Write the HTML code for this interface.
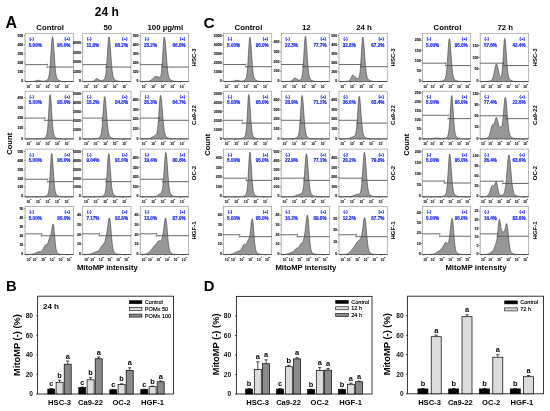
<!DOCTYPE html>
<html><head><meta charset="utf-8"><style>
html,body{margin:0;padding:0;background:#fff;}
body{width:550px;height:411px;overflow:hidden;font-family:"Liberation Sans", sans-serif;}
svg{display:block;filter:blur(0.3px);}
svg text{font-family:"Liberation Sans", sans-serif;}
</style></head><body>
<svg width="550" height="411" viewBox="0 0 550 411" font-family='"Liberation Sans", sans-serif'>
<rect width="550" height="411" fill="#fff"/>
<text x="5.60" y="27.80" font-size="16" text-anchor="start" font-weight="bold" fill="#000">A</text>
<text x="106.80" y="16.30" font-size="12" text-anchor="middle" font-weight="bold" fill="#000">24 h</text>
<text x="203.50" y="27.60" font-size="15.5" text-anchor="start" font-weight="bold" fill="#000">C</text>
<text x="50.15" y="29.80" font-size="7.8" text-anchor="middle" font-weight="bold" fill="#000">Control</text>
<g transform="translate(25.10,33.30)">
<rect x="0" y="0" width="48.3" height="48.2" fill="#fff" stroke="#9a9a9a" stroke-width="0.7"/>
<line x1="-1.2" y1="2.30" x2="0" y2="2.30" stroke="#444" stroke-width="0.6"/>
<text x="-1.8" y="3.55" font-size="3.5" text-anchor="end" font-weight="bold" fill="#111" stroke="#111" stroke-width="0.12">500</text>
<line x1="-0.7" y1="4.56" x2="0" y2="4.56" stroke="#777" stroke-width="0.4"/>
<line x1="-0.7" y1="6.83" x2="0" y2="6.83" stroke="#777" stroke-width="0.4"/>
<line x1="-0.7" y1="9.09" x2="0" y2="9.09" stroke="#777" stroke-width="0.4"/>
<line x1="-1.2" y1="11.36" x2="0" y2="11.36" stroke="#444" stroke-width="0.6"/>
<text x="-1.8" y="12.61" font-size="3.5" text-anchor="end" font-weight="bold" fill="#111" stroke="#111" stroke-width="0.12">400</text>
<line x1="-0.7" y1="13.62" x2="0" y2="13.62" stroke="#777" stroke-width="0.4"/>
<line x1="-0.7" y1="15.89" x2="0" y2="15.89" stroke="#777" stroke-width="0.4"/>
<line x1="-0.7" y1="18.16" x2="0" y2="18.16" stroke="#777" stroke-width="0.4"/>
<line x1="-1.2" y1="20.42" x2="0" y2="20.42" stroke="#444" stroke-width="0.6"/>
<text x="-1.8" y="21.67" font-size="3.5" text-anchor="end" font-weight="bold" fill="#111" stroke="#111" stroke-width="0.12">300</text>
<line x1="-0.7" y1="22.69" x2="0" y2="22.69" stroke="#777" stroke-width="0.4"/>
<line x1="-0.7" y1="24.95" x2="0" y2="24.95" stroke="#777" stroke-width="0.4"/>
<line x1="-0.7" y1="27.22" x2="0" y2="27.22" stroke="#777" stroke-width="0.4"/>
<line x1="-1.2" y1="29.48" x2="0" y2="29.48" stroke="#444" stroke-width="0.6"/>
<text x="-1.8" y="30.73" font-size="3.5" text-anchor="end" font-weight="bold" fill="#111" stroke="#111" stroke-width="0.12">200</text>
<line x1="-0.7" y1="31.75" x2="0" y2="31.75" stroke="#777" stroke-width="0.4"/>
<line x1="-0.7" y1="34.01" x2="0" y2="34.01" stroke="#777" stroke-width="0.4"/>
<line x1="-0.7" y1="36.27" x2="0" y2="36.27" stroke="#777" stroke-width="0.4"/>
<line x1="-1.2" y1="38.54" x2="0" y2="38.54" stroke="#444" stroke-width="0.6"/>
<text x="-1.8" y="39.79" font-size="3.5" text-anchor="end" font-weight="bold" fill="#111" stroke="#111" stroke-width="0.12">100</text>
<line x1="-0.7" y1="40.80" x2="0" y2="40.80" stroke="#777" stroke-width="0.4"/>
<line x1="-0.7" y1="43.07" x2="0" y2="43.07" stroke="#777" stroke-width="0.4"/>
<line x1="-0.7" y1="45.34" x2="0" y2="45.34" stroke="#777" stroke-width="0.4"/>
<line x1="-1.2" y1="47.60" x2="0" y2="47.60" stroke="#444" stroke-width="0.6"/>
<text x="-1.8" y="48.85" font-size="3.5" text-anchor="end" font-weight="bold" fill="#111" stroke="#111" stroke-width="0.12">0</text>
<line x1="2.00" y1="48.2" x2="2.00" y2="49.30" stroke="#555" stroke-width="0.6"/>
<text x="3.20" y="54.70" font-size="3.3" text-anchor="middle" font-weight="bold" fill="#222" stroke="#222" stroke-width="0.1">10</text>
<text x="4.90" y="51.60" font-size="2.5" font-weight="bold" fill="#222" stroke="#222" stroke-width="0.08">3</text>
<line x1="11.55" y1="48.2" x2="11.55" y2="49.30" stroke="#555" stroke-width="0.6"/>
<text x="12.75" y="54.70" font-size="3.3" text-anchor="middle" font-weight="bold" fill="#222" stroke="#222" stroke-width="0.1">10</text>
<text x="14.45" y="51.60" font-size="2.5" font-weight="bold" fill="#222" stroke="#222" stroke-width="0.08">4</text>
<line x1="21.10" y1="48.2" x2="21.10" y2="49.30" stroke="#555" stroke-width="0.6"/>
<text x="22.30" y="54.70" font-size="3.3" text-anchor="middle" font-weight="bold" fill="#222" stroke="#222" stroke-width="0.1">10</text>
<text x="24.00" y="51.60" font-size="2.5" font-weight="bold" fill="#222" stroke="#222" stroke-width="0.08">5</text>
<line x1="30.65" y1="48.2" x2="30.65" y2="49.30" stroke="#555" stroke-width="0.6"/>
<text x="31.85" y="54.70" font-size="3.3" text-anchor="middle" font-weight="bold" fill="#222" stroke="#222" stroke-width="0.1">10</text>
<text x="33.55" y="51.60" font-size="2.5" font-weight="bold" fill="#222" stroke="#222" stroke-width="0.08">6</text>
<line x1="40.20" y1="48.2" x2="40.20" y2="49.30" stroke="#555" stroke-width="0.6"/>
<text x="41.40" y="54.70" font-size="3.3" text-anchor="middle" font-weight="bold" fill="#222" stroke="#222" stroke-width="0.1">10</text>
<text x="43.10" y="51.60" font-size="2.5" font-weight="bold" fill="#222" stroke="#222" stroke-width="0.08">7</text>
<path d="M0,48.20 L0.00,48.19 L0.40,48.19 L0.80,48.19 L1.21,48.19 L1.61,48.19 L2.01,48.19 L2.41,48.19 L2.82,48.18 L3.22,48.18 L3.62,48.18 L4.03,48.17 L4.43,48.17 L4.83,48.16 L5.23,48.16 L5.63,48.15 L6.04,48.15 L6.44,48.14 L6.84,48.12 L7.25,48.10 L7.65,48.08 L8.05,48.05 L8.45,48.00 L8.85,47.94 L9.26,47.87 L9.66,47.77 L10.06,47.67 L10.46,47.55 L10.87,47.42 L11.27,47.30 L11.67,47.19 L12.07,47.09 L12.48,47.03 L12.88,47.00 L13.28,47.00 L13.68,47.05 L14.09,47.12 L14.49,47.22 L14.89,47.34 L15.29,47.46 L15.70,47.57 L16.10,47.68 L16.50,47.76 L16.90,47.83 L17.31,47.87 L17.71,47.89 L18.11,47.89 L18.51,47.87 L18.92,47.82 L19.32,47.75 L19.72,47.66 L20.12,47.55 L20.53,47.41 L20.93,47.24 L21.33,47.05 L21.73,46.81 L22.14,46.51 L22.54,46.12 L22.94,45.55 L23.34,44.68 L23.75,43.30 L24.15,41.18 L24.55,38.05 L24.95,33.71 L25.36,28.17 L25.76,21.74 L26.16,15.10 L26.56,9.19 L26.97,5.02 L27.37,3.38 L27.77,4.44 L28.18,7.82 L28.58,12.94 L28.98,19.00 L29.38,25.18 L29.79,30.84 L30.19,35.55 L30.59,39.19 L30.99,41.82 L31.39,43.63 L31.80,44.82 L32.20,45.61 L32.60,46.14 L33.01,46.51 L33.41,46.80 L33.81,47.03 L34.21,47.23 L34.62,47.40 L35.02,47.54 L35.42,47.67 L35.82,47.77 L36.23,47.86 L36.63,47.93 L37.03,47.99 L37.43,48.04 L37.84,48.08 L38.24,48.11 L38.64,48.13 L39.04,48.15 L39.45,48.16 L39.85,48.17 L40.25,48.18 L40.65,48.19 L41.05,48.19 L41.46,48.19 L41.86,48.20 L42.26,48.20 L42.66,48.20 L43.07,48.20 L43.47,48.20 L43.87,48.20 L44.27,48.20 L44.68,48.20 L45.08,48.20 L45.48,48.20 L45.88,48.20 L46.29,48.20 L46.69,48.20 L47.09,48.20 L47.49,48.20 L47.90,48.20 L48.30,48.20 L48.30,48.20 Z" fill="#979797" stroke="#3a3a3a" stroke-width="0.6" stroke-linejoin="round"/>
<line x1="0" y1="31.33" x2="22.40" y2="31.33" stroke="#474747" stroke-width="0.8"/>
<line x1="22.40" y1="30.43" x2="22.40" y2="32.23" stroke="#505050" stroke-width="0.6"/>
<line x1="21.90" y1="33.74" x2="48.3" y2="33.74" stroke="#555" stroke-width="0.9"/>
<line x1="21.90" y1="32.74" x2="21.90" y2="34.74" stroke="#5a5a5a" stroke-width="0.6"/>
<text x="4.4" y="6.9" font-size="4.4" font-weight="bold" fill="#1f2ff5" stroke="#1f2ff5" stroke-width="0.2">(-)</text>
<text x="3.7" y="13.3" font-size="4.6" font-weight="bold" fill="#1f2ff5" stroke="#1f2ff5" stroke-width="0.2">5.00%</text>
<text x="44.90" y="6.9" font-size="4.4" text-anchor="end" font-weight="bold" fill="#1f2ff5" stroke="#1f2ff5" stroke-width="0.2">(+)</text>
<text x="45.30" y="13.3" font-size="4.6" text-anchor="end" font-weight="bold" fill="#1f2ff5" stroke="#1f2ff5" stroke-width="0.2">95.0%</text>
</g>
<g transform="translate(25.10,91.20)">
<rect x="0" y="0" width="48.3" height="47.7" fill="#fff" stroke="#9a9a9a" stroke-width="0.7"/>
<line x1="-1.2" y1="6.50" x2="0" y2="6.50" stroke="#444" stroke-width="0.6"/>
<text x="-1.8" y="7.75" font-size="3.5" text-anchor="end" font-weight="bold" fill="#111" stroke="#111" stroke-width="0.12">400</text>
<line x1="-0.7" y1="9.04" x2="0" y2="9.04" stroke="#777" stroke-width="0.4"/>
<line x1="-0.7" y1="11.57" x2="0" y2="11.57" stroke="#777" stroke-width="0.4"/>
<line x1="-0.7" y1="14.11" x2="0" y2="14.11" stroke="#777" stroke-width="0.4"/>
<line x1="-1.2" y1="16.65" x2="0" y2="16.65" stroke="#444" stroke-width="0.6"/>
<text x="-1.8" y="17.90" font-size="3.5" text-anchor="end" font-weight="bold" fill="#111" stroke="#111" stroke-width="0.12">300</text>
<line x1="-0.7" y1="19.19" x2="0" y2="19.19" stroke="#777" stroke-width="0.4"/>
<line x1="-0.7" y1="21.72" x2="0" y2="21.72" stroke="#777" stroke-width="0.4"/>
<line x1="-0.7" y1="24.26" x2="0" y2="24.26" stroke="#777" stroke-width="0.4"/>
<line x1="-1.2" y1="26.80" x2="0" y2="26.80" stroke="#444" stroke-width="0.6"/>
<text x="-1.8" y="28.05" font-size="3.5" text-anchor="end" font-weight="bold" fill="#111" stroke="#111" stroke-width="0.12">200</text>
<line x1="-0.7" y1="29.34" x2="0" y2="29.34" stroke="#777" stroke-width="0.4"/>
<line x1="-0.7" y1="31.88" x2="0" y2="31.88" stroke="#777" stroke-width="0.4"/>
<line x1="-0.7" y1="34.41" x2="0" y2="34.41" stroke="#777" stroke-width="0.4"/>
<line x1="-1.2" y1="36.95" x2="0" y2="36.95" stroke="#444" stroke-width="0.6"/>
<text x="-1.8" y="38.20" font-size="3.5" text-anchor="end" font-weight="bold" fill="#111" stroke="#111" stroke-width="0.12">100</text>
<line x1="-0.7" y1="39.49" x2="0" y2="39.49" stroke="#777" stroke-width="0.4"/>
<line x1="-0.7" y1="42.03" x2="0" y2="42.03" stroke="#777" stroke-width="0.4"/>
<line x1="-0.7" y1="44.56" x2="0" y2="44.56" stroke="#777" stroke-width="0.4"/>
<line x1="-1.2" y1="47.10" x2="0" y2="47.10" stroke="#444" stroke-width="0.6"/>
<text x="-1.8" y="48.35" font-size="3.5" text-anchor="end" font-weight="bold" fill="#111" stroke="#111" stroke-width="0.12">0</text>
<line x1="2.00" y1="47.7" x2="2.00" y2="48.80" stroke="#555" stroke-width="0.6"/>
<text x="3.20" y="54.20" font-size="3.3" text-anchor="middle" font-weight="bold" fill="#222" stroke="#222" stroke-width="0.1">10</text>
<text x="4.90" y="51.10" font-size="2.5" font-weight="bold" fill="#222" stroke="#222" stroke-width="0.08">3</text>
<line x1="11.55" y1="47.7" x2="11.55" y2="48.80" stroke="#555" stroke-width="0.6"/>
<text x="12.75" y="54.20" font-size="3.3" text-anchor="middle" font-weight="bold" fill="#222" stroke="#222" stroke-width="0.1">10</text>
<text x="14.45" y="51.10" font-size="2.5" font-weight="bold" fill="#222" stroke="#222" stroke-width="0.08">4</text>
<line x1="21.10" y1="47.7" x2="21.10" y2="48.80" stroke="#555" stroke-width="0.6"/>
<text x="22.30" y="54.20" font-size="3.3" text-anchor="middle" font-weight="bold" fill="#222" stroke="#222" stroke-width="0.1">10</text>
<text x="24.00" y="51.10" font-size="2.5" font-weight="bold" fill="#222" stroke="#222" stroke-width="0.08">5</text>
<line x1="30.65" y1="47.7" x2="30.65" y2="48.80" stroke="#555" stroke-width="0.6"/>
<text x="31.85" y="54.20" font-size="3.3" text-anchor="middle" font-weight="bold" fill="#222" stroke="#222" stroke-width="0.1">10</text>
<text x="33.55" y="51.10" font-size="2.5" font-weight="bold" fill="#222" stroke="#222" stroke-width="0.08">6</text>
<line x1="40.20" y1="47.7" x2="40.20" y2="48.80" stroke="#555" stroke-width="0.6"/>
<text x="41.40" y="54.20" font-size="3.3" text-anchor="middle" font-weight="bold" fill="#222" stroke="#222" stroke-width="0.1">10</text>
<text x="43.10" y="51.10" font-size="2.5" font-weight="bold" fill="#222" stroke="#222" stroke-width="0.08">7</text>
<path d="M0,47.70 L0.00,47.70 L0.40,47.70 L0.80,47.70 L1.21,47.70 L1.61,47.70 L2.01,47.70 L2.41,47.70 L2.82,47.70 L3.22,47.70 L3.62,47.70 L4.03,47.70 L4.43,47.70 L4.83,47.70 L5.23,47.70 L5.63,47.70 L6.04,47.70 L6.44,47.70 L6.84,47.70 L7.25,47.70 L7.65,47.70 L8.05,47.70 L8.45,47.70 L8.85,47.70 L9.26,47.70 L9.66,47.70 L10.06,47.70 L10.46,47.70 L10.87,47.70 L11.27,47.70 L11.67,47.70 L12.07,47.70 L12.48,47.70 L12.88,47.70 L13.28,47.70 L13.68,47.69 L14.09,47.69 L14.49,47.69 L14.89,47.68 L15.29,47.67 L15.70,47.65 L16.10,47.63 L16.50,47.59 L16.90,47.55 L17.31,47.49 L17.71,47.42 L18.11,47.32 L18.51,47.20 L18.92,47.04 L19.32,46.86 L19.72,46.64 L20.12,46.37 L20.53,46.02 L20.93,45.53 L21.33,44.76 L21.73,43.47 L22.14,41.31 L22.54,37.87 L22.94,32.81 L23.34,26.18 L23.75,18.58 L24.15,11.23 L24.55,5.70 L24.95,3.36 L25.36,4.46 L25.76,8.17 L26.16,13.78 L26.56,20.29 L26.97,26.75 L27.37,32.43 L27.77,36.95 L28.18,40.27 L28.58,42.54 L28.98,44.02 L29.38,44.96 L29.79,45.57 L30.19,45.99 L30.59,46.30 L30.99,46.55 L31.39,46.76 L31.80,46.93 L32.20,47.08 L32.60,47.21 L33.01,47.31 L33.41,47.40 L33.81,47.47 L34.21,47.52 L34.62,47.57 L35.02,47.60 L35.42,47.63 L35.82,47.65 L36.23,47.66 L36.63,47.67 L37.03,47.68 L37.43,47.69 L37.84,47.69 L38.24,47.69 L38.64,47.70 L39.04,47.70 L39.45,47.70 L39.85,47.70 L40.25,47.70 L40.65,47.70 L41.05,47.70 L41.46,47.70 L41.86,47.70 L42.26,47.70 L42.66,47.70 L43.07,47.70 L43.47,47.70 L43.87,47.70 L44.27,47.70 L44.68,47.70 L45.08,47.70 L45.48,47.70 L45.88,47.70 L46.29,47.70 L46.69,47.70 L47.09,47.70 L47.49,47.70 L47.90,47.70 L48.30,47.70 L48.30,47.70 Z" fill="#979797" stroke="#3a3a3a" stroke-width="0.6" stroke-linejoin="round"/>
<line x1="0" y1="26.90" x2="20.00" y2="26.90" stroke="#474747" stroke-width="0.8"/>
<line x1="20.00" y1="26.00" x2="20.00" y2="27.80" stroke="#505050" stroke-width="0.6"/>
<line x1="19.50" y1="29.10" x2="48.3" y2="29.10" stroke="#555" stroke-width="0.9"/>
<line x1="19.50" y1="28.10" x2="19.50" y2="30.10" stroke="#5a5a5a" stroke-width="0.6"/>
<text x="4.4" y="6.9" font-size="4.4" font-weight="bold" fill="#1f2ff5" stroke="#1f2ff5" stroke-width="0.2">(-)</text>
<text x="3.7" y="13.3" font-size="4.6" font-weight="bold" fill="#1f2ff5" stroke="#1f2ff5" stroke-width="0.2">5.00%</text>
<text x="44.90" y="6.9" font-size="4.4" text-anchor="end" font-weight="bold" fill="#1f2ff5" stroke="#1f2ff5" stroke-width="0.2">(+)</text>
<text x="45.30" y="13.3" font-size="4.6" text-anchor="end" font-weight="bold" fill="#1f2ff5" stroke="#1f2ff5" stroke-width="0.2">95.0%</text>
</g>
<g transform="translate(25.10,149.10)">
<rect x="0" y="0" width="48.3" height="47.7" fill="#fff" stroke="#9a9a9a" stroke-width="0.7"/>
<line x1="-1.2" y1="2.30" x2="0" y2="2.30" stroke="#444" stroke-width="0.6"/>
<text x="-1.8" y="3.55" font-size="3.5" text-anchor="end" font-weight="bold" fill="#111" stroke="#111" stroke-width="0.12">500</text>
<line x1="-0.7" y1="4.54" x2="0" y2="4.54" stroke="#777" stroke-width="0.4"/>
<line x1="-0.7" y1="6.78" x2="0" y2="6.78" stroke="#777" stroke-width="0.4"/>
<line x1="-0.7" y1="9.02" x2="0" y2="9.02" stroke="#777" stroke-width="0.4"/>
<line x1="-1.2" y1="11.26" x2="0" y2="11.26" stroke="#444" stroke-width="0.6"/>
<text x="-1.8" y="12.51" font-size="3.5" text-anchor="end" font-weight="bold" fill="#111" stroke="#111" stroke-width="0.12">400</text>
<line x1="-0.7" y1="13.50" x2="0" y2="13.50" stroke="#777" stroke-width="0.4"/>
<line x1="-0.7" y1="15.74" x2="0" y2="15.74" stroke="#777" stroke-width="0.4"/>
<line x1="-0.7" y1="17.98" x2="0" y2="17.98" stroke="#777" stroke-width="0.4"/>
<line x1="-1.2" y1="20.22" x2="0" y2="20.22" stroke="#444" stroke-width="0.6"/>
<text x="-1.8" y="21.47" font-size="3.5" text-anchor="end" font-weight="bold" fill="#111" stroke="#111" stroke-width="0.12">300</text>
<line x1="-0.7" y1="22.46" x2="0" y2="22.46" stroke="#777" stroke-width="0.4"/>
<line x1="-0.7" y1="24.70" x2="0" y2="24.70" stroke="#777" stroke-width="0.4"/>
<line x1="-0.7" y1="26.94" x2="0" y2="26.94" stroke="#777" stroke-width="0.4"/>
<line x1="-1.2" y1="29.18" x2="0" y2="29.18" stroke="#444" stroke-width="0.6"/>
<text x="-1.8" y="30.43" font-size="3.5" text-anchor="end" font-weight="bold" fill="#111" stroke="#111" stroke-width="0.12">200</text>
<line x1="-0.7" y1="31.42" x2="0" y2="31.42" stroke="#777" stroke-width="0.4"/>
<line x1="-0.7" y1="33.66" x2="0" y2="33.66" stroke="#777" stroke-width="0.4"/>
<line x1="-0.7" y1="35.90" x2="0" y2="35.90" stroke="#777" stroke-width="0.4"/>
<line x1="-1.2" y1="38.14" x2="0" y2="38.14" stroke="#444" stroke-width="0.6"/>
<text x="-1.8" y="39.39" font-size="3.5" text-anchor="end" font-weight="bold" fill="#111" stroke="#111" stroke-width="0.12">100</text>
<line x1="-0.7" y1="40.38" x2="0" y2="40.38" stroke="#777" stroke-width="0.4"/>
<line x1="-0.7" y1="42.62" x2="0" y2="42.62" stroke="#777" stroke-width="0.4"/>
<line x1="-0.7" y1="44.86" x2="0" y2="44.86" stroke="#777" stroke-width="0.4"/>
<line x1="-1.2" y1="47.10" x2="0" y2="47.10" stroke="#444" stroke-width="0.6"/>
<text x="-1.8" y="48.35" font-size="3.5" text-anchor="end" font-weight="bold" fill="#111" stroke="#111" stroke-width="0.12">0</text>
<line x1="2.00" y1="47.7" x2="2.00" y2="48.80" stroke="#555" stroke-width="0.6"/>
<text x="3.20" y="54.20" font-size="3.3" text-anchor="middle" font-weight="bold" fill="#222" stroke="#222" stroke-width="0.1">10</text>
<text x="4.90" y="51.10" font-size="2.5" font-weight="bold" fill="#222" stroke="#222" stroke-width="0.08">3</text>
<line x1="11.55" y1="47.7" x2="11.55" y2="48.80" stroke="#555" stroke-width="0.6"/>
<text x="12.75" y="54.20" font-size="3.3" text-anchor="middle" font-weight="bold" fill="#222" stroke="#222" stroke-width="0.1">10</text>
<text x="14.45" y="51.10" font-size="2.5" font-weight="bold" fill="#222" stroke="#222" stroke-width="0.08">4</text>
<line x1="21.10" y1="47.7" x2="21.10" y2="48.80" stroke="#555" stroke-width="0.6"/>
<text x="22.30" y="54.20" font-size="3.3" text-anchor="middle" font-weight="bold" fill="#222" stroke="#222" stroke-width="0.1">10</text>
<text x="24.00" y="51.10" font-size="2.5" font-weight="bold" fill="#222" stroke="#222" stroke-width="0.08">5</text>
<line x1="30.65" y1="47.7" x2="30.65" y2="48.80" stroke="#555" stroke-width="0.6"/>
<text x="31.85" y="54.20" font-size="3.3" text-anchor="middle" font-weight="bold" fill="#222" stroke="#222" stroke-width="0.1">10</text>
<text x="33.55" y="51.10" font-size="2.5" font-weight="bold" fill="#222" stroke="#222" stroke-width="0.08">6</text>
<line x1="40.20" y1="47.7" x2="40.20" y2="48.80" stroke="#555" stroke-width="0.6"/>
<text x="41.40" y="54.20" font-size="3.3" text-anchor="middle" font-weight="bold" fill="#222" stroke="#222" stroke-width="0.1">10</text>
<text x="43.10" y="51.10" font-size="2.5" font-weight="bold" fill="#222" stroke="#222" stroke-width="0.08">7</text>
<path d="M0,47.70 L0.00,47.70 L0.40,47.70 L0.80,47.70 L1.21,47.70 L1.61,47.70 L2.01,47.70 L2.41,47.70 L2.82,47.70 L3.22,47.70 L3.62,47.70 L4.03,47.70 L4.43,47.70 L4.83,47.70 L5.23,47.70 L5.63,47.70 L6.04,47.70 L6.44,47.70 L6.84,47.70 L7.25,47.70 L7.65,47.70 L8.05,47.70 L8.45,47.70 L8.85,47.70 L9.26,47.70 L9.66,47.70 L10.06,47.70 L10.46,47.70 L10.87,47.70 L11.27,47.70 L11.67,47.70 L12.07,47.70 L12.48,47.70 L12.88,47.70 L13.28,47.70 L13.68,47.70 L14.09,47.70 L14.49,47.70 L14.89,47.70 L15.29,47.69 L15.70,47.69 L16.10,47.69 L16.50,47.68 L16.90,47.67 L17.31,47.65 L17.71,47.63 L18.11,47.60 L18.51,47.55 L18.92,47.49 L19.32,47.42 L19.72,47.32 L20.12,47.20 L20.53,47.05 L20.93,46.87 L21.33,46.66 L21.73,46.39 L22.14,46.05 L22.54,45.56 L22.94,44.80 L23.34,43.52 L23.75,41.38 L24.15,37.97 L24.55,32.99 L24.95,26.47 L25.36,19.02 L25.76,11.85 L26.16,6.50 L26.56,4.31 L26.97,5.45 L27.37,9.14 L27.77,14.66 L28.18,21.04 L28.58,27.35 L28.98,32.88 L29.38,37.28 L29.79,40.50 L30.19,42.70 L30.59,44.13 L30.99,45.04 L31.39,45.63 L31.80,46.04 L32.20,46.34 L32.60,46.58 L33.01,46.78 L33.41,46.95 L33.81,47.10 L34.21,47.22 L34.62,47.32 L35.02,47.41 L35.42,47.47 L35.82,47.53 L36.23,47.57 L36.63,47.60 L37.03,47.63 L37.43,47.65 L37.84,47.66 L38.24,47.67 L38.64,47.68 L39.04,47.69 L39.45,47.69 L39.85,47.69 L40.25,47.70 L40.65,47.70 L41.05,47.70 L41.46,47.70 L41.86,47.70 L42.26,47.70 L42.66,47.70 L43.07,47.70 L43.47,47.70 L43.87,47.70 L44.27,47.70 L44.68,47.70 L45.08,47.70 L45.48,47.70 L45.88,47.70 L46.29,47.70 L46.69,47.70 L47.09,47.70 L47.49,47.70 L47.90,47.70 L48.30,47.70 L48.30,47.70 Z" fill="#979797" stroke="#3a3a3a" stroke-width="0.6" stroke-linejoin="round"/>
<line x1="0" y1="30.19" x2="22.80" y2="30.19" stroke="#474747" stroke-width="0.8"/>
<line x1="22.80" y1="29.29" x2="22.80" y2="31.09" stroke="#505050" stroke-width="0.6"/>
<line x1="22.30" y1="32.58" x2="48.3" y2="32.58" stroke="#555" stroke-width="0.9"/>
<line x1="22.30" y1="31.58" x2="22.30" y2="33.58" stroke="#5a5a5a" stroke-width="0.6"/>
<text x="4.4" y="6.9" font-size="4.4" font-weight="bold" fill="#1f2ff5" stroke="#1f2ff5" stroke-width="0.2">(-)</text>
<text x="3.7" y="13.3" font-size="4.6" font-weight="bold" fill="#1f2ff5" stroke="#1f2ff5" stroke-width="0.2">5.00%</text>
<text x="44.90" y="6.9" font-size="4.4" text-anchor="end" font-weight="bold" fill="#1f2ff5" stroke="#1f2ff5" stroke-width="0.2">(+)</text>
<text x="45.30" y="13.3" font-size="4.6" text-anchor="end" font-weight="bold" fill="#1f2ff5" stroke="#1f2ff5" stroke-width="0.2">95.0%</text>
</g>
<g transform="translate(25.10,206.40)">
<rect x="0" y="0" width="48.3" height="48.1" fill="#fff" stroke="#9a9a9a" stroke-width="0.7"/>
<line x1="-1.2" y1="2.30" x2="0" y2="2.30" stroke="#444" stroke-width="0.6"/>
<text x="-1.8" y="3.55" font-size="3.5" text-anchor="end" font-weight="bold" fill="#111" stroke="#111" stroke-width="0.12">50</text>
<line x1="-0.7" y1="4.56" x2="0" y2="4.56" stroke="#777" stroke-width="0.4"/>
<line x1="-0.7" y1="6.82" x2="0" y2="6.82" stroke="#777" stroke-width="0.4"/>
<line x1="-0.7" y1="9.08" x2="0" y2="9.08" stroke="#777" stroke-width="0.4"/>
<line x1="-1.2" y1="11.34" x2="0" y2="11.34" stroke="#444" stroke-width="0.6"/>
<text x="-1.8" y="12.59" font-size="3.5" text-anchor="end" font-weight="bold" fill="#111" stroke="#111" stroke-width="0.12">40</text>
<line x1="-0.7" y1="13.60" x2="0" y2="13.60" stroke="#777" stroke-width="0.4"/>
<line x1="-0.7" y1="15.86" x2="0" y2="15.86" stroke="#777" stroke-width="0.4"/>
<line x1="-0.7" y1="18.12" x2="0" y2="18.12" stroke="#777" stroke-width="0.4"/>
<line x1="-1.2" y1="20.38" x2="0" y2="20.38" stroke="#444" stroke-width="0.6"/>
<text x="-1.8" y="21.63" font-size="3.5" text-anchor="end" font-weight="bold" fill="#111" stroke="#111" stroke-width="0.12">30</text>
<line x1="-0.7" y1="22.64" x2="0" y2="22.64" stroke="#777" stroke-width="0.4"/>
<line x1="-0.7" y1="24.90" x2="0" y2="24.90" stroke="#777" stroke-width="0.4"/>
<line x1="-0.7" y1="27.16" x2="0" y2="27.16" stroke="#777" stroke-width="0.4"/>
<line x1="-1.2" y1="29.42" x2="0" y2="29.42" stroke="#444" stroke-width="0.6"/>
<text x="-1.8" y="30.67" font-size="3.5" text-anchor="end" font-weight="bold" fill="#111" stroke="#111" stroke-width="0.12">20</text>
<line x1="-0.7" y1="31.68" x2="0" y2="31.68" stroke="#777" stroke-width="0.4"/>
<line x1="-0.7" y1="33.94" x2="0" y2="33.94" stroke="#777" stroke-width="0.4"/>
<line x1="-0.7" y1="36.20" x2="0" y2="36.20" stroke="#777" stroke-width="0.4"/>
<line x1="-1.2" y1="38.46" x2="0" y2="38.46" stroke="#444" stroke-width="0.6"/>
<text x="-1.8" y="39.71" font-size="3.5" text-anchor="end" font-weight="bold" fill="#111" stroke="#111" stroke-width="0.12">10</text>
<line x1="-0.7" y1="40.72" x2="0" y2="40.72" stroke="#777" stroke-width="0.4"/>
<line x1="-0.7" y1="42.98" x2="0" y2="42.98" stroke="#777" stroke-width="0.4"/>
<line x1="-0.7" y1="45.24" x2="0" y2="45.24" stroke="#777" stroke-width="0.4"/>
<line x1="-1.2" y1="47.50" x2="0" y2="47.50" stroke="#444" stroke-width="0.6"/>
<text x="-1.8" y="48.75" font-size="3.5" text-anchor="end" font-weight="bold" fill="#111" stroke="#111" stroke-width="0.12">0</text>
<line x1="2.10" y1="48.1" x2="2.10" y2="49.20" stroke="#555" stroke-width="0.6"/>
<text x="3.30" y="54.60" font-size="3.3" text-anchor="middle" font-weight="bold" fill="#222" stroke="#222" stroke-width="0.1">10</text>
<text x="5.00" y="51.50" font-size="2.5" font-weight="bold" fill="#222" stroke="#222" stroke-width="0.08">0</text>
<line x1="8.30" y1="48.1" x2="8.30" y2="49.20" stroke="#555" stroke-width="0.6"/>
<text x="9.50" y="54.60" font-size="3.3" text-anchor="middle" font-weight="bold" fill="#222" stroke="#222" stroke-width="0.1">10</text>
<text x="11.20" y="51.50" font-size="2.5" font-weight="bold" fill="#222" stroke="#222" stroke-width="0.08">1</text>
<line x1="16.80" y1="48.1" x2="16.80" y2="49.20" stroke="#555" stroke-width="0.6"/>
<text x="18.00" y="54.60" font-size="3.3" text-anchor="middle" font-weight="bold" fill="#222" stroke="#222" stroke-width="0.1">10</text>
<text x="19.70" y="51.50" font-size="2.5" font-weight="bold" fill="#222" stroke="#222" stroke-width="0.08">2</text>
<line x1="25.40" y1="48.1" x2="25.40" y2="49.20" stroke="#555" stroke-width="0.6"/>
<text x="26.60" y="54.60" font-size="3.3" text-anchor="middle" font-weight="bold" fill="#222" stroke="#222" stroke-width="0.1">10</text>
<text x="28.30" y="51.50" font-size="2.5" font-weight="bold" fill="#222" stroke="#222" stroke-width="0.08">3</text>
<line x1="34.10" y1="48.1" x2="34.10" y2="49.20" stroke="#555" stroke-width="0.6"/>
<text x="35.30" y="54.60" font-size="3.3" text-anchor="middle" font-weight="bold" fill="#222" stroke="#222" stroke-width="0.1">10</text>
<text x="37.00" y="51.50" font-size="2.5" font-weight="bold" fill="#222" stroke="#222" stroke-width="0.08">4</text>
<line x1="42.20" y1="48.1" x2="42.20" y2="49.20" stroke="#555" stroke-width="0.6"/>
<text x="43.40" y="54.60" font-size="3.3" text-anchor="middle" font-weight="bold" fill="#222" stroke="#222" stroke-width="0.1">10</text>
<text x="45.10" y="51.50" font-size="2.5" font-weight="bold" fill="#222" stroke="#222" stroke-width="0.08">5</text>
<path d="M0,48.10 L0.00,48.05 L0.40,48.05 L0.80,48.04 L1.21,48.04 L1.61,48.03 L2.01,48.02 L2.41,48.02 L2.82,48.01 L3.22,48.00 L3.62,47.98 L4.03,47.97 L4.43,47.95 L4.83,47.93 L5.23,47.91 L5.63,47.88 L6.04,47.84 L6.44,47.79 L6.84,47.73 L7.25,47.66 L7.65,47.58 L8.05,47.48 L8.45,47.36 L8.85,47.23 L9.26,47.09 L9.66,46.93 L10.06,46.75 L10.46,46.57 L10.87,46.39 L11.27,46.20 L11.67,46.02 L12.07,45.84 L12.48,45.69 L12.88,45.55 L13.28,45.43 L13.68,45.33 L14.09,45.25 L14.49,45.19 L14.89,45.12 L15.29,45.03 L15.70,44.91 L16.10,44.74 L16.50,44.48 L16.90,44.11 L17.31,43.64 L17.71,43.04 L18.11,42.35 L18.51,41.58 L18.92,40.79 L19.32,40.03 L19.72,39.35 L20.12,38.80 L20.53,38.40 L20.93,38.14 L21.33,38.05 L21.73,37.99 L22.14,37.76 L22.54,37.19 L22.94,36.21 L23.34,34.88 L23.75,33.40 L24.15,32.02 L24.55,30.90 L24.95,30.05 L25.36,29.25 L25.76,28.16 L26.16,26.52 L26.56,24.27 L26.97,21.71 L27.37,19.37 L27.77,17.93 L28.18,17.92 L28.58,19.73 L28.98,23.20 L29.38,27.69 L29.79,32.41 L30.19,36.71 L30.59,40.18 L30.99,42.73 L31.39,44.44 L31.80,45.54 L32.20,46.23 L32.60,46.66 L33.01,46.96 L33.41,47.19 L33.81,47.36 L34.21,47.51 L34.62,47.63 L35.02,47.73 L35.42,47.81 L35.82,47.88 L36.23,47.93 L36.63,47.98 L37.03,48.01 L37.43,48.03 L37.84,48.05 L38.24,48.07 L38.64,48.08 L39.04,48.08 L39.45,48.09 L39.85,48.09 L40.25,48.09 L40.65,48.10 L41.05,48.10 L41.46,48.10 L41.86,48.10 L42.26,48.10 L42.66,48.10 L43.07,48.10 L43.47,48.10 L43.87,48.10 L44.27,48.10 L44.68,48.10 L45.08,48.10 L45.48,48.10 L45.88,48.10 L46.29,48.10 L46.69,48.10 L47.09,48.10 L47.49,48.10 L47.90,48.10 L48.30,48.10 L48.30,48.10 Z" fill="#979797" stroke="#3a3a3a" stroke-width="0.6" stroke-linejoin="round"/>
<line x1="0" y1="27.42" x2="16.60" y2="27.42" stroke="#474747" stroke-width="0.8"/>
<line x1="16.60" y1="26.52" x2="16.60" y2="28.32" stroke="#505050" stroke-width="0.6"/>
<line x1="16.10" y1="29.34" x2="48.3" y2="29.34" stroke="#555" stroke-width="0.9"/>
<line x1="16.10" y1="28.34" x2="16.10" y2="30.34" stroke="#5a5a5a" stroke-width="0.6"/>
<text x="4.4" y="6.9" font-size="4.4" font-weight="bold" fill="#1f2ff5" stroke="#1f2ff5" stroke-width="0.2">(-)</text>
<text x="3.7" y="13.3" font-size="4.6" font-weight="bold" fill="#1f2ff5" stroke="#1f2ff5" stroke-width="0.2">5.00%</text>
<text x="44.90" y="6.9" font-size="4.4" text-anchor="end" font-weight="bold" fill="#1f2ff5" stroke="#1f2ff5" stroke-width="0.2">(+)</text>
<text x="45.30" y="13.3" font-size="4.6" text-anchor="end" font-weight="bold" fill="#1f2ff5" stroke="#1f2ff5" stroke-width="0.2">95.0%</text>
</g>
<text x="107.75" y="29.80" font-size="7.8" text-anchor="middle" font-weight="bold" fill="#000">50</text>
<g transform="translate(82.70,33.30)">
<rect x="0" y="0" width="48.3" height="48.2" fill="#fff" stroke="#9a9a9a" stroke-width="0.7"/>
<line x1="-1.2" y1="9.60" x2="0" y2="9.60" stroke="#444" stroke-width="0.6"/>
<text x="-1.8" y="10.85" font-size="3.5" text-anchor="end" font-weight="bold" fill="#111" stroke="#111" stroke-width="0.12">4000</text>
<line x1="-0.7" y1="11.97" x2="0" y2="11.97" stroke="#777" stroke-width="0.4"/>
<line x1="-0.7" y1="14.35" x2="0" y2="14.35" stroke="#777" stroke-width="0.4"/>
<line x1="-0.7" y1="16.73" x2="0" y2="16.73" stroke="#777" stroke-width="0.4"/>
<line x1="-1.2" y1="19.10" x2="0" y2="19.10" stroke="#444" stroke-width="0.6"/>
<text x="-1.8" y="20.35" font-size="3.5" text-anchor="end" font-weight="bold" fill="#111" stroke="#111" stroke-width="0.12">3000</text>
<line x1="-0.7" y1="21.48" x2="0" y2="21.48" stroke="#777" stroke-width="0.4"/>
<line x1="-0.7" y1="23.85" x2="0" y2="23.85" stroke="#777" stroke-width="0.4"/>
<line x1="-0.7" y1="26.23" x2="0" y2="26.23" stroke="#777" stroke-width="0.4"/>
<line x1="-1.2" y1="28.60" x2="0" y2="28.60" stroke="#444" stroke-width="0.6"/>
<text x="-1.8" y="29.85" font-size="3.5" text-anchor="end" font-weight="bold" fill="#111" stroke="#111" stroke-width="0.12">2000</text>
<line x1="-0.7" y1="30.98" x2="0" y2="30.98" stroke="#777" stroke-width="0.4"/>
<line x1="-0.7" y1="33.35" x2="0" y2="33.35" stroke="#777" stroke-width="0.4"/>
<line x1="-0.7" y1="35.73" x2="0" y2="35.73" stroke="#777" stroke-width="0.4"/>
<line x1="-1.2" y1="38.10" x2="0" y2="38.10" stroke="#444" stroke-width="0.6"/>
<text x="-1.8" y="39.35" font-size="3.5" text-anchor="end" font-weight="bold" fill="#111" stroke="#111" stroke-width="0.12">1000</text>
<line x1="-0.7" y1="40.48" x2="0" y2="40.48" stroke="#777" stroke-width="0.4"/>
<line x1="-0.7" y1="42.85" x2="0" y2="42.85" stroke="#777" stroke-width="0.4"/>
<line x1="-0.7" y1="45.23" x2="0" y2="45.23" stroke="#777" stroke-width="0.4"/>
<line x1="-1.2" y1="47.60" x2="0" y2="47.60" stroke="#444" stroke-width="0.6"/>
<text x="-1.8" y="48.85" font-size="3.5" text-anchor="end" font-weight="bold" fill="#111" stroke="#111" stroke-width="0.12">0</text>
<line x1="2.00" y1="48.2" x2="2.00" y2="49.30" stroke="#555" stroke-width="0.6"/>
<text x="3.20" y="54.70" font-size="3.3" text-anchor="middle" font-weight="bold" fill="#222" stroke="#222" stroke-width="0.1">10</text>
<text x="4.90" y="51.60" font-size="2.5" font-weight="bold" fill="#222" stroke="#222" stroke-width="0.08">3</text>
<line x1="11.55" y1="48.2" x2="11.55" y2="49.30" stroke="#555" stroke-width="0.6"/>
<text x="12.75" y="54.70" font-size="3.3" text-anchor="middle" font-weight="bold" fill="#222" stroke="#222" stroke-width="0.1">10</text>
<text x="14.45" y="51.60" font-size="2.5" font-weight="bold" fill="#222" stroke="#222" stroke-width="0.08">4</text>
<line x1="21.10" y1="48.2" x2="21.10" y2="49.30" stroke="#555" stroke-width="0.6"/>
<text x="22.30" y="54.70" font-size="3.3" text-anchor="middle" font-weight="bold" fill="#222" stroke="#222" stroke-width="0.1">10</text>
<text x="24.00" y="51.60" font-size="2.5" font-weight="bold" fill="#222" stroke="#222" stroke-width="0.08">5</text>
<line x1="30.65" y1="48.2" x2="30.65" y2="49.30" stroke="#555" stroke-width="0.6"/>
<text x="31.85" y="54.70" font-size="3.3" text-anchor="middle" font-weight="bold" fill="#222" stroke="#222" stroke-width="0.1">10</text>
<text x="33.55" y="51.60" font-size="2.5" font-weight="bold" fill="#222" stroke="#222" stroke-width="0.08">6</text>
<line x1="40.20" y1="48.2" x2="40.20" y2="49.30" stroke="#555" stroke-width="0.6"/>
<text x="41.40" y="54.70" font-size="3.3" text-anchor="middle" font-weight="bold" fill="#222" stroke="#222" stroke-width="0.1">10</text>
<text x="43.10" y="51.60" font-size="2.5" font-weight="bold" fill="#222" stroke="#222" stroke-width="0.08">7</text>
<path d="M0,48.20 L0.00,48.20 L0.40,48.20 L0.80,48.20 L1.21,48.20 L1.61,48.20 L2.01,48.20 L2.41,48.19 L2.82,48.19 L3.22,48.19 L3.62,48.19 L4.03,48.19 L4.43,48.18 L4.83,48.18 L5.23,48.17 L5.63,48.17 L6.04,48.16 L6.44,48.15 L6.84,48.14 L7.25,48.13 L7.65,48.12 L8.05,48.10 L8.45,48.08 L8.85,48.05 L9.26,48.01 L9.66,47.96 L10.06,47.88 L10.46,47.76 L10.87,47.58 L11.27,47.36 L11.67,47.07 L12.07,46.72 L12.48,46.35 L12.88,45.98 L13.28,45.65 L13.68,45.41 L14.09,45.30 L14.49,45.31 L14.89,45.44 L15.29,45.65 L15.70,45.93 L16.10,46.23 L16.50,46.54 L16.90,46.81 L17.31,47.03 L17.71,47.20 L18.11,47.30 L18.51,47.34 L18.92,47.32 L19.32,47.25 L19.72,47.14 L20.12,46.98 L20.53,46.78 L20.93,46.52 L21.33,46.17 L21.73,45.67 L22.14,44.90 L22.54,43.69 L22.94,41.80 L23.34,38.96 L23.75,34.96 L24.15,29.73 L24.55,23.50 L24.95,16.83 L25.36,10.63 L25.76,5.90 L26.16,3.53 L26.56,3.85 L26.97,6.33 L27.37,10.55 L27.77,15.93 L28.18,21.76 L28.58,27.42 L28.98,32.44 L29.38,36.58 L29.79,39.77 L30.19,42.10 L30.59,43.72 L30.99,44.83 L31.39,45.57 L31.80,46.08 L32.20,46.45 L32.60,46.74 L33.01,46.97 L33.41,47.16 L33.81,47.33 L34.21,47.47 L34.62,47.60 L35.02,47.71 L35.42,47.80 L35.82,47.88 L36.23,47.94 L36.63,48.00 L37.03,48.04 L37.43,48.08 L37.84,48.11 L38.24,48.13 L38.64,48.15 L39.04,48.16 L39.45,48.17 L39.85,48.18 L40.25,48.18 L40.65,48.19 L41.05,48.19 L41.46,48.19 L41.86,48.20 L42.26,48.20 L42.66,48.20 L43.07,48.20 L43.47,48.20 L43.87,48.20 L44.27,48.20 L44.68,48.20 L45.08,48.20 L45.48,48.20 L45.88,48.20 L46.29,48.20 L46.69,48.20 L47.09,48.20 L47.49,48.20 L47.90,48.20 L48.30,48.20 L48.30,48.20 Z" fill="#979797" stroke="#3a3a3a" stroke-width="0.6" stroke-linejoin="round"/>
<line x1="0" y1="31.33" x2="23.60" y2="31.33" stroke="#474747" stroke-width="0.8"/>
<line x1="23.60" y1="30.43" x2="23.60" y2="32.23" stroke="#505050" stroke-width="0.6"/>
<line x1="23.10" y1="33.74" x2="48.3" y2="33.74" stroke="#555" stroke-width="0.9"/>
<line x1="23.10" y1="32.74" x2="23.10" y2="34.74" stroke="#5a5a5a" stroke-width="0.6"/>
<text x="4.4" y="6.9" font-size="4.4" font-weight="bold" fill="#1f2ff5" stroke="#1f2ff5" stroke-width="0.2">(-)</text>
<text x="3.7" y="13.3" font-size="4.6" font-weight="bold" fill="#1f2ff5" stroke="#1f2ff5" stroke-width="0.2">11.8%</text>
<text x="44.90" y="6.9" font-size="4.4" text-anchor="end" font-weight="bold" fill="#1f2ff5" stroke="#1f2ff5" stroke-width="0.2">(+)</text>
<text x="45.30" y="13.3" font-size="4.6" text-anchor="end" font-weight="bold" fill="#1f2ff5" stroke="#1f2ff5" stroke-width="0.2">88.2%</text>
</g>
<g transform="translate(82.70,91.20)">
<rect x="0" y="0" width="48.3" height="47.7" fill="#fff" stroke="#9a9a9a" stroke-width="0.7"/>
<line x1="-1.2" y1="2.30" x2="0" y2="2.30" stroke="#444" stroke-width="0.6"/>
<text x="-1.8" y="3.55" font-size="3.5" text-anchor="end" font-weight="bold" fill="#111" stroke="#111" stroke-width="0.12">5000</text>
<line x1="-0.7" y1="4.54" x2="0" y2="4.54" stroke="#777" stroke-width="0.4"/>
<line x1="-0.7" y1="6.78" x2="0" y2="6.78" stroke="#777" stroke-width="0.4"/>
<line x1="-0.7" y1="9.02" x2="0" y2="9.02" stroke="#777" stroke-width="0.4"/>
<line x1="-1.2" y1="11.26" x2="0" y2="11.26" stroke="#444" stroke-width="0.6"/>
<text x="-1.8" y="12.51" font-size="3.5" text-anchor="end" font-weight="bold" fill="#111" stroke="#111" stroke-width="0.12">4000</text>
<line x1="-0.7" y1="13.50" x2="0" y2="13.50" stroke="#777" stroke-width="0.4"/>
<line x1="-0.7" y1="15.74" x2="0" y2="15.74" stroke="#777" stroke-width="0.4"/>
<line x1="-0.7" y1="17.98" x2="0" y2="17.98" stroke="#777" stroke-width="0.4"/>
<line x1="-1.2" y1="20.22" x2="0" y2="20.22" stroke="#444" stroke-width="0.6"/>
<text x="-1.8" y="21.47" font-size="3.5" text-anchor="end" font-weight="bold" fill="#111" stroke="#111" stroke-width="0.12">3000</text>
<line x1="-0.7" y1="22.46" x2="0" y2="22.46" stroke="#777" stroke-width="0.4"/>
<line x1="-0.7" y1="24.70" x2="0" y2="24.70" stroke="#777" stroke-width="0.4"/>
<line x1="-0.7" y1="26.94" x2="0" y2="26.94" stroke="#777" stroke-width="0.4"/>
<line x1="-1.2" y1="29.18" x2="0" y2="29.18" stroke="#444" stroke-width="0.6"/>
<text x="-1.8" y="30.43" font-size="3.5" text-anchor="end" font-weight="bold" fill="#111" stroke="#111" stroke-width="0.12">2000</text>
<line x1="-0.7" y1="31.42" x2="0" y2="31.42" stroke="#777" stroke-width="0.4"/>
<line x1="-0.7" y1="33.66" x2="0" y2="33.66" stroke="#777" stroke-width="0.4"/>
<line x1="-0.7" y1="35.90" x2="0" y2="35.90" stroke="#777" stroke-width="0.4"/>
<line x1="-1.2" y1="38.14" x2="0" y2="38.14" stroke="#444" stroke-width="0.6"/>
<text x="-1.8" y="39.39" font-size="3.5" text-anchor="end" font-weight="bold" fill="#111" stroke="#111" stroke-width="0.12">1000</text>
<line x1="-0.7" y1="40.38" x2="0" y2="40.38" stroke="#777" stroke-width="0.4"/>
<line x1="-0.7" y1="42.62" x2="0" y2="42.62" stroke="#777" stroke-width="0.4"/>
<line x1="-0.7" y1="44.86" x2="0" y2="44.86" stroke="#777" stroke-width="0.4"/>
<line x1="-1.2" y1="47.10" x2="0" y2="47.10" stroke="#444" stroke-width="0.6"/>
<text x="-1.8" y="48.35" font-size="3.5" text-anchor="end" font-weight="bold" fill="#111" stroke="#111" stroke-width="0.12">0</text>
<line x1="2.00" y1="47.7" x2="2.00" y2="48.80" stroke="#555" stroke-width="0.6"/>
<text x="3.20" y="54.20" font-size="3.3" text-anchor="middle" font-weight="bold" fill="#222" stroke="#222" stroke-width="0.1">10</text>
<text x="4.90" y="51.10" font-size="2.5" font-weight="bold" fill="#222" stroke="#222" stroke-width="0.08">3</text>
<line x1="11.55" y1="47.7" x2="11.55" y2="48.80" stroke="#555" stroke-width="0.6"/>
<text x="12.75" y="54.20" font-size="3.3" text-anchor="middle" font-weight="bold" fill="#222" stroke="#222" stroke-width="0.1">10</text>
<text x="14.45" y="51.10" font-size="2.5" font-weight="bold" fill="#222" stroke="#222" stroke-width="0.08">4</text>
<line x1="21.10" y1="47.7" x2="21.10" y2="48.80" stroke="#555" stroke-width="0.6"/>
<text x="22.30" y="54.20" font-size="3.3" text-anchor="middle" font-weight="bold" fill="#222" stroke="#222" stroke-width="0.1">10</text>
<text x="24.00" y="51.10" font-size="2.5" font-weight="bold" fill="#222" stroke="#222" stroke-width="0.08">5</text>
<line x1="30.65" y1="47.7" x2="30.65" y2="48.80" stroke="#555" stroke-width="0.6"/>
<text x="31.85" y="54.20" font-size="3.3" text-anchor="middle" font-weight="bold" fill="#222" stroke="#222" stroke-width="0.1">10</text>
<text x="33.55" y="51.10" font-size="2.5" font-weight="bold" fill="#222" stroke="#222" stroke-width="0.08">6</text>
<line x1="40.20" y1="47.7" x2="40.20" y2="48.80" stroke="#555" stroke-width="0.6"/>
<text x="41.40" y="54.20" font-size="3.3" text-anchor="middle" font-weight="bold" fill="#222" stroke="#222" stroke-width="0.1">10</text>
<text x="43.10" y="51.10" font-size="2.5" font-weight="bold" fill="#222" stroke="#222" stroke-width="0.08">7</text>
<path d="M0,47.70 L0.00,47.70 L0.40,47.70 L0.80,47.70 L1.21,47.70 L1.61,47.70 L2.01,47.70 L2.41,47.70 L2.82,47.70 L3.22,47.70 L3.62,47.70 L4.03,47.70 L4.43,47.70 L4.83,47.70 L5.23,47.70 L5.63,47.70 L6.04,47.70 L6.44,47.70 L6.84,47.70 L7.25,47.70 L7.65,47.70 L8.05,47.70 L8.45,47.70 L8.85,47.69 L9.26,47.69 L9.66,47.69 L10.06,47.68 L10.46,47.67 L10.87,47.66 L11.27,47.65 L11.67,47.63 L12.07,47.60 L12.48,47.56 L12.88,47.52 L13.28,47.46 L13.68,47.39 L14.09,47.31 L14.49,47.20 L14.89,47.08 L15.29,46.93 L15.70,46.75 L16.10,46.55 L16.50,46.30 L16.90,45.98 L17.31,45.55 L17.71,44.91 L18.11,43.91 L18.51,42.34 L18.92,39.96 L19.32,36.53 L19.72,31.93 L20.12,26.28 L20.53,20.01 L20.93,13.89 L21.33,8.87 L21.73,5.84 L22.14,5.37 L22.54,7.10 L22.94,10.64 L23.34,15.45 L23.75,20.90 L24.15,26.37 L24.55,31.35 L24.95,35.55 L25.36,38.86 L25.76,41.30 L26.16,43.03 L26.56,44.22 L26.97,45.01 L27.37,45.56 L27.77,45.94 L28.18,46.23 L28.58,46.47 L28.98,46.66 L29.38,46.83 L29.79,46.97 L30.19,47.09 L30.59,47.20 L30.99,47.30 L31.39,47.37 L31.80,47.44 L32.20,47.49 L32.60,47.54 L33.01,47.57 L33.41,47.60 L33.81,47.63 L34.21,47.64 L34.62,47.66 L35.02,47.67 L35.42,47.68 L35.82,47.68 L36.23,47.69 L36.63,47.69 L37.03,47.69 L37.43,47.70 L37.84,47.70 L38.24,47.70 L38.64,47.70 L39.04,47.70 L39.45,47.70 L39.85,47.70 L40.25,47.70 L40.65,47.70 L41.05,47.70 L41.46,47.70 L41.86,47.70 L42.26,47.70 L42.66,47.70 L43.07,47.70 L43.47,47.70 L43.87,47.70 L44.27,47.70 L44.68,47.70 L45.08,47.70 L45.48,47.70 L45.88,47.70 L46.29,47.70 L46.69,47.70 L47.09,47.70 L47.49,47.70 L47.90,47.70 L48.30,47.70 L48.30,47.70 Z" fill="#979797" stroke="#3a3a3a" stroke-width="0.6" stroke-linejoin="round"/>
<line x1="0" y1="26.90" x2="19.80" y2="26.90" stroke="#474747" stroke-width="0.8"/>
<line x1="19.80" y1="26.00" x2="19.80" y2="27.80" stroke="#505050" stroke-width="0.6"/>
<line x1="19.30" y1="29.10" x2="48.3" y2="29.10" stroke="#555" stroke-width="0.9"/>
<line x1="19.30" y1="28.10" x2="19.30" y2="30.10" stroke="#5a5a5a" stroke-width="0.6"/>
<text x="4.4" y="6.9" font-size="4.4" font-weight="bold" fill="#1f2ff5" stroke="#1f2ff5" stroke-width="0.2">(-)</text>
<text x="3.7" y="13.3" font-size="4.6" font-weight="bold" fill="#1f2ff5" stroke="#1f2ff5" stroke-width="0.2">15.2%</text>
<text x="44.90" y="6.9" font-size="4.4" text-anchor="end" font-weight="bold" fill="#1f2ff5" stroke="#1f2ff5" stroke-width="0.2">(+)</text>
<text x="45.30" y="13.3" font-size="4.6" text-anchor="end" font-weight="bold" fill="#1f2ff5" stroke="#1f2ff5" stroke-width="0.2">84.8%</text>
</g>
<g transform="translate(82.70,149.10)">
<rect x="0" y="0" width="48.3" height="47.7" fill="#fff" stroke="#9a9a9a" stroke-width="0.7"/>
<line x1="-1.2" y1="2.30" x2="0" y2="2.30" stroke="#444" stroke-width="0.6"/>
<text x="-1.8" y="3.55" font-size="3.5" text-anchor="end" font-weight="bold" fill="#111" stroke="#111" stroke-width="0.12">5000</text>
<line x1="-0.7" y1="4.54" x2="0" y2="4.54" stroke="#777" stroke-width="0.4"/>
<line x1="-0.7" y1="6.78" x2="0" y2="6.78" stroke="#777" stroke-width="0.4"/>
<line x1="-0.7" y1="9.02" x2="0" y2="9.02" stroke="#777" stroke-width="0.4"/>
<line x1="-1.2" y1="11.26" x2="0" y2="11.26" stroke="#444" stroke-width="0.6"/>
<text x="-1.8" y="12.51" font-size="3.5" text-anchor="end" font-weight="bold" fill="#111" stroke="#111" stroke-width="0.12">4000</text>
<line x1="-0.7" y1="13.50" x2="0" y2="13.50" stroke="#777" stroke-width="0.4"/>
<line x1="-0.7" y1="15.74" x2="0" y2="15.74" stroke="#777" stroke-width="0.4"/>
<line x1="-0.7" y1="17.98" x2="0" y2="17.98" stroke="#777" stroke-width="0.4"/>
<line x1="-1.2" y1="20.22" x2="0" y2="20.22" stroke="#444" stroke-width="0.6"/>
<text x="-1.8" y="21.47" font-size="3.5" text-anchor="end" font-weight="bold" fill="#111" stroke="#111" stroke-width="0.12">3000</text>
<line x1="-0.7" y1="22.46" x2="0" y2="22.46" stroke="#777" stroke-width="0.4"/>
<line x1="-0.7" y1="24.70" x2="0" y2="24.70" stroke="#777" stroke-width="0.4"/>
<line x1="-0.7" y1="26.94" x2="0" y2="26.94" stroke="#777" stroke-width="0.4"/>
<line x1="-1.2" y1="29.18" x2="0" y2="29.18" stroke="#444" stroke-width="0.6"/>
<text x="-1.8" y="30.43" font-size="3.5" text-anchor="end" font-weight="bold" fill="#111" stroke="#111" stroke-width="0.12">2000</text>
<line x1="-0.7" y1="31.42" x2="0" y2="31.42" stroke="#777" stroke-width="0.4"/>
<line x1="-0.7" y1="33.66" x2="0" y2="33.66" stroke="#777" stroke-width="0.4"/>
<line x1="-0.7" y1="35.90" x2="0" y2="35.90" stroke="#777" stroke-width="0.4"/>
<line x1="-1.2" y1="38.14" x2="0" y2="38.14" stroke="#444" stroke-width="0.6"/>
<text x="-1.8" y="39.39" font-size="3.5" text-anchor="end" font-weight="bold" fill="#111" stroke="#111" stroke-width="0.12">1000</text>
<line x1="-0.7" y1="40.38" x2="0" y2="40.38" stroke="#777" stroke-width="0.4"/>
<line x1="-0.7" y1="42.62" x2="0" y2="42.62" stroke="#777" stroke-width="0.4"/>
<line x1="-0.7" y1="44.86" x2="0" y2="44.86" stroke="#777" stroke-width="0.4"/>
<line x1="-1.2" y1="47.10" x2="0" y2="47.10" stroke="#444" stroke-width="0.6"/>
<text x="-1.8" y="48.35" font-size="3.5" text-anchor="end" font-weight="bold" fill="#111" stroke="#111" stroke-width="0.12">0</text>
<line x1="2.00" y1="47.7" x2="2.00" y2="48.80" stroke="#555" stroke-width="0.6"/>
<text x="3.20" y="54.20" font-size="3.3" text-anchor="middle" font-weight="bold" fill="#222" stroke="#222" stroke-width="0.1">10</text>
<text x="4.90" y="51.10" font-size="2.5" font-weight="bold" fill="#222" stroke="#222" stroke-width="0.08">3</text>
<line x1="11.55" y1="47.7" x2="11.55" y2="48.80" stroke="#555" stroke-width="0.6"/>
<text x="12.75" y="54.20" font-size="3.3" text-anchor="middle" font-weight="bold" fill="#222" stroke="#222" stroke-width="0.1">10</text>
<text x="14.45" y="51.10" font-size="2.5" font-weight="bold" fill="#222" stroke="#222" stroke-width="0.08">4</text>
<line x1="21.10" y1="47.7" x2="21.10" y2="48.80" stroke="#555" stroke-width="0.6"/>
<text x="22.30" y="54.20" font-size="3.3" text-anchor="middle" font-weight="bold" fill="#222" stroke="#222" stroke-width="0.1">10</text>
<text x="24.00" y="51.10" font-size="2.5" font-weight="bold" fill="#222" stroke="#222" stroke-width="0.08">5</text>
<line x1="30.65" y1="47.7" x2="30.65" y2="48.80" stroke="#555" stroke-width="0.6"/>
<text x="31.85" y="54.20" font-size="3.3" text-anchor="middle" font-weight="bold" fill="#222" stroke="#222" stroke-width="0.1">10</text>
<text x="33.55" y="51.10" font-size="2.5" font-weight="bold" fill="#222" stroke="#222" stroke-width="0.08">6</text>
<line x1="40.20" y1="47.7" x2="40.20" y2="48.80" stroke="#555" stroke-width="0.6"/>
<text x="41.40" y="54.20" font-size="3.3" text-anchor="middle" font-weight="bold" fill="#222" stroke="#222" stroke-width="0.1">10</text>
<text x="43.10" y="51.10" font-size="2.5" font-weight="bold" fill="#222" stroke="#222" stroke-width="0.08">7</text>
<path d="M0,47.70 L0.00,47.70 L0.40,47.70 L0.80,47.70 L1.21,47.70 L1.61,47.70 L2.01,47.70 L2.41,47.70 L2.82,47.70 L3.22,47.70 L3.62,47.70 L4.03,47.70 L4.43,47.70 L4.83,47.70 L5.23,47.70 L5.63,47.70 L6.04,47.70 L6.44,47.70 L6.84,47.70 L7.25,47.70 L7.65,47.70 L8.05,47.70 L8.45,47.70 L8.85,47.70 L9.26,47.70 L9.66,47.70 L10.06,47.70 L10.46,47.70 L10.87,47.70 L11.27,47.70 L11.67,47.70 L12.07,47.70 L12.48,47.70 L12.88,47.70 L13.28,47.70 L13.68,47.69 L14.09,47.69 L14.49,47.69 L14.89,47.68 L15.29,47.67 L15.70,47.66 L16.10,47.64 L16.50,47.62 L16.90,47.59 L17.31,47.54 L17.71,47.49 L18.11,47.42 L18.51,47.33 L18.92,47.22 L19.32,47.09 L19.72,46.93 L20.12,46.74 L20.53,46.52 L20.93,46.24 L21.33,45.88 L21.73,45.36 L22.14,44.56 L22.54,43.26 L22.94,41.18 L23.34,37.98 L23.75,33.44 L24.15,27.57 L24.55,20.78 L24.95,13.95 L25.36,8.25 L25.76,4.87 L26.16,4.49 L26.56,6.64 L26.97,10.81 L27.37,16.30 L27.77,22.32 L28.18,28.13 L28.58,33.20 L28.98,37.27 L29.38,40.31 L29.79,42.45 L30.19,43.89 L30.59,44.83 L30.99,45.46 L31.39,45.89 L31.80,46.21 L32.20,46.46 L32.60,46.66 L33.01,46.84 L33.41,46.99 L33.81,47.12 L34.21,47.23 L34.62,47.33 L35.02,47.41 L35.42,47.47 L35.82,47.52 L36.23,47.56 L36.63,47.60 L37.03,47.62 L37.43,47.64 L37.84,47.66 L38.24,47.67 L38.64,47.68 L39.04,47.68 L39.45,47.69 L39.85,47.69 L40.25,47.69 L40.65,47.70 L41.05,47.70 L41.46,47.70 L41.86,47.70 L42.26,47.70 L42.66,47.70 L43.07,47.70 L43.47,47.70 L43.87,47.70 L44.27,47.70 L44.68,47.70 L45.08,47.70 L45.48,47.70 L45.88,47.70 L46.29,47.70 L46.69,47.70 L47.09,47.70 L47.49,47.70 L47.90,47.70 L48.30,47.70 L48.30,47.70 Z" fill="#979797" stroke="#3a3a3a" stroke-width="0.6" stroke-linejoin="round"/>
<line x1="0" y1="30.19" x2="23.50" y2="30.19" stroke="#474747" stroke-width="0.8"/>
<line x1="23.50" y1="29.29" x2="23.50" y2="31.09" stroke="#505050" stroke-width="0.6"/>
<line x1="23.00" y1="32.58" x2="48.3" y2="32.58" stroke="#555" stroke-width="0.9"/>
<line x1="23.00" y1="31.58" x2="23.00" y2="33.58" stroke="#5a5a5a" stroke-width="0.6"/>
<text x="4.4" y="6.9" font-size="4.4" font-weight="bold" fill="#1f2ff5" stroke="#1f2ff5" stroke-width="0.2">(-)</text>
<text x="3.7" y="13.3" font-size="4.6" font-weight="bold" fill="#1f2ff5" stroke="#1f2ff5" stroke-width="0.2">9.04%</text>
<text x="44.90" y="6.9" font-size="4.4" text-anchor="end" font-weight="bold" fill="#1f2ff5" stroke="#1f2ff5" stroke-width="0.2">(+)</text>
<text x="45.30" y="13.3" font-size="4.6" text-anchor="end" font-weight="bold" fill="#1f2ff5" stroke="#1f2ff5" stroke-width="0.2">91.0%</text>
</g>
<g transform="translate(82.70,206.40)">
<rect x="0" y="0" width="48.3" height="48.1" fill="#fff" stroke="#9a9a9a" stroke-width="0.7"/>
<line x1="-1.2" y1="8.80" x2="0" y2="8.80" stroke="#444" stroke-width="0.6"/>
<text x="-1.8" y="10.05" font-size="3.5" text-anchor="end" font-weight="bold" fill="#111" stroke="#111" stroke-width="0.12">40</text>
<line x1="-0.7" y1="11.22" x2="0" y2="11.22" stroke="#777" stroke-width="0.4"/>
<line x1="-0.7" y1="13.64" x2="0" y2="13.64" stroke="#777" stroke-width="0.4"/>
<line x1="-0.7" y1="16.06" x2="0" y2="16.06" stroke="#777" stroke-width="0.4"/>
<line x1="-1.2" y1="18.48" x2="0" y2="18.48" stroke="#444" stroke-width="0.6"/>
<text x="-1.8" y="19.73" font-size="3.5" text-anchor="end" font-weight="bold" fill="#111" stroke="#111" stroke-width="0.12">30</text>
<line x1="-0.7" y1="20.89" x2="0" y2="20.89" stroke="#777" stroke-width="0.4"/>
<line x1="-0.7" y1="23.31" x2="0" y2="23.31" stroke="#777" stroke-width="0.4"/>
<line x1="-0.7" y1="25.73" x2="0" y2="25.73" stroke="#777" stroke-width="0.4"/>
<line x1="-1.2" y1="28.15" x2="0" y2="28.15" stroke="#444" stroke-width="0.6"/>
<text x="-1.8" y="29.40" font-size="3.5" text-anchor="end" font-weight="bold" fill="#111" stroke="#111" stroke-width="0.12">20</text>
<line x1="-0.7" y1="30.57" x2="0" y2="30.57" stroke="#777" stroke-width="0.4"/>
<line x1="-0.7" y1="32.99" x2="0" y2="32.99" stroke="#777" stroke-width="0.4"/>
<line x1="-0.7" y1="35.41" x2="0" y2="35.41" stroke="#777" stroke-width="0.4"/>
<line x1="-1.2" y1="37.83" x2="0" y2="37.83" stroke="#444" stroke-width="0.6"/>
<text x="-1.8" y="39.08" font-size="3.5" text-anchor="end" font-weight="bold" fill="#111" stroke="#111" stroke-width="0.12">10</text>
<line x1="-0.7" y1="40.24" x2="0" y2="40.24" stroke="#777" stroke-width="0.4"/>
<line x1="-0.7" y1="42.66" x2="0" y2="42.66" stroke="#777" stroke-width="0.4"/>
<line x1="-0.7" y1="45.08" x2="0" y2="45.08" stroke="#777" stroke-width="0.4"/>
<line x1="-1.2" y1="47.50" x2="0" y2="47.50" stroke="#444" stroke-width="0.6"/>
<text x="-1.8" y="48.75" font-size="3.5" text-anchor="end" font-weight="bold" fill="#111" stroke="#111" stroke-width="0.12">0</text>
<line x1="2.10" y1="48.1" x2="2.10" y2="49.20" stroke="#555" stroke-width="0.6"/>
<text x="3.30" y="54.60" font-size="3.3" text-anchor="middle" font-weight="bold" fill="#222" stroke="#222" stroke-width="0.1">10</text>
<text x="5.00" y="51.50" font-size="2.5" font-weight="bold" fill="#222" stroke="#222" stroke-width="0.08">0</text>
<line x1="8.30" y1="48.1" x2="8.30" y2="49.20" stroke="#555" stroke-width="0.6"/>
<text x="9.50" y="54.60" font-size="3.3" text-anchor="middle" font-weight="bold" fill="#222" stroke="#222" stroke-width="0.1">10</text>
<text x="11.20" y="51.50" font-size="2.5" font-weight="bold" fill="#222" stroke="#222" stroke-width="0.08">1</text>
<line x1="16.80" y1="48.1" x2="16.80" y2="49.20" stroke="#555" stroke-width="0.6"/>
<text x="18.00" y="54.60" font-size="3.3" text-anchor="middle" font-weight="bold" fill="#222" stroke="#222" stroke-width="0.1">10</text>
<text x="19.70" y="51.50" font-size="2.5" font-weight="bold" fill="#222" stroke="#222" stroke-width="0.08">2</text>
<line x1="25.40" y1="48.1" x2="25.40" y2="49.20" stroke="#555" stroke-width="0.6"/>
<text x="26.60" y="54.60" font-size="3.3" text-anchor="middle" font-weight="bold" fill="#222" stroke="#222" stroke-width="0.1">10</text>
<text x="28.30" y="51.50" font-size="2.5" font-weight="bold" fill="#222" stroke="#222" stroke-width="0.08">3</text>
<line x1="34.10" y1="48.1" x2="34.10" y2="49.20" stroke="#555" stroke-width="0.6"/>
<text x="35.30" y="54.60" font-size="3.3" text-anchor="middle" font-weight="bold" fill="#222" stroke="#222" stroke-width="0.1">10</text>
<text x="37.00" y="51.50" font-size="2.5" font-weight="bold" fill="#222" stroke="#222" stroke-width="0.08">4</text>
<line x1="42.20" y1="48.1" x2="42.20" y2="49.20" stroke="#555" stroke-width="0.6"/>
<text x="43.40" y="54.60" font-size="3.3" text-anchor="middle" font-weight="bold" fill="#222" stroke="#222" stroke-width="0.1">10</text>
<text x="45.10" y="51.50" font-size="2.5" font-weight="bold" fill="#222" stroke="#222" stroke-width="0.08">5</text>
<path d="M0,48.10 L0.00,48.05 L0.40,48.05 L0.80,48.04 L1.21,48.04 L1.61,48.03 L2.01,48.02 L2.41,48.01 L2.82,48.01 L3.22,48.00 L3.62,47.98 L4.03,47.97 L4.43,47.95 L4.83,47.93 L5.23,47.90 L5.63,47.87 L6.04,47.83 L6.44,47.78 L6.84,47.72 L7.25,47.65 L7.65,47.57 L8.05,47.47 L8.45,47.35 L8.85,47.22 L9.26,47.07 L9.66,46.91 L10.06,46.74 L10.46,46.55 L10.87,46.36 L11.27,46.17 L11.67,45.98 L12.07,45.80 L12.48,45.64 L12.88,45.48 L13.28,45.34 L13.68,45.22 L14.09,45.09 L14.49,44.96 L14.89,44.81 L15.29,44.62 L15.70,44.36 L16.10,44.03 L16.50,43.61 L16.90,43.08 L17.31,42.47 L17.71,41.78 L18.11,41.06 L18.51,40.35 L18.92,39.68 L19.32,39.09 L19.72,38.59 L20.12,38.16 L20.53,37.81 L20.93,37.47 L21.33,37.00 L21.73,36.28 L22.14,35.27 L22.54,33.96 L22.94,32.42 L23.34,30.67 L23.75,28.68 L24.15,26.39 L24.55,23.76 L24.95,20.81 L25.36,17.74 L25.76,14.89 L26.16,12.69 L26.56,11.55 L26.97,11.79 L27.37,13.79 L27.77,17.36 L28.18,21.97 L28.58,26.99 L28.98,31.81 L29.38,36.01 L29.79,39.39 L30.19,41.91 L30.59,43.68 L30.99,44.88 L31.39,45.68 L31.80,46.20 L32.20,46.57 L32.60,46.84 L33.01,47.05 L33.41,47.23 L33.81,47.38 L34.21,47.51 L34.62,47.62 L35.02,47.71 L35.42,47.79 L35.82,47.85 L36.23,47.91 L36.63,47.95 L37.03,47.98 L37.43,48.01 L37.84,48.03 L38.24,48.05 L38.64,48.06 L39.04,48.07 L39.45,48.08 L39.85,48.09 L40.25,48.09 L40.65,48.09 L41.05,48.10 L41.46,48.10 L41.86,48.10 L42.26,48.10 L42.66,48.10 L43.07,48.10 L43.47,48.10 L43.87,48.10 L44.27,48.10 L44.68,48.10 L45.08,48.10 L45.48,48.10 L45.88,48.10 L46.29,48.10 L46.69,48.10 L47.09,48.10 L47.49,48.10 L47.90,48.10 L48.30,48.10 L48.30,48.10 Z" fill="#979797" stroke="#3a3a3a" stroke-width="0.6" stroke-linejoin="round"/>
<line x1="0" y1="27.42" x2="16.80" y2="27.42" stroke="#474747" stroke-width="0.8"/>
<line x1="16.80" y1="26.52" x2="16.80" y2="28.32" stroke="#505050" stroke-width="0.6"/>
<line x1="16.30" y1="29.34" x2="48.3" y2="29.34" stroke="#555" stroke-width="0.9"/>
<line x1="16.30" y1="28.34" x2="16.30" y2="30.34" stroke="#5a5a5a" stroke-width="0.6"/>
<text x="4.4" y="6.9" font-size="4.4" font-weight="bold" fill="#1f2ff5" stroke="#1f2ff5" stroke-width="0.2">(-)</text>
<text x="3.7" y="13.3" font-size="4.6" font-weight="bold" fill="#1f2ff5" stroke="#1f2ff5" stroke-width="0.2">7.17%</text>
<text x="44.90" y="6.9" font-size="4.4" text-anchor="end" font-weight="bold" fill="#1f2ff5" stroke="#1f2ff5" stroke-width="0.2">(+)</text>
<text x="45.30" y="13.3" font-size="4.6" text-anchor="end" font-weight="bold" fill="#1f2ff5" stroke="#1f2ff5" stroke-width="0.2">92.8%</text>
</g>
<text x="165.35" y="29.80" font-size="7.8" text-anchor="middle" font-weight="bold" fill="#000">100 µg/ml</text>
<g transform="translate(140.30,33.30)">
<rect x="0" y="0" width="48.3" height="48.2" fill="#fff" stroke="#9a9a9a" stroke-width="0.7"/>
<line x1="-1.2" y1="2.30" x2="0" y2="2.30" stroke="#444" stroke-width="0.6"/>
<text x="-1.8" y="3.55" font-size="3.5" text-anchor="end" font-weight="bold" fill="#111" stroke="#111" stroke-width="0.12">500</text>
<line x1="-0.7" y1="4.56" x2="0" y2="4.56" stroke="#777" stroke-width="0.4"/>
<line x1="-0.7" y1="6.83" x2="0" y2="6.83" stroke="#777" stroke-width="0.4"/>
<line x1="-0.7" y1="9.09" x2="0" y2="9.09" stroke="#777" stroke-width="0.4"/>
<line x1="-1.2" y1="11.36" x2="0" y2="11.36" stroke="#444" stroke-width="0.6"/>
<text x="-1.8" y="12.61" font-size="3.5" text-anchor="end" font-weight="bold" fill="#111" stroke="#111" stroke-width="0.12">400</text>
<line x1="-0.7" y1="13.62" x2="0" y2="13.62" stroke="#777" stroke-width="0.4"/>
<line x1="-0.7" y1="15.89" x2="0" y2="15.89" stroke="#777" stroke-width="0.4"/>
<line x1="-0.7" y1="18.16" x2="0" y2="18.16" stroke="#777" stroke-width="0.4"/>
<line x1="-1.2" y1="20.42" x2="0" y2="20.42" stroke="#444" stroke-width="0.6"/>
<text x="-1.8" y="21.67" font-size="3.5" text-anchor="end" font-weight="bold" fill="#111" stroke="#111" stroke-width="0.12">300</text>
<line x1="-0.7" y1="22.69" x2="0" y2="22.69" stroke="#777" stroke-width="0.4"/>
<line x1="-0.7" y1="24.95" x2="0" y2="24.95" stroke="#777" stroke-width="0.4"/>
<line x1="-0.7" y1="27.22" x2="0" y2="27.22" stroke="#777" stroke-width="0.4"/>
<line x1="-1.2" y1="29.48" x2="0" y2="29.48" stroke="#444" stroke-width="0.6"/>
<text x="-1.8" y="30.73" font-size="3.5" text-anchor="end" font-weight="bold" fill="#111" stroke="#111" stroke-width="0.12">200</text>
<line x1="-0.7" y1="31.75" x2="0" y2="31.75" stroke="#777" stroke-width="0.4"/>
<line x1="-0.7" y1="34.01" x2="0" y2="34.01" stroke="#777" stroke-width="0.4"/>
<line x1="-0.7" y1="36.27" x2="0" y2="36.27" stroke="#777" stroke-width="0.4"/>
<line x1="-1.2" y1="38.54" x2="0" y2="38.54" stroke="#444" stroke-width="0.6"/>
<text x="-1.8" y="39.79" font-size="3.5" text-anchor="end" font-weight="bold" fill="#111" stroke="#111" stroke-width="0.12">100</text>
<line x1="-0.7" y1="40.80" x2="0" y2="40.80" stroke="#777" stroke-width="0.4"/>
<line x1="-0.7" y1="43.07" x2="0" y2="43.07" stroke="#777" stroke-width="0.4"/>
<line x1="-0.7" y1="45.34" x2="0" y2="45.34" stroke="#777" stroke-width="0.4"/>
<line x1="-1.2" y1="47.60" x2="0" y2="47.60" stroke="#444" stroke-width="0.6"/>
<text x="-1.8" y="48.85" font-size="3.5" text-anchor="end" font-weight="bold" fill="#111" stroke="#111" stroke-width="0.12">0</text>
<line x1="2.00" y1="48.2" x2="2.00" y2="49.30" stroke="#555" stroke-width="0.6"/>
<text x="3.20" y="54.70" font-size="3.3" text-anchor="middle" font-weight="bold" fill="#222" stroke="#222" stroke-width="0.1">10</text>
<text x="4.90" y="51.60" font-size="2.5" font-weight="bold" fill="#222" stroke="#222" stroke-width="0.08">3</text>
<line x1="11.55" y1="48.2" x2="11.55" y2="49.30" stroke="#555" stroke-width="0.6"/>
<text x="12.75" y="54.70" font-size="3.3" text-anchor="middle" font-weight="bold" fill="#222" stroke="#222" stroke-width="0.1">10</text>
<text x="14.45" y="51.60" font-size="2.5" font-weight="bold" fill="#222" stroke="#222" stroke-width="0.08">4</text>
<line x1="21.10" y1="48.2" x2="21.10" y2="49.30" stroke="#555" stroke-width="0.6"/>
<text x="22.30" y="54.70" font-size="3.3" text-anchor="middle" font-weight="bold" fill="#222" stroke="#222" stroke-width="0.1">10</text>
<text x="24.00" y="51.60" font-size="2.5" font-weight="bold" fill="#222" stroke="#222" stroke-width="0.08">5</text>
<line x1="30.65" y1="48.2" x2="30.65" y2="49.30" stroke="#555" stroke-width="0.6"/>
<text x="31.85" y="54.70" font-size="3.3" text-anchor="middle" font-weight="bold" fill="#222" stroke="#222" stroke-width="0.1">10</text>
<text x="33.55" y="51.60" font-size="2.5" font-weight="bold" fill="#222" stroke="#222" stroke-width="0.08">6</text>
<line x1="40.20" y1="48.2" x2="40.20" y2="49.30" stroke="#555" stroke-width="0.6"/>
<text x="41.40" y="54.70" font-size="3.3" text-anchor="middle" font-weight="bold" fill="#222" stroke="#222" stroke-width="0.1">10</text>
<text x="43.10" y="51.60" font-size="2.5" font-weight="bold" fill="#222" stroke="#222" stroke-width="0.08">7</text>
<path d="M0,48.20 L0.00,48.18 L0.40,48.17 L0.80,48.17 L1.21,48.16 L1.61,48.16 L2.01,48.15 L2.41,48.14 L2.82,48.14 L3.22,48.13 L3.62,48.12 L4.03,48.11 L4.43,48.09 L4.83,48.08 L5.23,48.07 L5.63,48.05 L6.04,48.03 L6.44,48.01 L6.84,47.99 L7.25,47.96 L7.65,47.92 L8.05,47.87 L8.45,47.80 L8.85,47.72 L9.26,47.61 L9.66,47.47 L10.06,47.30 L10.46,47.08 L10.87,46.82 L11.27,46.51 L11.67,46.16 L12.07,45.77 L12.48,45.35 L12.88,44.93 L13.28,44.51 L13.68,44.12 L14.09,43.78 L14.49,43.51 L14.89,43.32 L15.29,43.22 L15.70,43.20 L16.10,43.23 L16.50,43.30 L16.90,43.41 L17.31,43.54 L17.71,43.67 L18.11,43.80 L18.51,43.91 L18.92,43.96 L19.32,43.92 L19.72,43.71 L20.12,43.20 L20.53,42.15 L20.93,40.29 L21.33,37.27 L21.73,32.85 L22.14,27.04 L22.54,20.25 L22.94,13.36 L23.34,7.57 L23.75,4.10 L24.15,3.64 L24.55,5.35 L24.95,8.73 L25.36,13.36 L25.76,18.68 L26.16,24.13 L26.56,29.24 L26.97,33.69 L27.37,37.34 L27.77,40.16 L28.18,42.24 L28.58,43.72 L28.98,44.75 L29.38,45.46 L29.79,45.96 L30.19,46.33 L30.59,46.62 L30.99,46.85 L31.39,47.05 L31.80,47.22 L32.20,47.37 L32.60,47.50 L33.01,47.61 L33.41,47.71 L33.81,47.80 L34.21,47.87 L34.62,47.93 L35.02,47.99 L35.42,48.03 L35.82,48.06 L36.23,48.09 L36.63,48.12 L37.03,48.13 L37.43,48.15 L37.84,48.16 L38.24,48.17 L38.64,48.18 L39.04,48.18 L39.45,48.19 L39.85,48.19 L40.25,48.19 L40.65,48.19 L41.05,48.20 L41.46,48.20 L41.86,48.20 L42.26,48.20 L42.66,48.20 L43.07,48.20 L43.47,48.20 L43.87,48.20 L44.27,48.20 L44.68,48.20 L45.08,48.20 L45.48,48.20 L45.88,48.20 L46.29,48.20 L46.69,48.20 L47.09,48.20 L47.49,48.20 L47.90,48.20 L48.30,48.20 L48.30,48.20 Z" fill="#979797" stroke="#3a3a3a" stroke-width="0.6" stroke-linejoin="round"/>
<line x1="0" y1="31.33" x2="22.00" y2="31.33" stroke="#474747" stroke-width="0.8"/>
<line x1="22.00" y1="30.43" x2="22.00" y2="32.23" stroke="#505050" stroke-width="0.6"/>
<line x1="21.50" y1="33.74" x2="48.3" y2="33.74" stroke="#555" stroke-width="0.9"/>
<line x1="21.50" y1="32.74" x2="21.50" y2="34.74" stroke="#5a5a5a" stroke-width="0.6"/>
<text x="4.4" y="6.9" font-size="4.4" font-weight="bold" fill="#1f2ff5" stroke="#1f2ff5" stroke-width="0.2">(-)</text>
<text x="3.7" y="13.3" font-size="4.6" font-weight="bold" fill="#1f2ff5" stroke="#1f2ff5" stroke-width="0.2">33.2%</text>
<text x="44.90" y="6.9" font-size="4.4" text-anchor="end" font-weight="bold" fill="#1f2ff5" stroke="#1f2ff5" stroke-width="0.2">(+)</text>
<text x="45.30" y="13.3" font-size="4.6" text-anchor="end" font-weight="bold" fill="#1f2ff5" stroke="#1f2ff5" stroke-width="0.2">66.8%</text>
</g>
<g transform="translate(140.30,91.20)">
<rect x="0" y="0" width="48.3" height="47.7" fill="#fff" stroke="#9a9a9a" stroke-width="0.7"/>
<line x1="-1.2" y1="8.80" x2="0" y2="8.80" stroke="#444" stroke-width="0.6"/>
<text x="-1.8" y="10.05" font-size="3.5" text-anchor="end" font-weight="bold" fill="#111" stroke="#111" stroke-width="0.12">400</text>
<line x1="-0.7" y1="11.19" x2="0" y2="11.19" stroke="#777" stroke-width="0.4"/>
<line x1="-0.7" y1="13.59" x2="0" y2="13.59" stroke="#777" stroke-width="0.4"/>
<line x1="-0.7" y1="15.98" x2="0" y2="15.98" stroke="#777" stroke-width="0.4"/>
<line x1="-1.2" y1="18.38" x2="0" y2="18.38" stroke="#444" stroke-width="0.6"/>
<text x="-1.8" y="19.62" font-size="3.5" text-anchor="end" font-weight="bold" fill="#111" stroke="#111" stroke-width="0.12">300</text>
<line x1="-0.7" y1="20.77" x2="0" y2="20.77" stroke="#777" stroke-width="0.4"/>
<line x1="-0.7" y1="23.16" x2="0" y2="23.16" stroke="#777" stroke-width="0.4"/>
<line x1="-0.7" y1="25.56" x2="0" y2="25.56" stroke="#777" stroke-width="0.4"/>
<line x1="-1.2" y1="27.95" x2="0" y2="27.95" stroke="#444" stroke-width="0.6"/>
<text x="-1.8" y="29.20" font-size="3.5" text-anchor="end" font-weight="bold" fill="#111" stroke="#111" stroke-width="0.12">200</text>
<line x1="-0.7" y1="30.34" x2="0" y2="30.34" stroke="#777" stroke-width="0.4"/>
<line x1="-0.7" y1="32.74" x2="0" y2="32.74" stroke="#777" stroke-width="0.4"/>
<line x1="-0.7" y1="35.13" x2="0" y2="35.13" stroke="#777" stroke-width="0.4"/>
<line x1="-1.2" y1="37.52" x2="0" y2="37.52" stroke="#444" stroke-width="0.6"/>
<text x="-1.8" y="38.77" font-size="3.5" text-anchor="end" font-weight="bold" fill="#111" stroke="#111" stroke-width="0.12">100</text>
<line x1="-0.7" y1="39.92" x2="0" y2="39.92" stroke="#777" stroke-width="0.4"/>
<line x1="-0.7" y1="42.31" x2="0" y2="42.31" stroke="#777" stroke-width="0.4"/>
<line x1="-0.7" y1="44.71" x2="0" y2="44.71" stroke="#777" stroke-width="0.4"/>
<line x1="-1.2" y1="47.10" x2="0" y2="47.10" stroke="#444" stroke-width="0.6"/>
<text x="-1.8" y="48.35" font-size="3.5" text-anchor="end" font-weight="bold" fill="#111" stroke="#111" stroke-width="0.12">0</text>
<line x1="2.00" y1="47.7" x2="2.00" y2="48.80" stroke="#555" stroke-width="0.6"/>
<text x="3.20" y="54.20" font-size="3.3" text-anchor="middle" font-weight="bold" fill="#222" stroke="#222" stroke-width="0.1">10</text>
<text x="4.90" y="51.10" font-size="2.5" font-weight="bold" fill="#222" stroke="#222" stroke-width="0.08">3</text>
<line x1="11.55" y1="47.7" x2="11.55" y2="48.80" stroke="#555" stroke-width="0.6"/>
<text x="12.75" y="54.20" font-size="3.3" text-anchor="middle" font-weight="bold" fill="#222" stroke="#222" stroke-width="0.1">10</text>
<text x="14.45" y="51.10" font-size="2.5" font-weight="bold" fill="#222" stroke="#222" stroke-width="0.08">4</text>
<line x1="21.10" y1="47.7" x2="21.10" y2="48.80" stroke="#555" stroke-width="0.6"/>
<text x="22.30" y="54.20" font-size="3.3" text-anchor="middle" font-weight="bold" fill="#222" stroke="#222" stroke-width="0.1">10</text>
<text x="24.00" y="51.10" font-size="2.5" font-weight="bold" fill="#222" stroke="#222" stroke-width="0.08">5</text>
<line x1="30.65" y1="47.7" x2="30.65" y2="48.80" stroke="#555" stroke-width="0.6"/>
<text x="31.85" y="54.20" font-size="3.3" text-anchor="middle" font-weight="bold" fill="#222" stroke="#222" stroke-width="0.1">10</text>
<text x="33.55" y="51.10" font-size="2.5" font-weight="bold" fill="#222" stroke="#222" stroke-width="0.08">6</text>
<line x1="40.20" y1="47.7" x2="40.20" y2="48.80" stroke="#555" stroke-width="0.6"/>
<text x="41.40" y="54.20" font-size="3.3" text-anchor="middle" font-weight="bold" fill="#222" stroke="#222" stroke-width="0.1">10</text>
<text x="43.10" y="51.10" font-size="2.5" font-weight="bold" fill="#222" stroke="#222" stroke-width="0.08">7</text>
<path d="M0,47.70 L0.00,47.68 L0.40,47.68 L0.80,47.68 L1.21,47.67 L1.61,47.67 L2.01,47.67 L2.41,47.66 L2.82,47.66 L3.22,47.65 L3.62,47.65 L4.03,47.64 L4.43,47.63 L4.83,47.62 L5.23,47.61 L5.63,47.60 L6.04,47.59 L6.44,47.57 L6.84,47.54 L7.25,47.51 L7.65,47.46 L8.05,47.41 L8.45,47.34 L8.85,47.25 L9.26,47.14 L9.66,47.02 L10.06,46.87 L10.46,46.70 L10.87,46.51 L11.27,46.30 L11.67,46.08 L12.07,45.85 L12.48,45.62 L12.88,45.40 L13.28,45.18 L13.68,44.98 L14.09,44.78 L14.49,44.59 L14.89,44.39 L15.29,44.14 L15.70,43.78 L16.10,43.20 L16.50,42.23 L16.90,40.62 L17.31,38.12 L17.71,34.50 L18.11,29.67 L18.51,23.82 L18.92,17.47 L19.32,11.47 L19.72,6.78 L20.12,4.31 L20.53,4.39 L20.93,6.40 L21.33,9.98 L21.73,14.68 L22.14,19.94 L22.54,25.23 L22.94,30.13 L23.34,34.34 L23.75,37.74 L24.15,40.34 L24.55,42.25 L24.95,43.60 L25.36,44.53 L25.76,45.18 L26.16,45.64 L26.56,45.98 L26.97,46.24 L27.37,46.46 L27.77,46.64 L28.18,46.80 L28.58,46.94 L28.98,47.06 L29.38,47.17 L29.79,47.26 L30.19,47.34 L30.59,47.41 L30.99,47.47 L31.39,47.51 L31.80,47.55 L32.20,47.58 L32.60,47.61 L33.01,47.63 L33.41,47.65 L33.81,47.66 L34.21,47.67 L34.62,47.68 L35.02,47.68 L35.42,47.69 L35.82,47.69 L36.23,47.69 L36.63,47.70 L37.03,47.70 L37.43,47.70 L37.84,47.70 L38.24,47.70 L38.64,47.70 L39.04,47.70 L39.45,47.70 L39.85,47.70 L40.25,47.70 L40.65,47.70 L41.05,47.70 L41.46,47.70 L41.86,47.70 L42.26,47.70 L42.66,47.70 L43.07,47.70 L43.47,47.70 L43.87,47.70 L44.27,47.70 L44.68,47.70 L45.08,47.70 L45.48,47.70 L45.88,47.70 L46.29,47.70 L46.69,47.70 L47.09,47.70 L47.49,47.70 L47.90,47.70 L48.30,47.70 L48.30,47.70 Z" fill="#979797" stroke="#3a3a3a" stroke-width="0.6" stroke-linejoin="round"/>
<line x1="0" y1="26.90" x2="19.60" y2="26.90" stroke="#474747" stroke-width="0.8"/>
<line x1="19.60" y1="26.00" x2="19.60" y2="27.80" stroke="#505050" stroke-width="0.6"/>
<line x1="19.10" y1="29.10" x2="48.3" y2="29.10" stroke="#555" stroke-width="0.9"/>
<line x1="19.10" y1="28.10" x2="19.10" y2="30.10" stroke="#5a5a5a" stroke-width="0.6"/>
<text x="4.4" y="6.9" font-size="4.4" font-weight="bold" fill="#1f2ff5" stroke="#1f2ff5" stroke-width="0.2">(-)</text>
<text x="3.7" y="13.3" font-size="4.6" font-weight="bold" fill="#1f2ff5" stroke="#1f2ff5" stroke-width="0.2">35.3%</text>
<text x="44.90" y="6.9" font-size="4.4" text-anchor="end" font-weight="bold" fill="#1f2ff5" stroke="#1f2ff5" stroke-width="0.2">(+)</text>
<text x="45.30" y="13.3" font-size="4.6" text-anchor="end" font-weight="bold" fill="#1f2ff5" stroke="#1f2ff5" stroke-width="0.2">64.7%</text>
</g>
<g transform="translate(140.30,149.10)">
<rect x="0" y="0" width="48.3" height="47.7" fill="#fff" stroke="#9a9a9a" stroke-width="0.7"/>
<line x1="-1.2" y1="8.80" x2="0" y2="8.80" stroke="#444" stroke-width="0.6"/>
<text x="-1.8" y="10.05" font-size="3.5" text-anchor="end" font-weight="bold" fill="#111" stroke="#111" stroke-width="0.12">400</text>
<line x1="-0.7" y1="11.19" x2="0" y2="11.19" stroke="#777" stroke-width="0.4"/>
<line x1="-0.7" y1="13.59" x2="0" y2="13.59" stroke="#777" stroke-width="0.4"/>
<line x1="-0.7" y1="15.98" x2="0" y2="15.98" stroke="#777" stroke-width="0.4"/>
<line x1="-1.2" y1="18.38" x2="0" y2="18.38" stroke="#444" stroke-width="0.6"/>
<text x="-1.8" y="19.62" font-size="3.5" text-anchor="end" font-weight="bold" fill="#111" stroke="#111" stroke-width="0.12">300</text>
<line x1="-0.7" y1="20.77" x2="0" y2="20.77" stroke="#777" stroke-width="0.4"/>
<line x1="-0.7" y1="23.16" x2="0" y2="23.16" stroke="#777" stroke-width="0.4"/>
<line x1="-0.7" y1="25.56" x2="0" y2="25.56" stroke="#777" stroke-width="0.4"/>
<line x1="-1.2" y1="27.95" x2="0" y2="27.95" stroke="#444" stroke-width="0.6"/>
<text x="-1.8" y="29.20" font-size="3.5" text-anchor="end" font-weight="bold" fill="#111" stroke="#111" stroke-width="0.12">200</text>
<line x1="-0.7" y1="30.34" x2="0" y2="30.34" stroke="#777" stroke-width="0.4"/>
<line x1="-0.7" y1="32.74" x2="0" y2="32.74" stroke="#777" stroke-width="0.4"/>
<line x1="-0.7" y1="35.13" x2="0" y2="35.13" stroke="#777" stroke-width="0.4"/>
<line x1="-1.2" y1="37.52" x2="0" y2="37.52" stroke="#444" stroke-width="0.6"/>
<text x="-1.8" y="38.77" font-size="3.5" text-anchor="end" font-weight="bold" fill="#111" stroke="#111" stroke-width="0.12">100</text>
<line x1="-0.7" y1="39.92" x2="0" y2="39.92" stroke="#777" stroke-width="0.4"/>
<line x1="-0.7" y1="42.31" x2="0" y2="42.31" stroke="#777" stroke-width="0.4"/>
<line x1="-0.7" y1="44.71" x2="0" y2="44.71" stroke="#777" stroke-width="0.4"/>
<line x1="-1.2" y1="47.10" x2="0" y2="47.10" stroke="#444" stroke-width="0.6"/>
<text x="-1.8" y="48.35" font-size="3.5" text-anchor="end" font-weight="bold" fill="#111" stroke="#111" stroke-width="0.12">0</text>
<line x1="2.00" y1="47.7" x2="2.00" y2="48.80" stroke="#555" stroke-width="0.6"/>
<text x="3.20" y="54.20" font-size="3.3" text-anchor="middle" font-weight="bold" fill="#222" stroke="#222" stroke-width="0.1">10</text>
<text x="4.90" y="51.10" font-size="2.5" font-weight="bold" fill="#222" stroke="#222" stroke-width="0.08">3</text>
<line x1="11.55" y1="47.7" x2="11.55" y2="48.80" stroke="#555" stroke-width="0.6"/>
<text x="12.75" y="54.20" font-size="3.3" text-anchor="middle" font-weight="bold" fill="#222" stroke="#222" stroke-width="0.1">10</text>
<text x="14.45" y="51.10" font-size="2.5" font-weight="bold" fill="#222" stroke="#222" stroke-width="0.08">4</text>
<line x1="21.10" y1="47.7" x2="21.10" y2="48.80" stroke="#555" stroke-width="0.6"/>
<text x="22.30" y="54.20" font-size="3.3" text-anchor="middle" font-weight="bold" fill="#222" stroke="#222" stroke-width="0.1">10</text>
<text x="24.00" y="51.10" font-size="2.5" font-weight="bold" fill="#222" stroke="#222" stroke-width="0.08">5</text>
<line x1="30.65" y1="47.7" x2="30.65" y2="48.80" stroke="#555" stroke-width="0.6"/>
<text x="31.85" y="54.20" font-size="3.3" text-anchor="middle" font-weight="bold" fill="#222" stroke="#222" stroke-width="0.1">10</text>
<text x="33.55" y="51.10" font-size="2.5" font-weight="bold" fill="#222" stroke="#222" stroke-width="0.08">6</text>
<line x1="40.20" y1="47.7" x2="40.20" y2="48.80" stroke="#555" stroke-width="0.6"/>
<text x="41.40" y="54.20" font-size="3.3" text-anchor="middle" font-weight="bold" fill="#222" stroke="#222" stroke-width="0.1">10</text>
<text x="43.10" y="51.10" font-size="2.5" font-weight="bold" fill="#222" stroke="#222" stroke-width="0.08">7</text>
<path d="M0,47.70 L0.00,47.70 L0.40,47.70 L0.80,47.70 L1.21,47.70 L1.61,47.70 L2.01,47.70 L2.41,47.70 L2.82,47.70 L3.22,47.70 L3.62,47.70 L4.03,47.70 L4.43,47.70 L4.83,47.70 L5.23,47.70 L5.63,47.70 L6.04,47.69 L6.44,47.69 L6.84,47.69 L7.25,47.69 L7.65,47.69 L8.05,47.69 L8.45,47.68 L8.85,47.68 L9.26,47.68 L9.66,47.67 L10.06,47.67 L10.46,47.66 L10.87,47.66 L11.27,47.65 L11.67,47.64 L12.07,47.63 L12.48,47.62 L12.88,47.61 L13.28,47.59 L13.68,47.56 L14.09,47.53 L14.49,47.48 L14.89,47.42 L15.29,47.33 L15.70,47.21 L16.10,47.06 L16.50,46.88 L16.90,46.66 L17.31,46.40 L17.71,46.11 L18.11,45.79 L18.51,45.46 L18.92,45.14 L19.32,44.83 L19.72,44.53 L20.12,44.24 L20.53,43.93 L20.93,43.53 L21.33,42.91 L21.73,41.89 L22.14,40.22 L22.54,37.61 L22.94,33.85 L23.34,28.85 L23.75,22.83 L24.15,16.35 L24.55,10.29 L24.95,5.66 L25.36,3.33 L25.76,3.65 L26.16,6.10 L26.56,10.29 L26.97,15.61 L27.37,21.39 L27.77,27.00 L28.18,31.99 L28.58,36.11 L28.98,39.28 L29.38,41.60 L29.79,43.22 L30.19,44.32 L30.59,45.07 L30.99,45.58 L31.39,45.95 L31.80,46.23 L32.20,46.46 L32.60,46.66 L33.01,46.83 L33.41,46.97 L33.81,47.10 L34.21,47.21 L34.62,47.30 L35.02,47.38 L35.42,47.44 L35.82,47.50 L36.23,47.54 L36.63,47.58 L37.03,47.61 L37.43,47.63 L37.84,47.65 L38.24,47.66 L38.64,47.67 L39.04,47.68 L39.45,47.68 L39.85,47.69 L40.25,47.69 L40.65,47.69 L41.05,47.70 L41.46,47.70 L41.86,47.70 L42.26,47.70 L42.66,47.70 L43.07,47.70 L43.47,47.70 L43.87,47.70 L44.27,47.70 L44.68,47.70 L45.08,47.70 L45.48,47.70 L45.88,47.70 L46.29,47.70 L46.69,47.70 L47.09,47.70 L47.49,47.70 L47.90,47.70 L48.30,47.70 L48.30,47.70 Z" fill="#979797" stroke="#3a3a3a" stroke-width="0.6" stroke-linejoin="round"/>
<line x1="0" y1="30.19" x2="22.70" y2="30.19" stroke="#474747" stroke-width="0.8"/>
<line x1="22.70" y1="29.29" x2="22.70" y2="31.09" stroke="#505050" stroke-width="0.6"/>
<line x1="22.20" y1="32.58" x2="48.3" y2="32.58" stroke="#555" stroke-width="0.9"/>
<line x1="22.20" y1="31.58" x2="22.20" y2="33.58" stroke="#5a5a5a" stroke-width="0.6"/>
<text x="4.4" y="6.9" font-size="4.4" font-weight="bold" fill="#1f2ff5" stroke="#1f2ff5" stroke-width="0.2">(-)</text>
<text x="3.7" y="13.3" font-size="4.6" font-weight="bold" fill="#1f2ff5" stroke="#1f2ff5" stroke-width="0.2">19.4%</text>
<text x="44.90" y="6.9" font-size="4.4" text-anchor="end" font-weight="bold" fill="#1f2ff5" stroke="#1f2ff5" stroke-width="0.2">(+)</text>
<text x="45.30" y="13.3" font-size="4.6" text-anchor="end" font-weight="bold" fill="#1f2ff5" stroke="#1f2ff5" stroke-width="0.2">80.6%</text>
</g>
<g transform="translate(140.30,206.40)">
<rect x="0" y="0" width="48.3" height="48.1" fill="#fff" stroke="#9a9a9a" stroke-width="0.7"/>
<line x1="-1.2" y1="8.80" x2="0" y2="8.80" stroke="#444" stroke-width="0.6"/>
<text x="-1.8" y="10.05" font-size="3.5" text-anchor="end" font-weight="bold" fill="#111" stroke="#111" stroke-width="0.12">40</text>
<line x1="-0.7" y1="11.22" x2="0" y2="11.22" stroke="#777" stroke-width="0.4"/>
<line x1="-0.7" y1="13.64" x2="0" y2="13.64" stroke="#777" stroke-width="0.4"/>
<line x1="-0.7" y1="16.06" x2="0" y2="16.06" stroke="#777" stroke-width="0.4"/>
<line x1="-1.2" y1="18.48" x2="0" y2="18.48" stroke="#444" stroke-width="0.6"/>
<text x="-1.8" y="19.73" font-size="3.5" text-anchor="end" font-weight="bold" fill="#111" stroke="#111" stroke-width="0.12">30</text>
<line x1="-0.7" y1="20.89" x2="0" y2="20.89" stroke="#777" stroke-width="0.4"/>
<line x1="-0.7" y1="23.31" x2="0" y2="23.31" stroke="#777" stroke-width="0.4"/>
<line x1="-0.7" y1="25.73" x2="0" y2="25.73" stroke="#777" stroke-width="0.4"/>
<line x1="-1.2" y1="28.15" x2="0" y2="28.15" stroke="#444" stroke-width="0.6"/>
<text x="-1.8" y="29.40" font-size="3.5" text-anchor="end" font-weight="bold" fill="#111" stroke="#111" stroke-width="0.12">20</text>
<line x1="-0.7" y1="30.57" x2="0" y2="30.57" stroke="#777" stroke-width="0.4"/>
<line x1="-0.7" y1="32.99" x2="0" y2="32.99" stroke="#777" stroke-width="0.4"/>
<line x1="-0.7" y1="35.41" x2="0" y2="35.41" stroke="#777" stroke-width="0.4"/>
<line x1="-1.2" y1="37.83" x2="0" y2="37.83" stroke="#444" stroke-width="0.6"/>
<text x="-1.8" y="39.08" font-size="3.5" text-anchor="end" font-weight="bold" fill="#111" stroke="#111" stroke-width="0.12">10</text>
<line x1="-0.7" y1="40.24" x2="0" y2="40.24" stroke="#777" stroke-width="0.4"/>
<line x1="-0.7" y1="42.66" x2="0" y2="42.66" stroke="#777" stroke-width="0.4"/>
<line x1="-0.7" y1="45.08" x2="0" y2="45.08" stroke="#777" stroke-width="0.4"/>
<line x1="-1.2" y1="47.50" x2="0" y2="47.50" stroke="#444" stroke-width="0.6"/>
<text x="-1.8" y="48.75" font-size="3.5" text-anchor="end" font-weight="bold" fill="#111" stroke="#111" stroke-width="0.12">0</text>
<line x1="2.10" y1="48.1" x2="2.10" y2="49.20" stroke="#555" stroke-width="0.6"/>
<text x="3.30" y="54.60" font-size="3.3" text-anchor="middle" font-weight="bold" fill="#222" stroke="#222" stroke-width="0.1">10</text>
<text x="5.00" y="51.50" font-size="2.5" font-weight="bold" fill="#222" stroke="#222" stroke-width="0.08">0</text>
<line x1="8.30" y1="48.1" x2="8.30" y2="49.20" stroke="#555" stroke-width="0.6"/>
<text x="9.50" y="54.60" font-size="3.3" text-anchor="middle" font-weight="bold" fill="#222" stroke="#222" stroke-width="0.1">10</text>
<text x="11.20" y="51.50" font-size="2.5" font-weight="bold" fill="#222" stroke="#222" stroke-width="0.08">1</text>
<line x1="16.80" y1="48.1" x2="16.80" y2="49.20" stroke="#555" stroke-width="0.6"/>
<text x="18.00" y="54.60" font-size="3.3" text-anchor="middle" font-weight="bold" fill="#222" stroke="#222" stroke-width="0.1">10</text>
<text x="19.70" y="51.50" font-size="2.5" font-weight="bold" fill="#222" stroke="#222" stroke-width="0.08">2</text>
<line x1="25.40" y1="48.1" x2="25.40" y2="49.20" stroke="#555" stroke-width="0.6"/>
<text x="26.60" y="54.60" font-size="3.3" text-anchor="middle" font-weight="bold" fill="#222" stroke="#222" stroke-width="0.1">10</text>
<text x="28.30" y="51.50" font-size="2.5" font-weight="bold" fill="#222" stroke="#222" stroke-width="0.08">3</text>
<line x1="34.10" y1="48.1" x2="34.10" y2="49.20" stroke="#555" stroke-width="0.6"/>
<text x="35.30" y="54.60" font-size="3.3" text-anchor="middle" font-weight="bold" fill="#222" stroke="#222" stroke-width="0.1">10</text>
<text x="37.00" y="51.50" font-size="2.5" font-weight="bold" fill="#222" stroke="#222" stroke-width="0.08">4</text>
<line x1="42.20" y1="48.1" x2="42.20" y2="49.20" stroke="#555" stroke-width="0.6"/>
<text x="43.40" y="54.60" font-size="3.3" text-anchor="middle" font-weight="bold" fill="#222" stroke="#222" stroke-width="0.1">10</text>
<text x="45.10" y="51.50" font-size="2.5" font-weight="bold" fill="#222" stroke="#222" stroke-width="0.08">5</text>
<path d="M0,48.10 L0.00,48.03 L0.40,48.02 L0.80,48.01 L1.21,47.99 L1.61,47.98 L2.01,47.96 L2.41,47.94 L2.82,47.92 L3.22,47.89 L3.62,47.85 L4.03,47.81 L4.43,47.75 L4.83,47.69 L5.23,47.61 L5.63,47.51 L6.04,47.39 L6.44,47.25 L6.84,47.09 L7.25,46.89 L7.65,46.67 L8.05,46.42 L8.45,46.14 L8.85,45.82 L9.26,45.46 L9.66,45.07 L10.06,44.63 L10.46,44.16 L10.87,43.64 L11.27,43.09 L11.67,42.52 L12.07,41.93 L12.48,41.35 L12.88,40.80 L13.28,40.29 L13.68,39.82 L14.09,39.38 L14.49,38.98 L14.89,38.57 L15.29,38.14 L15.70,37.66 L16.10,37.11 L16.50,36.52 L16.90,35.92 L17.31,35.36 L17.71,34.90 L18.11,34.58 L18.51,34.41 L18.92,34.41 L19.32,34.55 L19.72,34.69 L20.12,34.70 L20.53,34.48 L20.93,33.96 L21.33,33.11 L21.73,31.89 L22.14,30.30 L22.54,28.31 L22.94,25.87 L23.34,22.99 L23.75,19.81 L24.15,16.65 L24.55,13.93 L24.95,12.10 L25.36,11.52 L25.76,12.54 L26.16,15.33 L26.56,19.47 L26.97,24.36 L27.37,29.35 L27.77,33.92 L28.18,37.74 L28.58,40.70 L28.98,42.85 L29.38,44.32 L29.79,45.31 L30.19,45.96 L30.59,46.40 L30.99,46.71 L31.39,46.95 L31.80,47.15 L32.20,47.31 L32.60,47.45 L33.01,47.57 L33.41,47.67 L33.81,47.75 L34.21,47.82 L34.62,47.88 L35.02,47.93 L35.42,47.97 L35.82,48.00 L36.23,48.03 L36.63,48.04 L37.03,48.06 L37.43,48.07 L37.84,48.08 L38.24,48.08 L38.64,48.09 L39.04,48.09 L39.45,48.09 L39.85,48.10 L40.25,48.10 L40.65,48.10 L41.05,48.10 L41.46,48.10 L41.86,48.10 L42.26,48.10 L42.66,48.10 L43.07,48.10 L43.47,48.10 L43.87,48.10 L44.27,48.10 L44.68,48.10 L45.08,48.10 L45.48,48.10 L45.88,48.10 L46.29,48.10 L46.69,48.10 L47.09,48.10 L47.49,48.10 L47.90,48.10 L48.30,48.10 L48.30,48.10 Z" fill="#979797" stroke="#3a3a3a" stroke-width="0.6" stroke-linejoin="round"/>
<line x1="0" y1="27.42" x2="16.50" y2="27.42" stroke="#474747" stroke-width="0.8"/>
<line x1="16.50" y1="26.52" x2="16.50" y2="28.32" stroke="#505050" stroke-width="0.6"/>
<line x1="16.00" y1="29.34" x2="48.3" y2="29.34" stroke="#555" stroke-width="0.9"/>
<line x1="16.00" y1="28.34" x2="16.00" y2="30.34" stroke="#5a5a5a" stroke-width="0.6"/>
<text x="4.4" y="6.9" font-size="4.4" font-weight="bold" fill="#1f2ff5" stroke="#1f2ff5" stroke-width="0.2">(-)</text>
<text x="3.7" y="13.3" font-size="4.6" font-weight="bold" fill="#1f2ff5" stroke="#1f2ff5" stroke-width="0.2">13.0%</text>
<text x="44.90" y="6.9" font-size="4.4" text-anchor="end" font-weight="bold" fill="#1f2ff5" stroke="#1f2ff5" stroke-width="0.2">(+)</text>
<text x="45.30" y="13.3" font-size="4.6" text-anchor="end" font-weight="bold" fill="#1f2ff5" stroke="#1f2ff5" stroke-width="0.2">87.0%</text>
</g>
<text x="196.20" y="57.40" font-size="6.0" text-anchor="middle" font-weight="bold" fill="#000" transform="rotate(-90 196.20 57.40)">HSC-3</text>
<text x="196.20" y="115.05" font-size="6.0" text-anchor="middle" font-weight="bold" fill="#000" transform="rotate(-90 196.20 115.05)">Ca9-22</text>
<text x="196.20" y="172.95" font-size="6.0" text-anchor="middle" font-weight="bold" fill="#000" transform="rotate(-90 196.20 172.95)">OC-2</text>
<text x="196.20" y="230.45" font-size="6.0" text-anchor="middle" font-weight="bold" fill="#000" transform="rotate(-90 196.20 230.45)">HGF-1</text>
<text x="12.50" y="143.80" font-size="7.6" text-anchor="middle" font-weight="bold" fill="#000" transform="rotate(-90 12.50 143.80)">Count</text>
<text x="107.35" y="270.40" font-size="7.7" text-anchor="middle" font-weight="bold" fill="#000">MitoMP intensity</text>
<text x="248.45" y="29.80" font-size="7.8" text-anchor="middle" font-weight="bold" fill="#000">Control</text>
<g transform="translate(223.40,33.30)">
<rect x="0" y="0" width="48.3" height="48.2" fill="#fff" stroke="#9a9a9a" stroke-width="0.7"/>
<line x1="-1.2" y1="2.30" x2="0" y2="2.30" stroke="#444" stroke-width="0.6"/>
<text x="-1.8" y="3.55" font-size="3.5" text-anchor="end" font-weight="bold" fill="#111" stroke="#111" stroke-width="0.12">5000</text>
<line x1="-0.7" y1="4.56" x2="0" y2="4.56" stroke="#777" stroke-width="0.4"/>
<line x1="-0.7" y1="6.83" x2="0" y2="6.83" stroke="#777" stroke-width="0.4"/>
<line x1="-0.7" y1="9.09" x2="0" y2="9.09" stroke="#777" stroke-width="0.4"/>
<line x1="-1.2" y1="11.36" x2="0" y2="11.36" stroke="#444" stroke-width="0.6"/>
<text x="-1.8" y="12.61" font-size="3.5" text-anchor="end" font-weight="bold" fill="#111" stroke="#111" stroke-width="0.12">4000</text>
<line x1="-0.7" y1="13.62" x2="0" y2="13.62" stroke="#777" stroke-width="0.4"/>
<line x1="-0.7" y1="15.89" x2="0" y2="15.89" stroke="#777" stroke-width="0.4"/>
<line x1="-0.7" y1="18.16" x2="0" y2="18.16" stroke="#777" stroke-width="0.4"/>
<line x1="-1.2" y1="20.42" x2="0" y2="20.42" stroke="#444" stroke-width="0.6"/>
<text x="-1.8" y="21.67" font-size="3.5" text-anchor="end" font-weight="bold" fill="#111" stroke="#111" stroke-width="0.12">3000</text>
<line x1="-0.7" y1="22.69" x2="0" y2="22.69" stroke="#777" stroke-width="0.4"/>
<line x1="-0.7" y1="24.95" x2="0" y2="24.95" stroke="#777" stroke-width="0.4"/>
<line x1="-0.7" y1="27.22" x2="0" y2="27.22" stroke="#777" stroke-width="0.4"/>
<line x1="-1.2" y1="29.48" x2="0" y2="29.48" stroke="#444" stroke-width="0.6"/>
<text x="-1.8" y="30.73" font-size="3.5" text-anchor="end" font-weight="bold" fill="#111" stroke="#111" stroke-width="0.12">2000</text>
<line x1="-0.7" y1="31.75" x2="0" y2="31.75" stroke="#777" stroke-width="0.4"/>
<line x1="-0.7" y1="34.01" x2="0" y2="34.01" stroke="#777" stroke-width="0.4"/>
<line x1="-0.7" y1="36.27" x2="0" y2="36.27" stroke="#777" stroke-width="0.4"/>
<line x1="-1.2" y1="38.54" x2="0" y2="38.54" stroke="#444" stroke-width="0.6"/>
<text x="-1.8" y="39.79" font-size="3.5" text-anchor="end" font-weight="bold" fill="#111" stroke="#111" stroke-width="0.12">1000</text>
<line x1="-0.7" y1="40.80" x2="0" y2="40.80" stroke="#777" stroke-width="0.4"/>
<line x1="-0.7" y1="43.07" x2="0" y2="43.07" stroke="#777" stroke-width="0.4"/>
<line x1="-0.7" y1="45.34" x2="0" y2="45.34" stroke="#777" stroke-width="0.4"/>
<line x1="-1.2" y1="47.60" x2="0" y2="47.60" stroke="#444" stroke-width="0.6"/>
<text x="-1.8" y="48.85" font-size="3.5" text-anchor="end" font-weight="bold" fill="#111" stroke="#111" stroke-width="0.12">0</text>
<line x1="2.00" y1="48.2" x2="2.00" y2="49.30" stroke="#555" stroke-width="0.6"/>
<text x="3.20" y="54.70" font-size="3.3" text-anchor="middle" font-weight="bold" fill="#222" stroke="#222" stroke-width="0.1">10</text>
<text x="4.90" y="51.60" font-size="2.5" font-weight="bold" fill="#222" stroke="#222" stroke-width="0.08">3</text>
<line x1="11.55" y1="48.2" x2="11.55" y2="49.30" stroke="#555" stroke-width="0.6"/>
<text x="12.75" y="54.70" font-size="3.3" text-anchor="middle" font-weight="bold" fill="#222" stroke="#222" stroke-width="0.1">10</text>
<text x="14.45" y="51.60" font-size="2.5" font-weight="bold" fill="#222" stroke="#222" stroke-width="0.08">4</text>
<line x1="21.10" y1="48.2" x2="21.10" y2="49.30" stroke="#555" stroke-width="0.6"/>
<text x="22.30" y="54.70" font-size="3.3" text-anchor="middle" font-weight="bold" fill="#222" stroke="#222" stroke-width="0.1">10</text>
<text x="24.00" y="51.60" font-size="2.5" font-weight="bold" fill="#222" stroke="#222" stroke-width="0.08">5</text>
<line x1="30.65" y1="48.2" x2="30.65" y2="49.30" stroke="#555" stroke-width="0.6"/>
<text x="31.85" y="54.70" font-size="3.3" text-anchor="middle" font-weight="bold" fill="#222" stroke="#222" stroke-width="0.1">10</text>
<text x="33.55" y="51.60" font-size="2.5" font-weight="bold" fill="#222" stroke="#222" stroke-width="0.08">6</text>
<line x1="40.20" y1="48.2" x2="40.20" y2="49.30" stroke="#555" stroke-width="0.6"/>
<text x="41.40" y="54.70" font-size="3.3" text-anchor="middle" font-weight="bold" fill="#222" stroke="#222" stroke-width="0.1">10</text>
<text x="43.10" y="51.60" font-size="2.5" font-weight="bold" fill="#222" stroke="#222" stroke-width="0.08">7</text>
<path d="M0,48.20 L0.00,48.20 L0.40,48.20 L0.80,48.19 L1.21,48.19 L1.61,48.19 L2.01,48.19 L2.41,48.19 L2.82,48.19 L3.22,48.18 L3.62,48.18 L4.03,48.18 L4.43,48.17 L4.83,48.17 L5.23,48.17 L5.63,48.16 L6.04,48.15 L6.44,48.15 L6.84,48.14 L7.25,48.13 L7.65,48.11 L8.05,48.09 L8.45,48.05 L8.85,48.01 L9.26,47.96 L9.66,47.89 L10.06,47.80 L10.46,47.69 L10.87,47.58 L11.27,47.45 L11.67,47.33 L12.07,47.21 L12.48,47.11 L12.88,47.04 L13.28,47.00 L13.68,47.00 L14.09,47.03 L14.49,47.10 L14.89,47.19 L15.29,47.30 L15.70,47.42 L16.10,47.53 L16.50,47.63 L16.90,47.71 L17.31,47.77 L17.71,47.80 L18.11,47.81 L18.51,47.78 L18.92,47.73 L19.32,47.65 L19.72,47.54 L20.12,47.39 L20.53,47.22 L20.93,47.01 L21.33,46.75 L21.73,46.41 L22.14,45.93 L22.54,45.20 L22.94,44.03 L23.34,42.12 L23.75,39.17 L24.15,34.87 L24.55,29.19 L24.95,22.41 L25.36,15.34 L25.76,9.13 L26.16,5.01 L26.56,3.88 L26.97,5.51 L27.37,9.32 L27.77,14.68 L28.18,20.77 L28.58,26.82 L28.98,32.22 L29.38,36.63 L29.79,39.99 L30.19,42.38 L30.59,44.00 L30.99,45.07 L31.39,45.78 L31.80,46.26 L32.20,46.60 L32.60,46.87 L33.01,47.09 L33.41,47.28 L33.81,47.44 L34.21,47.58 L34.62,47.70 L35.02,47.80 L35.42,47.88 L35.82,47.95 L36.23,48.01 L36.63,48.05 L37.03,48.09 L37.43,48.11 L37.84,48.14 L38.24,48.15 L38.64,48.17 L39.04,48.18 L39.45,48.18 L39.85,48.19 L40.25,48.19 L40.65,48.19 L41.05,48.20 L41.46,48.20 L41.86,48.20 L42.26,48.20 L42.66,48.20 L43.07,48.20 L43.47,48.20 L43.87,48.20 L44.27,48.20 L44.68,48.20 L45.08,48.20 L45.48,48.20 L45.88,48.20 L46.29,48.20 L46.69,48.20 L47.09,48.20 L47.49,48.20 L47.90,48.20 L48.30,48.20 L48.30,48.20 Z" fill="#979797" stroke="#3a3a3a" stroke-width="0.6" stroke-linejoin="round"/>
<line x1="0" y1="31.19" x2="22.50" y2="31.19" stroke="#474747" stroke-width="0.8"/>
<line x1="22.50" y1="30.29" x2="22.50" y2="32.09" stroke="#505050" stroke-width="0.6"/>
<line x1="22.00" y1="33.40" x2="48.3" y2="33.40" stroke="#555" stroke-width="0.9"/>
<line x1="22.00" y1="32.40" x2="22.00" y2="34.40" stroke="#5a5a5a" stroke-width="0.6"/>
<text x="4.4" y="6.9" font-size="4.4" font-weight="bold" fill="#1f2ff5" stroke="#1f2ff5" stroke-width="0.2">(-)</text>
<text x="3.7" y="13.3" font-size="4.6" font-weight="bold" fill="#1f2ff5" stroke="#1f2ff5" stroke-width="0.2">5.00%</text>
<text x="44.90" y="6.9" font-size="4.4" text-anchor="end" font-weight="bold" fill="#1f2ff5" stroke="#1f2ff5" stroke-width="0.2">(+)</text>
<text x="45.30" y="13.3" font-size="4.6" text-anchor="end" font-weight="bold" fill="#1f2ff5" stroke="#1f2ff5" stroke-width="0.2">95.0%</text>
</g>
<g transform="translate(223.40,91.20)">
<rect x="0" y="0" width="48.3" height="47.7" fill="#fff" stroke="#9a9a9a" stroke-width="0.7"/>
<line x1="-1.2" y1="2.30" x2="0" y2="2.30" stroke="#444" stroke-width="0.6"/>
<text x="-1.8" y="3.55" font-size="3.5" text-anchor="end" font-weight="bold" fill="#111" stroke="#111" stroke-width="0.12">5000</text>
<line x1="-0.7" y1="4.54" x2="0" y2="4.54" stroke="#777" stroke-width="0.4"/>
<line x1="-0.7" y1="6.78" x2="0" y2="6.78" stroke="#777" stroke-width="0.4"/>
<line x1="-0.7" y1="9.02" x2="0" y2="9.02" stroke="#777" stroke-width="0.4"/>
<line x1="-1.2" y1="11.26" x2="0" y2="11.26" stroke="#444" stroke-width="0.6"/>
<text x="-1.8" y="12.51" font-size="3.5" text-anchor="end" font-weight="bold" fill="#111" stroke="#111" stroke-width="0.12">4000</text>
<line x1="-0.7" y1="13.50" x2="0" y2="13.50" stroke="#777" stroke-width="0.4"/>
<line x1="-0.7" y1="15.74" x2="0" y2="15.74" stroke="#777" stroke-width="0.4"/>
<line x1="-0.7" y1="17.98" x2="0" y2="17.98" stroke="#777" stroke-width="0.4"/>
<line x1="-1.2" y1="20.22" x2="0" y2="20.22" stroke="#444" stroke-width="0.6"/>
<text x="-1.8" y="21.47" font-size="3.5" text-anchor="end" font-weight="bold" fill="#111" stroke="#111" stroke-width="0.12">3000</text>
<line x1="-0.7" y1="22.46" x2="0" y2="22.46" stroke="#777" stroke-width="0.4"/>
<line x1="-0.7" y1="24.70" x2="0" y2="24.70" stroke="#777" stroke-width="0.4"/>
<line x1="-0.7" y1="26.94" x2="0" y2="26.94" stroke="#777" stroke-width="0.4"/>
<line x1="-1.2" y1="29.18" x2="0" y2="29.18" stroke="#444" stroke-width="0.6"/>
<text x="-1.8" y="30.43" font-size="3.5" text-anchor="end" font-weight="bold" fill="#111" stroke="#111" stroke-width="0.12">2000</text>
<line x1="-0.7" y1="31.42" x2="0" y2="31.42" stroke="#777" stroke-width="0.4"/>
<line x1="-0.7" y1="33.66" x2="0" y2="33.66" stroke="#777" stroke-width="0.4"/>
<line x1="-0.7" y1="35.90" x2="0" y2="35.90" stroke="#777" stroke-width="0.4"/>
<line x1="-1.2" y1="38.14" x2="0" y2="38.14" stroke="#444" stroke-width="0.6"/>
<text x="-1.8" y="39.39" font-size="3.5" text-anchor="end" font-weight="bold" fill="#111" stroke="#111" stroke-width="0.12">1000</text>
<line x1="-0.7" y1="40.38" x2="0" y2="40.38" stroke="#777" stroke-width="0.4"/>
<line x1="-0.7" y1="42.62" x2="0" y2="42.62" stroke="#777" stroke-width="0.4"/>
<line x1="-0.7" y1="44.86" x2="0" y2="44.86" stroke="#777" stroke-width="0.4"/>
<line x1="-1.2" y1="47.10" x2="0" y2="47.10" stroke="#444" stroke-width="0.6"/>
<text x="-1.8" y="48.35" font-size="3.5" text-anchor="end" font-weight="bold" fill="#111" stroke="#111" stroke-width="0.12">0</text>
<line x1="2.00" y1="47.7" x2="2.00" y2="48.80" stroke="#555" stroke-width="0.6"/>
<text x="3.20" y="54.20" font-size="3.3" text-anchor="middle" font-weight="bold" fill="#222" stroke="#222" stroke-width="0.1">10</text>
<text x="4.90" y="51.10" font-size="2.5" font-weight="bold" fill="#222" stroke="#222" stroke-width="0.08">3</text>
<line x1="11.55" y1="47.7" x2="11.55" y2="48.80" stroke="#555" stroke-width="0.6"/>
<text x="12.75" y="54.20" font-size="3.3" text-anchor="middle" font-weight="bold" fill="#222" stroke="#222" stroke-width="0.1">10</text>
<text x="14.45" y="51.10" font-size="2.5" font-weight="bold" fill="#222" stroke="#222" stroke-width="0.08">4</text>
<line x1="21.10" y1="47.7" x2="21.10" y2="48.80" stroke="#555" stroke-width="0.6"/>
<text x="22.30" y="54.20" font-size="3.3" text-anchor="middle" font-weight="bold" fill="#222" stroke="#222" stroke-width="0.1">10</text>
<text x="24.00" y="51.10" font-size="2.5" font-weight="bold" fill="#222" stroke="#222" stroke-width="0.08">5</text>
<line x1="30.65" y1="47.7" x2="30.65" y2="48.80" stroke="#555" stroke-width="0.6"/>
<text x="31.85" y="54.20" font-size="3.3" text-anchor="middle" font-weight="bold" fill="#222" stroke="#222" stroke-width="0.1">10</text>
<text x="33.55" y="51.10" font-size="2.5" font-weight="bold" fill="#222" stroke="#222" stroke-width="0.08">6</text>
<line x1="40.20" y1="47.7" x2="40.20" y2="48.80" stroke="#555" stroke-width="0.6"/>
<text x="41.40" y="54.20" font-size="3.3" text-anchor="middle" font-weight="bold" fill="#222" stroke="#222" stroke-width="0.1">10</text>
<text x="43.10" y="51.10" font-size="2.5" font-weight="bold" fill="#222" stroke="#222" stroke-width="0.08">7</text>
<path d="M0,47.70 L0.00,47.70 L0.40,47.70 L0.80,47.70 L1.21,47.70 L1.61,47.70 L2.01,47.70 L2.41,47.70 L2.82,47.70 L3.22,47.70 L3.62,47.70 L4.03,47.70 L4.43,47.70 L4.83,47.70 L5.23,47.70 L5.63,47.70 L6.04,47.70 L6.44,47.70 L6.84,47.70 L7.25,47.70 L7.65,47.70 L8.05,47.70 L8.45,47.70 L8.85,47.70 L9.26,47.70 L9.66,47.70 L10.06,47.70 L10.46,47.70 L10.87,47.70 L11.27,47.70 L11.67,47.70 L12.07,47.70 L12.48,47.70 L12.88,47.70 L13.28,47.70 L13.68,47.70 L14.09,47.69 L14.49,47.69 L14.89,47.69 L15.29,47.68 L15.70,47.67 L16.10,47.65 L16.50,47.63 L16.90,47.59 L17.31,47.55 L17.71,47.49 L18.11,47.41 L18.51,47.32 L18.92,47.19 L19.32,47.04 L19.72,46.86 L20.12,46.64 L20.53,46.37 L20.93,46.02 L21.33,45.52 L21.73,44.75 L22.14,43.46 L22.54,41.30 L22.94,37.84 L23.34,32.78 L23.75,26.14 L24.15,18.53 L24.55,11.19 L24.95,5.67 L25.36,3.36 L25.76,4.48 L26.16,8.20 L26.56,13.82 L26.97,20.33 L27.37,26.79 L27.77,32.46 L28.18,36.98 L28.58,40.29 L28.98,42.55 L29.38,44.03 L29.79,44.97 L30.19,45.58 L30.59,45.99 L30.99,46.30 L31.39,46.55 L31.80,46.76 L32.20,46.93 L32.60,47.08 L33.01,47.21 L33.41,47.31 L33.81,47.40 L34.21,47.47 L34.62,47.52 L35.02,47.57 L35.42,47.60 L35.82,47.63 L36.23,47.65 L36.63,47.66 L37.03,47.67 L37.43,47.68 L37.84,47.69 L38.24,47.69 L38.64,47.69 L39.04,47.70 L39.45,47.70 L39.85,47.70 L40.25,47.70 L40.65,47.70 L41.05,47.70 L41.46,47.70 L41.86,47.70 L42.26,47.70 L42.66,47.70 L43.07,47.70 L43.47,47.70 L43.87,47.70 L44.27,47.70 L44.68,47.70 L45.08,47.70 L45.48,47.70 L45.88,47.70 L46.29,47.70 L46.69,47.70 L47.09,47.70 L47.49,47.70 L47.90,47.70 L48.30,47.70 L48.30,47.70 Z" fill="#979797" stroke="#3a3a3a" stroke-width="0.6" stroke-linejoin="round"/>
<line x1="0" y1="29.10" x2="19.00" y2="29.10" stroke="#474747" stroke-width="0.8"/>
<line x1="19.00" y1="28.20" x2="19.00" y2="30.00" stroke="#505050" stroke-width="0.6"/>
<line x1="18.50" y1="31.91" x2="48.3" y2="31.91" stroke="#555" stroke-width="0.9"/>
<line x1="18.50" y1="30.91" x2="18.50" y2="32.91" stroke="#5a5a5a" stroke-width="0.6"/>
<text x="4.4" y="6.9" font-size="4.4" font-weight="bold" fill="#1f2ff5" stroke="#1f2ff5" stroke-width="0.2">(-)</text>
<text x="3.7" y="13.3" font-size="4.6" font-weight="bold" fill="#1f2ff5" stroke="#1f2ff5" stroke-width="0.2">5.00%</text>
<text x="44.90" y="6.9" font-size="4.4" text-anchor="end" font-weight="bold" fill="#1f2ff5" stroke="#1f2ff5" stroke-width="0.2">(+)</text>
<text x="45.30" y="13.3" font-size="4.6" text-anchor="end" font-weight="bold" fill="#1f2ff5" stroke="#1f2ff5" stroke-width="0.2">95.0%</text>
</g>
<g transform="translate(223.40,149.10)">
<rect x="0" y="0" width="48.3" height="47.7" fill="#fff" stroke="#9a9a9a" stroke-width="0.7"/>
<line x1="-1.2" y1="8.80" x2="0" y2="8.80" stroke="#444" stroke-width="0.6"/>
<text x="-1.8" y="10.05" font-size="3.5" text-anchor="end" font-weight="bold" fill="#111" stroke="#111" stroke-width="0.12">400</text>
<line x1="-0.7" y1="11.19" x2="0" y2="11.19" stroke="#777" stroke-width="0.4"/>
<line x1="-0.7" y1="13.59" x2="0" y2="13.59" stroke="#777" stroke-width="0.4"/>
<line x1="-0.7" y1="15.98" x2="0" y2="15.98" stroke="#777" stroke-width="0.4"/>
<line x1="-1.2" y1="18.38" x2="0" y2="18.38" stroke="#444" stroke-width="0.6"/>
<text x="-1.8" y="19.62" font-size="3.5" text-anchor="end" font-weight="bold" fill="#111" stroke="#111" stroke-width="0.12">300</text>
<line x1="-0.7" y1="20.77" x2="0" y2="20.77" stroke="#777" stroke-width="0.4"/>
<line x1="-0.7" y1="23.16" x2="0" y2="23.16" stroke="#777" stroke-width="0.4"/>
<line x1="-0.7" y1="25.56" x2="0" y2="25.56" stroke="#777" stroke-width="0.4"/>
<line x1="-1.2" y1="27.95" x2="0" y2="27.95" stroke="#444" stroke-width="0.6"/>
<text x="-1.8" y="29.20" font-size="3.5" text-anchor="end" font-weight="bold" fill="#111" stroke="#111" stroke-width="0.12">200</text>
<line x1="-0.7" y1="30.34" x2="0" y2="30.34" stroke="#777" stroke-width="0.4"/>
<line x1="-0.7" y1="32.74" x2="0" y2="32.74" stroke="#777" stroke-width="0.4"/>
<line x1="-0.7" y1="35.13" x2="0" y2="35.13" stroke="#777" stroke-width="0.4"/>
<line x1="-1.2" y1="37.52" x2="0" y2="37.52" stroke="#444" stroke-width="0.6"/>
<text x="-1.8" y="38.77" font-size="3.5" text-anchor="end" font-weight="bold" fill="#111" stroke="#111" stroke-width="0.12">100</text>
<line x1="-0.7" y1="39.92" x2="0" y2="39.92" stroke="#777" stroke-width="0.4"/>
<line x1="-0.7" y1="42.31" x2="0" y2="42.31" stroke="#777" stroke-width="0.4"/>
<line x1="-0.7" y1="44.71" x2="0" y2="44.71" stroke="#777" stroke-width="0.4"/>
<line x1="-1.2" y1="47.10" x2="0" y2="47.10" stroke="#444" stroke-width="0.6"/>
<text x="-1.8" y="48.35" font-size="3.5" text-anchor="end" font-weight="bold" fill="#111" stroke="#111" stroke-width="0.12">0</text>
<line x1="2.00" y1="47.7" x2="2.00" y2="48.80" stroke="#555" stroke-width="0.6"/>
<text x="3.20" y="54.20" font-size="3.3" text-anchor="middle" font-weight="bold" fill="#222" stroke="#222" stroke-width="0.1">10</text>
<text x="4.90" y="51.10" font-size="2.5" font-weight="bold" fill="#222" stroke="#222" stroke-width="0.08">3</text>
<line x1="11.55" y1="47.7" x2="11.55" y2="48.80" stroke="#555" stroke-width="0.6"/>
<text x="12.75" y="54.20" font-size="3.3" text-anchor="middle" font-weight="bold" fill="#222" stroke="#222" stroke-width="0.1">10</text>
<text x="14.45" y="51.10" font-size="2.5" font-weight="bold" fill="#222" stroke="#222" stroke-width="0.08">4</text>
<line x1="21.10" y1="47.7" x2="21.10" y2="48.80" stroke="#555" stroke-width="0.6"/>
<text x="22.30" y="54.20" font-size="3.3" text-anchor="middle" font-weight="bold" fill="#222" stroke="#222" stroke-width="0.1">10</text>
<text x="24.00" y="51.10" font-size="2.5" font-weight="bold" fill="#222" stroke="#222" stroke-width="0.08">5</text>
<line x1="30.65" y1="47.7" x2="30.65" y2="48.80" stroke="#555" stroke-width="0.6"/>
<text x="31.85" y="54.20" font-size="3.3" text-anchor="middle" font-weight="bold" fill="#222" stroke="#222" stroke-width="0.1">10</text>
<text x="33.55" y="51.10" font-size="2.5" font-weight="bold" fill="#222" stroke="#222" stroke-width="0.08">6</text>
<line x1="40.20" y1="47.7" x2="40.20" y2="48.80" stroke="#555" stroke-width="0.6"/>
<text x="41.40" y="54.20" font-size="3.3" text-anchor="middle" font-weight="bold" fill="#222" stroke="#222" stroke-width="0.1">10</text>
<text x="43.10" y="51.10" font-size="2.5" font-weight="bold" fill="#222" stroke="#222" stroke-width="0.08">7</text>
<path d="M0,47.70 L0.00,47.70 L0.40,47.70 L0.80,47.70 L1.21,47.70 L1.61,47.70 L2.01,47.70 L2.41,47.70 L2.82,47.70 L3.22,47.70 L3.62,47.70 L4.03,47.70 L4.43,47.70 L4.83,47.70 L5.23,47.70 L5.63,47.70 L6.04,47.70 L6.44,47.70 L6.84,47.70 L7.25,47.70 L7.65,47.70 L8.05,47.70 L8.45,47.70 L8.85,47.70 L9.26,47.70 L9.66,47.70 L10.06,47.70 L10.46,47.70 L10.87,47.70 L11.27,47.70 L11.67,47.70 L12.07,47.70 L12.48,47.70 L12.88,47.70 L13.28,47.70 L13.68,47.70 L14.09,47.70 L14.49,47.70 L14.89,47.70 L15.29,47.69 L15.70,47.69 L16.10,47.68 L16.50,47.67 L16.90,47.66 L17.31,47.64 L17.71,47.62 L18.11,47.58 L18.51,47.53 L18.92,47.47 L19.32,47.39 L19.72,47.28 L20.12,47.15 L20.53,46.99 L20.93,46.79 L21.33,46.56 L21.73,46.27 L22.14,45.88 L22.54,45.33 L22.94,44.44 L23.34,42.93 L23.75,40.44 L24.15,36.53 L24.55,30.97 L24.95,23.91 L25.36,16.15 L25.76,9.06 L26.16,4.23 L26.56,2.90 L26.97,4.78 L27.37,9.15 L27.77,15.16 L28.18,21.82 L28.58,28.19 L28.98,33.64 L29.38,37.87 L29.79,40.91 L30.19,42.96 L30.59,44.28 L30.99,45.13 L31.39,45.68 L31.80,46.07 L32.20,46.36 L32.60,46.60 L33.01,46.80 L33.41,46.97 L33.81,47.11 L34.21,47.23 L34.62,47.33 L35.02,47.41 L35.42,47.48 L35.82,47.53 L36.23,47.58 L36.63,47.61 L37.03,47.63 L37.43,47.65 L37.84,47.67 L38.24,47.68 L38.64,47.68 L39.04,47.69 L39.45,47.69 L39.85,47.69 L40.25,47.70 L40.65,47.70 L41.05,47.70 L41.46,47.70 L41.86,47.70 L42.26,47.70 L42.66,47.70 L43.07,47.70 L43.47,47.70 L43.87,47.70 L44.27,47.70 L44.68,47.70 L45.08,47.70 L45.48,47.70 L45.88,47.70 L46.29,47.70 L46.69,47.70 L47.09,47.70 L47.49,47.70 L47.90,47.70 L48.30,47.70 L48.30,47.70 Z" fill="#979797" stroke="#3a3a3a" stroke-width="0.6" stroke-linejoin="round"/>
<line x1="0" y1="29.10" x2="23.00" y2="29.10" stroke="#474747" stroke-width="0.8"/>
<line x1="23.00" y1="28.20" x2="23.00" y2="30.00" stroke="#505050" stroke-width="0.6"/>
<line x1="22.50" y1="31.29" x2="48.3" y2="31.29" stroke="#555" stroke-width="0.9"/>
<line x1="22.50" y1="30.29" x2="22.50" y2="32.29" stroke="#5a5a5a" stroke-width="0.6"/>
<text x="4.4" y="6.9" font-size="4.4" font-weight="bold" fill="#1f2ff5" stroke="#1f2ff5" stroke-width="0.2">(-)</text>
<text x="3.7" y="13.3" font-size="4.6" font-weight="bold" fill="#1f2ff5" stroke="#1f2ff5" stroke-width="0.2">5.00%</text>
<text x="44.90" y="6.9" font-size="4.4" text-anchor="end" font-weight="bold" fill="#1f2ff5" stroke="#1f2ff5" stroke-width="0.2">(+)</text>
<text x="45.30" y="13.3" font-size="4.6" text-anchor="end" font-weight="bold" fill="#1f2ff5" stroke="#1f2ff5" stroke-width="0.2">95.0%</text>
</g>
<g transform="translate(223.40,206.40)">
<rect x="0" y="0" width="48.3" height="48.1" fill="#fff" stroke="#9a9a9a" stroke-width="0.7"/>
<line x1="-1.2" y1="8.80" x2="0" y2="8.80" stroke="#444" stroke-width="0.6"/>
<text x="-1.8" y="10.05" font-size="3.5" text-anchor="end" font-weight="bold" fill="#111" stroke="#111" stroke-width="0.12">40</text>
<line x1="-0.7" y1="11.22" x2="0" y2="11.22" stroke="#777" stroke-width="0.4"/>
<line x1="-0.7" y1="13.64" x2="0" y2="13.64" stroke="#777" stroke-width="0.4"/>
<line x1="-0.7" y1="16.06" x2="0" y2="16.06" stroke="#777" stroke-width="0.4"/>
<line x1="-1.2" y1="18.48" x2="0" y2="18.48" stroke="#444" stroke-width="0.6"/>
<text x="-1.8" y="19.73" font-size="3.5" text-anchor="end" font-weight="bold" fill="#111" stroke="#111" stroke-width="0.12">30</text>
<line x1="-0.7" y1="20.89" x2="0" y2="20.89" stroke="#777" stroke-width="0.4"/>
<line x1="-0.7" y1="23.31" x2="0" y2="23.31" stroke="#777" stroke-width="0.4"/>
<line x1="-0.7" y1="25.73" x2="0" y2="25.73" stroke="#777" stroke-width="0.4"/>
<line x1="-1.2" y1="28.15" x2="0" y2="28.15" stroke="#444" stroke-width="0.6"/>
<text x="-1.8" y="29.40" font-size="3.5" text-anchor="end" font-weight="bold" fill="#111" stroke="#111" stroke-width="0.12">20</text>
<line x1="-0.7" y1="30.57" x2="0" y2="30.57" stroke="#777" stroke-width="0.4"/>
<line x1="-0.7" y1="32.99" x2="0" y2="32.99" stroke="#777" stroke-width="0.4"/>
<line x1="-0.7" y1="35.41" x2="0" y2="35.41" stroke="#777" stroke-width="0.4"/>
<line x1="-1.2" y1="37.83" x2="0" y2="37.83" stroke="#444" stroke-width="0.6"/>
<text x="-1.8" y="39.08" font-size="3.5" text-anchor="end" font-weight="bold" fill="#111" stroke="#111" stroke-width="0.12">10</text>
<line x1="-0.7" y1="40.24" x2="0" y2="40.24" stroke="#777" stroke-width="0.4"/>
<line x1="-0.7" y1="42.66" x2="0" y2="42.66" stroke="#777" stroke-width="0.4"/>
<line x1="-0.7" y1="45.08" x2="0" y2="45.08" stroke="#777" stroke-width="0.4"/>
<line x1="-1.2" y1="47.50" x2="0" y2="47.50" stroke="#444" stroke-width="0.6"/>
<text x="-1.8" y="48.75" font-size="3.5" text-anchor="end" font-weight="bold" fill="#111" stroke="#111" stroke-width="0.12">0</text>
<line x1="2.10" y1="48.1" x2="2.10" y2="49.20" stroke="#555" stroke-width="0.6"/>
<text x="3.30" y="54.60" font-size="3.3" text-anchor="middle" font-weight="bold" fill="#222" stroke="#222" stroke-width="0.1">10</text>
<text x="5.00" y="51.50" font-size="2.5" font-weight="bold" fill="#222" stroke="#222" stroke-width="0.08">0</text>
<line x1="8.30" y1="48.1" x2="8.30" y2="49.20" stroke="#555" stroke-width="0.6"/>
<text x="9.50" y="54.60" font-size="3.3" text-anchor="middle" font-weight="bold" fill="#222" stroke="#222" stroke-width="0.1">10</text>
<text x="11.20" y="51.50" font-size="2.5" font-weight="bold" fill="#222" stroke="#222" stroke-width="0.08">1</text>
<line x1="16.80" y1="48.1" x2="16.80" y2="49.20" stroke="#555" stroke-width="0.6"/>
<text x="18.00" y="54.60" font-size="3.3" text-anchor="middle" font-weight="bold" fill="#222" stroke="#222" stroke-width="0.1">10</text>
<text x="19.70" y="51.50" font-size="2.5" font-weight="bold" fill="#222" stroke="#222" stroke-width="0.08">2</text>
<line x1="25.40" y1="48.1" x2="25.40" y2="49.20" stroke="#555" stroke-width="0.6"/>
<text x="26.60" y="54.60" font-size="3.3" text-anchor="middle" font-weight="bold" fill="#222" stroke="#222" stroke-width="0.1">10</text>
<text x="28.30" y="51.50" font-size="2.5" font-weight="bold" fill="#222" stroke="#222" stroke-width="0.08">3</text>
<line x1="34.10" y1="48.1" x2="34.10" y2="49.20" stroke="#555" stroke-width="0.6"/>
<text x="35.30" y="54.60" font-size="3.3" text-anchor="middle" font-weight="bold" fill="#222" stroke="#222" stroke-width="0.1">10</text>
<text x="37.00" y="51.50" font-size="2.5" font-weight="bold" fill="#222" stroke="#222" stroke-width="0.08">4</text>
<line x1="42.20" y1="48.1" x2="42.20" y2="49.20" stroke="#555" stroke-width="0.6"/>
<text x="43.40" y="54.60" font-size="3.3" text-anchor="middle" font-weight="bold" fill="#222" stroke="#222" stroke-width="0.1">10</text>
<text x="45.10" y="51.50" font-size="2.5" font-weight="bold" fill="#222" stroke="#222" stroke-width="0.08">5</text>
<path d="M0,48.10 L0.00,48.06 L0.40,48.05 L0.80,48.05 L1.21,48.04 L1.61,48.03 L2.01,48.03 L2.41,48.02 L2.82,48.01 L3.22,48.00 L3.62,47.99 L4.03,47.98 L4.43,47.97 L4.83,47.96 L5.23,47.94 L5.63,47.92 L6.04,47.89 L6.44,47.86 L6.84,47.82 L7.25,47.76 L7.65,47.70 L8.05,47.63 L8.45,47.54 L8.85,47.43 L9.26,47.30 L9.66,47.16 L10.06,46.99 L10.46,46.81 L10.87,46.61 L11.27,46.40 L11.67,46.18 L12.07,45.96 L12.48,45.74 L12.88,45.53 L13.28,45.33 L13.68,45.15 L14.09,44.99 L14.49,44.86 L14.89,44.75 L15.29,44.65 L15.70,44.54 L16.10,44.40 L16.50,44.22 L16.90,43.94 L17.31,43.56 L17.71,43.05 L18.11,42.40 L18.51,41.64 L18.92,40.81 L19.32,39.97 L19.72,39.19 L20.12,38.56 L20.53,38.12 L20.93,37.87 L21.33,37.88 L21.73,38.03 L22.14,38.14 L22.54,38.00 L22.94,37.53 L23.34,36.73 L23.75,35.73 L24.15,34.75 L24.55,33.94 L24.95,33.30 L25.36,32.69 L25.76,31.79 L26.16,30.28 L26.56,27.97 L26.97,24.87 L27.37,21.26 L27.77,17.64 L28.18,14.61 L28.58,12.73 L28.98,12.41 L29.38,14.09 L29.79,17.66 L30.19,22.48 L30.59,27.76 L30.99,32.78 L31.39,37.05 L31.80,40.37 L32.20,42.75 L32.60,44.35 L33.01,45.39 L33.41,46.05 L33.81,46.49 L34.21,46.80 L34.62,47.03 L35.02,47.22 L35.42,47.38 L35.82,47.52 L36.23,47.63 L36.63,47.73 L37.03,47.81 L37.43,47.87 L37.84,47.93 L38.24,47.97 L38.64,48.00 L39.04,48.03 L39.45,48.05 L39.85,48.06 L40.25,48.07 L40.65,48.08 L41.05,48.09 L41.46,48.09 L41.86,48.09 L42.26,48.10 L42.66,48.10 L43.07,48.10 L43.47,48.10 L43.87,48.10 L44.27,48.10 L44.68,48.10 L45.08,48.10 L45.48,48.10 L45.88,48.10 L46.29,48.10 L46.69,48.10 L47.09,48.10 L47.49,48.10 L47.90,48.10 L48.30,48.10 L48.30,48.10 Z" fill="#979797" stroke="#3a3a3a" stroke-width="0.6" stroke-linejoin="round"/>
<line x1="0" y1="28.38" x2="16.40" y2="28.38" stroke="#474747" stroke-width="0.8"/>
<line x1="16.40" y1="27.48" x2="16.40" y2="29.28" stroke="#505050" stroke-width="0.6"/>
<line x1="15.90" y1="30.30" x2="48.3" y2="30.30" stroke="#555" stroke-width="0.9"/>
<line x1="15.90" y1="29.30" x2="15.90" y2="31.30" stroke="#5a5a5a" stroke-width="0.6"/>
<text x="4.4" y="6.9" font-size="4.4" font-weight="bold" fill="#1f2ff5" stroke="#1f2ff5" stroke-width="0.2">(-)</text>
<text x="3.7" y="13.3" font-size="4.6" font-weight="bold" fill="#1f2ff5" stroke="#1f2ff5" stroke-width="0.2">5.00%</text>
<text x="44.90" y="6.9" font-size="4.4" text-anchor="end" font-weight="bold" fill="#1f2ff5" stroke="#1f2ff5" stroke-width="0.2">(+)</text>
<text x="45.30" y="13.3" font-size="4.6" text-anchor="end" font-weight="bold" fill="#1f2ff5" stroke="#1f2ff5" stroke-width="0.2">95.0%</text>
</g>
<text x="306.25" y="29.80" font-size="7.8" text-anchor="middle" font-weight="bold" fill="#000">12</text>
<g transform="translate(281.20,33.30)">
<rect x="0" y="0" width="48.3" height="48.2" fill="#fff" stroke="#9a9a9a" stroke-width="0.7"/>
<line x1="-1.2" y1="8.80" x2="0" y2="8.80" stroke="#444" stroke-width="0.6"/>
<text x="-1.8" y="10.05" font-size="3.5" text-anchor="end" font-weight="bold" fill="#111" stroke="#111" stroke-width="0.12">400</text>
<line x1="-0.7" y1="11.23" x2="0" y2="11.23" stroke="#777" stroke-width="0.4"/>
<line x1="-0.7" y1="13.65" x2="0" y2="13.65" stroke="#777" stroke-width="0.4"/>
<line x1="-0.7" y1="16.07" x2="0" y2="16.07" stroke="#777" stroke-width="0.4"/>
<line x1="-1.2" y1="18.50" x2="0" y2="18.50" stroke="#444" stroke-width="0.6"/>
<text x="-1.8" y="19.75" font-size="3.5" text-anchor="end" font-weight="bold" fill="#111" stroke="#111" stroke-width="0.12">300</text>
<line x1="-0.7" y1="20.93" x2="0" y2="20.93" stroke="#777" stroke-width="0.4"/>
<line x1="-0.7" y1="23.35" x2="0" y2="23.35" stroke="#777" stroke-width="0.4"/>
<line x1="-0.7" y1="25.77" x2="0" y2="25.77" stroke="#777" stroke-width="0.4"/>
<line x1="-1.2" y1="28.20" x2="0" y2="28.20" stroke="#444" stroke-width="0.6"/>
<text x="-1.8" y="29.45" font-size="3.5" text-anchor="end" font-weight="bold" fill="#111" stroke="#111" stroke-width="0.12">200</text>
<line x1="-0.7" y1="30.62" x2="0" y2="30.62" stroke="#777" stroke-width="0.4"/>
<line x1="-0.7" y1="33.05" x2="0" y2="33.05" stroke="#777" stroke-width="0.4"/>
<line x1="-0.7" y1="35.48" x2="0" y2="35.48" stroke="#777" stroke-width="0.4"/>
<line x1="-1.2" y1="37.90" x2="0" y2="37.90" stroke="#444" stroke-width="0.6"/>
<text x="-1.8" y="39.15" font-size="3.5" text-anchor="end" font-weight="bold" fill="#111" stroke="#111" stroke-width="0.12">100</text>
<line x1="-0.7" y1="40.32" x2="0" y2="40.32" stroke="#777" stroke-width="0.4"/>
<line x1="-0.7" y1="42.75" x2="0" y2="42.75" stroke="#777" stroke-width="0.4"/>
<line x1="-0.7" y1="45.17" x2="0" y2="45.17" stroke="#777" stroke-width="0.4"/>
<line x1="-1.2" y1="47.60" x2="0" y2="47.60" stroke="#444" stroke-width="0.6"/>
<text x="-1.8" y="48.85" font-size="3.5" text-anchor="end" font-weight="bold" fill="#111" stroke="#111" stroke-width="0.12">0</text>
<line x1="2.00" y1="48.2" x2="2.00" y2="49.30" stroke="#555" stroke-width="0.6"/>
<text x="3.20" y="54.70" font-size="3.3" text-anchor="middle" font-weight="bold" fill="#222" stroke="#222" stroke-width="0.1">10</text>
<text x="4.90" y="51.60" font-size="2.5" font-weight="bold" fill="#222" stroke="#222" stroke-width="0.08">3</text>
<line x1="11.55" y1="48.2" x2="11.55" y2="49.30" stroke="#555" stroke-width="0.6"/>
<text x="12.75" y="54.70" font-size="3.3" text-anchor="middle" font-weight="bold" fill="#222" stroke="#222" stroke-width="0.1">10</text>
<text x="14.45" y="51.60" font-size="2.5" font-weight="bold" fill="#222" stroke="#222" stroke-width="0.08">4</text>
<line x1="21.10" y1="48.2" x2="21.10" y2="49.30" stroke="#555" stroke-width="0.6"/>
<text x="22.30" y="54.70" font-size="3.3" text-anchor="middle" font-weight="bold" fill="#222" stroke="#222" stroke-width="0.1">10</text>
<text x="24.00" y="51.60" font-size="2.5" font-weight="bold" fill="#222" stroke="#222" stroke-width="0.08">5</text>
<line x1="30.65" y1="48.2" x2="30.65" y2="49.30" stroke="#555" stroke-width="0.6"/>
<text x="31.85" y="54.70" font-size="3.3" text-anchor="middle" font-weight="bold" fill="#222" stroke="#222" stroke-width="0.1">10</text>
<text x="33.55" y="51.60" font-size="2.5" font-weight="bold" fill="#222" stroke="#222" stroke-width="0.08">6</text>
<line x1="40.20" y1="48.2" x2="40.20" y2="49.30" stroke="#555" stroke-width="0.6"/>
<text x="41.40" y="54.70" font-size="3.3" text-anchor="middle" font-weight="bold" fill="#222" stroke="#222" stroke-width="0.1">10</text>
<text x="43.10" y="51.60" font-size="2.5" font-weight="bold" fill="#222" stroke="#222" stroke-width="0.08">7</text>
<path d="M0,48.20 L0.00,48.20 L0.40,48.19 L0.80,48.19 L1.21,48.19 L1.61,48.19 L2.01,48.19 L2.41,48.18 L2.82,48.18 L3.22,48.18 L3.62,48.17 L4.03,48.16 L4.43,48.16 L4.83,48.15 L5.23,48.14 L5.63,48.13 L6.04,48.12 L6.44,48.10 L6.84,48.09 L7.25,48.07 L7.65,48.05 L8.05,48.01 L8.45,47.97 L8.85,47.91 L9.26,47.82 L9.66,47.69 L10.06,47.53 L10.46,47.30 L10.87,47.03 L11.27,46.69 L11.67,46.32 L12.07,45.93 L12.48,45.54 L12.88,45.21 L13.28,44.95 L13.68,44.81 L14.09,44.79 L14.49,44.89 L14.89,45.10 L15.29,45.39 L15.70,45.72 L16.10,46.05 L16.50,46.34 L16.90,46.57 L17.31,46.73 L17.71,46.80 L18.11,46.80 L18.51,46.71 L18.92,46.54 L19.32,46.28 L19.72,45.88 L20.12,45.26 L20.53,44.23 L20.93,42.55 L21.33,39.88 L21.73,35.92 L22.14,30.51 L22.54,23.86 L22.94,16.62 L23.34,9.89 L23.75,4.96 L24.15,2.89 L24.55,3.84 L24.95,7.15 L25.36,12.26 L25.76,18.36 L26.16,24.62 L26.56,30.38 L26.97,35.20 L27.37,38.93 L27.77,41.64 L28.18,43.50 L28.58,44.73 L28.98,45.55 L29.38,46.09 L29.79,46.48 L30.19,46.77 L30.59,47.01 L30.99,47.21 L31.39,47.38 L31.80,47.53 L32.20,47.65 L32.60,47.76 L33.01,47.85 L33.41,47.93 L33.81,47.99 L34.21,48.04 L34.62,48.07 L35.02,48.11 L35.42,48.13 L35.82,48.15 L36.23,48.16 L36.63,48.17 L37.03,48.18 L37.43,48.19 L37.84,48.19 L38.24,48.19 L38.64,48.20 L39.04,48.20 L39.45,48.20 L39.85,48.20 L40.25,48.20 L40.65,48.20 L41.05,48.20 L41.46,48.20 L41.86,48.20 L42.26,48.20 L42.66,48.20 L43.07,48.20 L43.47,48.20 L43.87,48.20 L44.27,48.20 L44.68,48.20 L45.08,48.20 L45.48,48.20 L45.88,48.20 L46.29,48.20 L46.69,48.20 L47.09,48.20 L47.49,48.20 L47.90,48.20 L48.30,48.20 L48.30,48.20 Z" fill="#979797" stroke="#3a3a3a" stroke-width="0.6" stroke-linejoin="round"/>
<line x1="0" y1="31.19" x2="22.00" y2="31.19" stroke="#474747" stroke-width="0.8"/>
<line x1="22.00" y1="30.29" x2="22.00" y2="32.09" stroke="#505050" stroke-width="0.6"/>
<line x1="21.50" y1="33.40" x2="48.3" y2="33.40" stroke="#555" stroke-width="0.9"/>
<line x1="21.50" y1="32.40" x2="21.50" y2="34.40" stroke="#5a5a5a" stroke-width="0.6"/>
<text x="4.4" y="6.9" font-size="4.4" font-weight="bold" fill="#1f2ff5" stroke="#1f2ff5" stroke-width="0.2">(-)</text>
<text x="3.7" y="13.3" font-size="4.6" font-weight="bold" fill="#1f2ff5" stroke="#1f2ff5" stroke-width="0.2">22.3%</text>
<text x="44.90" y="6.9" font-size="4.4" text-anchor="end" font-weight="bold" fill="#1f2ff5" stroke="#1f2ff5" stroke-width="0.2">(+)</text>
<text x="45.30" y="13.3" font-size="4.6" text-anchor="end" font-weight="bold" fill="#1f2ff5" stroke="#1f2ff5" stroke-width="0.2">77.7%</text>
</g>
<g transform="translate(281.20,91.20)">
<rect x="0" y="0" width="48.3" height="47.7" fill="#fff" stroke="#9a9a9a" stroke-width="0.7"/>
<line x1="-1.2" y1="8.80" x2="0" y2="8.80" stroke="#444" stroke-width="0.6"/>
<text x="-1.8" y="10.05" font-size="3.5" text-anchor="end" font-weight="bold" fill="#111" stroke="#111" stroke-width="0.12">400</text>
<line x1="-0.7" y1="11.19" x2="0" y2="11.19" stroke="#777" stroke-width="0.4"/>
<line x1="-0.7" y1="13.59" x2="0" y2="13.59" stroke="#777" stroke-width="0.4"/>
<line x1="-0.7" y1="15.98" x2="0" y2="15.98" stroke="#777" stroke-width="0.4"/>
<line x1="-1.2" y1="18.38" x2="0" y2="18.38" stroke="#444" stroke-width="0.6"/>
<text x="-1.8" y="19.62" font-size="3.5" text-anchor="end" font-weight="bold" fill="#111" stroke="#111" stroke-width="0.12">300</text>
<line x1="-0.7" y1="20.77" x2="0" y2="20.77" stroke="#777" stroke-width="0.4"/>
<line x1="-0.7" y1="23.16" x2="0" y2="23.16" stroke="#777" stroke-width="0.4"/>
<line x1="-0.7" y1="25.56" x2="0" y2="25.56" stroke="#777" stroke-width="0.4"/>
<line x1="-1.2" y1="27.95" x2="0" y2="27.95" stroke="#444" stroke-width="0.6"/>
<text x="-1.8" y="29.20" font-size="3.5" text-anchor="end" font-weight="bold" fill="#111" stroke="#111" stroke-width="0.12">200</text>
<line x1="-0.7" y1="30.34" x2="0" y2="30.34" stroke="#777" stroke-width="0.4"/>
<line x1="-0.7" y1="32.74" x2="0" y2="32.74" stroke="#777" stroke-width="0.4"/>
<line x1="-0.7" y1="35.13" x2="0" y2="35.13" stroke="#777" stroke-width="0.4"/>
<line x1="-1.2" y1="37.52" x2="0" y2="37.52" stroke="#444" stroke-width="0.6"/>
<text x="-1.8" y="38.77" font-size="3.5" text-anchor="end" font-weight="bold" fill="#111" stroke="#111" stroke-width="0.12">100</text>
<line x1="-0.7" y1="39.92" x2="0" y2="39.92" stroke="#777" stroke-width="0.4"/>
<line x1="-0.7" y1="42.31" x2="0" y2="42.31" stroke="#777" stroke-width="0.4"/>
<line x1="-0.7" y1="44.71" x2="0" y2="44.71" stroke="#777" stroke-width="0.4"/>
<line x1="-1.2" y1="47.10" x2="0" y2="47.10" stroke="#444" stroke-width="0.6"/>
<text x="-1.8" y="48.35" font-size="3.5" text-anchor="end" font-weight="bold" fill="#111" stroke="#111" stroke-width="0.12">0</text>
<line x1="2.00" y1="47.7" x2="2.00" y2="48.80" stroke="#555" stroke-width="0.6"/>
<text x="3.20" y="54.20" font-size="3.3" text-anchor="middle" font-weight="bold" fill="#222" stroke="#222" stroke-width="0.1">10</text>
<text x="4.90" y="51.10" font-size="2.5" font-weight="bold" fill="#222" stroke="#222" stroke-width="0.08">3</text>
<line x1="11.55" y1="47.7" x2="11.55" y2="48.80" stroke="#555" stroke-width="0.6"/>
<text x="12.75" y="54.20" font-size="3.3" text-anchor="middle" font-weight="bold" fill="#222" stroke="#222" stroke-width="0.1">10</text>
<text x="14.45" y="51.10" font-size="2.5" font-weight="bold" fill="#222" stroke="#222" stroke-width="0.08">4</text>
<line x1="21.10" y1="47.7" x2="21.10" y2="48.80" stroke="#555" stroke-width="0.6"/>
<text x="22.30" y="54.20" font-size="3.3" text-anchor="middle" font-weight="bold" fill="#222" stroke="#222" stroke-width="0.1">10</text>
<text x="24.00" y="51.10" font-size="2.5" font-weight="bold" fill="#222" stroke="#222" stroke-width="0.08">5</text>
<line x1="30.65" y1="47.7" x2="30.65" y2="48.80" stroke="#555" stroke-width="0.6"/>
<text x="31.85" y="54.20" font-size="3.3" text-anchor="middle" font-weight="bold" fill="#222" stroke="#222" stroke-width="0.1">10</text>
<text x="33.55" y="51.10" font-size="2.5" font-weight="bold" fill="#222" stroke="#222" stroke-width="0.08">6</text>
<line x1="40.20" y1="47.7" x2="40.20" y2="48.80" stroke="#555" stroke-width="0.6"/>
<text x="41.40" y="54.20" font-size="3.3" text-anchor="middle" font-weight="bold" fill="#222" stroke="#222" stroke-width="0.1">10</text>
<text x="43.10" y="51.10" font-size="2.5" font-weight="bold" fill="#222" stroke="#222" stroke-width="0.08">7</text>
<path d="M0,47.70 L0.00,47.70 L0.40,47.70 L0.80,47.70 L1.21,47.70 L1.61,47.70 L2.01,47.70 L2.41,47.70 L2.82,47.70 L3.22,47.70 L3.62,47.70 L4.03,47.70 L4.43,47.70 L4.83,47.70 L5.23,47.70 L5.63,47.70 L6.04,47.70 L6.44,47.70 L6.84,47.70 L7.25,47.70 L7.65,47.70 L8.05,47.70 L8.45,47.70 L8.85,47.69 L9.26,47.69 L9.66,47.68 L10.06,47.68 L10.46,47.66 L10.87,47.65 L11.27,47.63 L11.67,47.60 L12.07,47.56 L12.48,47.51 L12.88,47.44 L13.28,47.36 L13.68,47.26 L14.09,47.14 L14.49,46.99 L14.89,46.81 L15.29,46.60 L15.70,46.34 L16.10,46.01 L16.50,45.56 L16.90,44.87 L17.31,43.76 L17.71,41.97 L18.11,39.17 L18.51,35.09 L18.92,29.63 L19.32,23.07 L19.72,16.13 L20.12,9.93 L20.53,5.67 L20.93,4.30 L21.33,5.69 L21.73,9.25 L22.14,14.39 L22.54,20.33 L22.94,26.27 L23.34,31.63 L23.75,36.05 L24.15,39.42 L24.55,41.83 L24.95,43.48 L25.36,44.56 L25.76,45.28 L26.16,45.76 L26.56,46.11 L26.97,46.38 L27.37,46.60 L27.77,46.79 L28.18,46.94 L28.58,47.08 L28.98,47.20 L29.38,47.30 L29.79,47.38 L30.19,47.45 L30.59,47.51 L30.99,47.55 L31.39,47.59 L31.80,47.61 L32.20,47.64 L32.60,47.65 L33.01,47.67 L33.41,47.68 L33.81,47.68 L34.21,47.69 L34.62,47.69 L35.02,47.69 L35.42,47.70 L35.82,47.70 L36.23,47.70 L36.63,47.70 L37.03,47.70 L37.43,47.70 L37.84,47.70 L38.24,47.70 L38.64,47.70 L39.04,47.70 L39.45,47.70 L39.85,47.70 L40.25,47.70 L40.65,47.70 L41.05,47.70 L41.46,47.70 L41.86,47.70 L42.26,47.70 L42.66,47.70 L43.07,47.70 L43.47,47.70 L43.87,47.70 L44.27,47.70 L44.68,47.70 L45.08,47.70 L45.48,47.70 L45.88,47.70 L46.29,47.70 L46.69,47.70 L47.09,47.70 L47.49,47.70 L47.90,47.70 L48.30,47.70 L48.30,47.70 Z" fill="#979797" stroke="#3a3a3a" stroke-width="0.6" stroke-linejoin="round"/>
<line x1="0" y1="29.10" x2="19.40" y2="29.10" stroke="#474747" stroke-width="0.8"/>
<line x1="19.40" y1="28.20" x2="19.40" y2="30.00" stroke="#505050" stroke-width="0.6"/>
<line x1="18.90" y1="31.91" x2="48.3" y2="31.91" stroke="#555" stroke-width="0.9"/>
<line x1="18.90" y1="30.91" x2="18.90" y2="32.91" stroke="#5a5a5a" stroke-width="0.6"/>
<text x="4.4" y="6.9" font-size="4.4" font-weight="bold" fill="#1f2ff5" stroke="#1f2ff5" stroke-width="0.2">(-)</text>
<text x="3.7" y="13.3" font-size="4.6" font-weight="bold" fill="#1f2ff5" stroke="#1f2ff5" stroke-width="0.2">28.9%</text>
<text x="44.90" y="6.9" font-size="4.4" text-anchor="end" font-weight="bold" fill="#1f2ff5" stroke="#1f2ff5" stroke-width="0.2">(+)</text>
<text x="45.30" y="13.3" font-size="4.6" text-anchor="end" font-weight="bold" fill="#1f2ff5" stroke="#1f2ff5" stroke-width="0.2">71.1%</text>
</g>
<g transform="translate(281.20,149.10)">
<rect x="0" y="0" width="48.3" height="47.7" fill="#fff" stroke="#9a9a9a" stroke-width="0.7"/>
<line x1="-1.2" y1="2.30" x2="0" y2="2.30" stroke="#444" stroke-width="0.6"/>
<text x="-1.8" y="3.55" font-size="3.5" text-anchor="end" font-weight="bold" fill="#111" stroke="#111" stroke-width="0.12">500</text>
<line x1="-0.7" y1="4.54" x2="0" y2="4.54" stroke="#777" stroke-width="0.4"/>
<line x1="-0.7" y1="6.78" x2="0" y2="6.78" stroke="#777" stroke-width="0.4"/>
<line x1="-0.7" y1="9.02" x2="0" y2="9.02" stroke="#777" stroke-width="0.4"/>
<line x1="-1.2" y1="11.26" x2="0" y2="11.26" stroke="#444" stroke-width="0.6"/>
<text x="-1.8" y="12.51" font-size="3.5" text-anchor="end" font-weight="bold" fill="#111" stroke="#111" stroke-width="0.12">400</text>
<line x1="-0.7" y1="13.50" x2="0" y2="13.50" stroke="#777" stroke-width="0.4"/>
<line x1="-0.7" y1="15.74" x2="0" y2="15.74" stroke="#777" stroke-width="0.4"/>
<line x1="-0.7" y1="17.98" x2="0" y2="17.98" stroke="#777" stroke-width="0.4"/>
<line x1="-1.2" y1="20.22" x2="0" y2="20.22" stroke="#444" stroke-width="0.6"/>
<text x="-1.8" y="21.47" font-size="3.5" text-anchor="end" font-weight="bold" fill="#111" stroke="#111" stroke-width="0.12">300</text>
<line x1="-0.7" y1="22.46" x2="0" y2="22.46" stroke="#777" stroke-width="0.4"/>
<line x1="-0.7" y1="24.70" x2="0" y2="24.70" stroke="#777" stroke-width="0.4"/>
<line x1="-0.7" y1="26.94" x2="0" y2="26.94" stroke="#777" stroke-width="0.4"/>
<line x1="-1.2" y1="29.18" x2="0" y2="29.18" stroke="#444" stroke-width="0.6"/>
<text x="-1.8" y="30.43" font-size="3.5" text-anchor="end" font-weight="bold" fill="#111" stroke="#111" stroke-width="0.12">200</text>
<line x1="-0.7" y1="31.42" x2="0" y2="31.42" stroke="#777" stroke-width="0.4"/>
<line x1="-0.7" y1="33.66" x2="0" y2="33.66" stroke="#777" stroke-width="0.4"/>
<line x1="-0.7" y1="35.90" x2="0" y2="35.90" stroke="#777" stroke-width="0.4"/>
<line x1="-1.2" y1="38.14" x2="0" y2="38.14" stroke="#444" stroke-width="0.6"/>
<text x="-1.8" y="39.39" font-size="3.5" text-anchor="end" font-weight="bold" fill="#111" stroke="#111" stroke-width="0.12">100</text>
<line x1="-0.7" y1="40.38" x2="0" y2="40.38" stroke="#777" stroke-width="0.4"/>
<line x1="-0.7" y1="42.62" x2="0" y2="42.62" stroke="#777" stroke-width="0.4"/>
<line x1="-0.7" y1="44.86" x2="0" y2="44.86" stroke="#777" stroke-width="0.4"/>
<line x1="-1.2" y1="47.10" x2="0" y2="47.10" stroke="#444" stroke-width="0.6"/>
<text x="-1.8" y="48.35" font-size="3.5" text-anchor="end" font-weight="bold" fill="#111" stroke="#111" stroke-width="0.12">0</text>
<line x1="2.00" y1="47.7" x2="2.00" y2="48.80" stroke="#555" stroke-width="0.6"/>
<text x="3.20" y="54.20" font-size="3.3" text-anchor="middle" font-weight="bold" fill="#222" stroke="#222" stroke-width="0.1">10</text>
<text x="4.90" y="51.10" font-size="2.5" font-weight="bold" fill="#222" stroke="#222" stroke-width="0.08">3</text>
<line x1="11.55" y1="47.7" x2="11.55" y2="48.80" stroke="#555" stroke-width="0.6"/>
<text x="12.75" y="54.20" font-size="3.3" text-anchor="middle" font-weight="bold" fill="#222" stroke="#222" stroke-width="0.1">10</text>
<text x="14.45" y="51.10" font-size="2.5" font-weight="bold" fill="#222" stroke="#222" stroke-width="0.08">4</text>
<line x1="21.10" y1="47.7" x2="21.10" y2="48.80" stroke="#555" stroke-width="0.6"/>
<text x="22.30" y="54.20" font-size="3.3" text-anchor="middle" font-weight="bold" fill="#222" stroke="#222" stroke-width="0.1">10</text>
<text x="24.00" y="51.10" font-size="2.5" font-weight="bold" fill="#222" stroke="#222" stroke-width="0.08">5</text>
<line x1="30.65" y1="47.7" x2="30.65" y2="48.80" stroke="#555" stroke-width="0.6"/>
<text x="31.85" y="54.20" font-size="3.3" text-anchor="middle" font-weight="bold" fill="#222" stroke="#222" stroke-width="0.1">10</text>
<text x="33.55" y="51.10" font-size="2.5" font-weight="bold" fill="#222" stroke="#222" stroke-width="0.08">6</text>
<line x1="40.20" y1="47.7" x2="40.20" y2="48.80" stroke="#555" stroke-width="0.6"/>
<text x="41.40" y="54.20" font-size="3.3" text-anchor="middle" font-weight="bold" fill="#222" stroke="#222" stroke-width="0.1">10</text>
<text x="43.10" y="51.10" font-size="2.5" font-weight="bold" fill="#222" stroke="#222" stroke-width="0.08">7</text>
<path d="M0,47.70 L0.00,47.69 L0.40,47.69 L0.80,47.68 L1.21,47.68 L1.61,47.68 L2.01,47.68 L2.41,47.67 L2.82,47.67 L3.22,47.67 L3.62,47.67 L4.03,47.66 L4.43,47.66 L4.83,47.65 L5.23,47.65 L5.63,47.64 L6.04,47.64 L6.44,47.63 L6.84,47.63 L7.25,47.62 L7.65,47.61 L8.05,47.60 L8.45,47.59 L8.85,47.57 L9.26,47.55 L9.66,47.53 L10.06,47.50 L10.46,47.46 L10.87,47.42 L11.27,47.37 L11.67,47.30 L12.07,47.23 L12.48,47.14 L12.88,47.04 L13.28,46.93 L13.68,46.80 L14.09,46.66 L14.49,46.52 L14.89,46.36 L15.29,46.21 L15.70,46.04 L16.10,45.88 L16.50,45.73 L16.90,45.57 L17.31,45.43 L17.71,45.29 L18.11,45.16 L18.51,45.03 L18.92,44.89 L19.32,44.76 L19.72,44.59 L20.12,44.38 L20.53,44.05 L20.93,43.52 L21.33,42.61 L21.73,41.13 L22.14,38.80 L22.54,35.39 L22.94,30.80 L23.34,25.14 L23.75,18.88 L24.15,12.80 L24.55,7.87 L24.95,4.98 L25.36,4.68 L25.76,6.57 L26.16,10.25 L26.56,15.20 L26.97,20.75 L27.37,26.28 L27.77,31.30 L28.18,35.51 L28.58,38.81 L28.98,41.26 L29.38,42.98 L29.79,44.16 L30.19,44.96 L30.59,45.50 L30.99,45.89 L31.39,46.19 L31.80,46.42 L32.20,46.62 L32.60,46.79 L33.01,46.94 L33.41,47.07 L33.81,47.18 L34.21,47.27 L34.62,47.35 L35.02,47.42 L35.42,47.48 L35.82,47.52 L36.23,47.56 L36.63,47.59 L37.03,47.62 L37.43,47.64 L37.84,47.65 L38.24,47.66 L38.64,47.67 L39.04,47.68 L39.45,47.68 L39.85,47.69 L40.25,47.69 L40.65,47.69 L41.05,47.69 L41.46,47.70 L41.86,47.70 L42.26,47.70 L42.66,47.70 L43.07,47.70 L43.47,47.70 L43.87,47.70 L44.27,47.70 L44.68,47.70 L45.08,47.70 L45.48,47.70 L45.88,47.70 L46.29,47.70 L46.69,47.70 L47.09,47.70 L47.49,47.70 L47.90,47.70 L48.30,47.70 L48.30,47.70 Z" fill="#979797" stroke="#3a3a3a" stroke-width="0.6" stroke-linejoin="round"/>
<line x1="0" y1="29.10" x2="23.00" y2="29.10" stroke="#474747" stroke-width="0.8"/>
<line x1="23.00" y1="28.20" x2="23.00" y2="30.00" stroke="#505050" stroke-width="0.6"/>
<line x1="22.50" y1="31.29" x2="48.3" y2="31.29" stroke="#555" stroke-width="0.9"/>
<line x1="22.50" y1="30.29" x2="22.50" y2="32.29" stroke="#5a5a5a" stroke-width="0.6"/>
<text x="4.4" y="6.9" font-size="4.4" font-weight="bold" fill="#1f2ff5" stroke="#1f2ff5" stroke-width="0.2">(-)</text>
<text x="3.7" y="13.3" font-size="4.6" font-weight="bold" fill="#1f2ff5" stroke="#1f2ff5" stroke-width="0.2">22.9%</text>
<text x="44.90" y="6.9" font-size="4.4" text-anchor="end" font-weight="bold" fill="#1f2ff5" stroke="#1f2ff5" stroke-width="0.2">(+)</text>
<text x="45.30" y="13.3" font-size="4.6" text-anchor="end" font-weight="bold" fill="#1f2ff5" stroke="#1f2ff5" stroke-width="0.2">77.1%</text>
</g>
<g transform="translate(281.20,206.40)">
<rect x="0" y="0" width="48.3" height="48.1" fill="#fff" stroke="#9a9a9a" stroke-width="0.7"/>
<line x1="-1.2" y1="8.80" x2="0" y2="8.80" stroke="#444" stroke-width="0.6"/>
<text x="-1.8" y="10.05" font-size="3.5" text-anchor="end" font-weight="bold" fill="#111" stroke="#111" stroke-width="0.12">40</text>
<line x1="-0.7" y1="11.22" x2="0" y2="11.22" stroke="#777" stroke-width="0.4"/>
<line x1="-0.7" y1="13.64" x2="0" y2="13.64" stroke="#777" stroke-width="0.4"/>
<line x1="-0.7" y1="16.06" x2="0" y2="16.06" stroke="#777" stroke-width="0.4"/>
<line x1="-1.2" y1="18.48" x2="0" y2="18.48" stroke="#444" stroke-width="0.6"/>
<text x="-1.8" y="19.73" font-size="3.5" text-anchor="end" font-weight="bold" fill="#111" stroke="#111" stroke-width="0.12">30</text>
<line x1="-0.7" y1="20.89" x2="0" y2="20.89" stroke="#777" stroke-width="0.4"/>
<line x1="-0.7" y1="23.31" x2="0" y2="23.31" stroke="#777" stroke-width="0.4"/>
<line x1="-0.7" y1="25.73" x2="0" y2="25.73" stroke="#777" stroke-width="0.4"/>
<line x1="-1.2" y1="28.15" x2="0" y2="28.15" stroke="#444" stroke-width="0.6"/>
<text x="-1.8" y="29.40" font-size="3.5" text-anchor="end" font-weight="bold" fill="#111" stroke="#111" stroke-width="0.12">20</text>
<line x1="-0.7" y1="30.57" x2="0" y2="30.57" stroke="#777" stroke-width="0.4"/>
<line x1="-0.7" y1="32.99" x2="0" y2="32.99" stroke="#777" stroke-width="0.4"/>
<line x1="-0.7" y1="35.41" x2="0" y2="35.41" stroke="#777" stroke-width="0.4"/>
<line x1="-1.2" y1="37.83" x2="0" y2="37.83" stroke="#444" stroke-width="0.6"/>
<text x="-1.8" y="39.08" font-size="3.5" text-anchor="end" font-weight="bold" fill="#111" stroke="#111" stroke-width="0.12">10</text>
<line x1="-0.7" y1="40.24" x2="0" y2="40.24" stroke="#777" stroke-width="0.4"/>
<line x1="-0.7" y1="42.66" x2="0" y2="42.66" stroke="#777" stroke-width="0.4"/>
<line x1="-0.7" y1="45.08" x2="0" y2="45.08" stroke="#777" stroke-width="0.4"/>
<line x1="-1.2" y1="47.50" x2="0" y2="47.50" stroke="#444" stroke-width="0.6"/>
<text x="-1.8" y="48.75" font-size="3.5" text-anchor="end" font-weight="bold" fill="#111" stroke="#111" stroke-width="0.12">0</text>
<line x1="2.10" y1="48.1" x2="2.10" y2="49.20" stroke="#555" stroke-width="0.6"/>
<text x="3.30" y="54.60" font-size="3.3" text-anchor="middle" font-weight="bold" fill="#222" stroke="#222" stroke-width="0.1">10</text>
<text x="5.00" y="51.50" font-size="2.5" font-weight="bold" fill="#222" stroke="#222" stroke-width="0.08">0</text>
<line x1="8.30" y1="48.1" x2="8.30" y2="49.20" stroke="#555" stroke-width="0.6"/>
<text x="9.50" y="54.60" font-size="3.3" text-anchor="middle" font-weight="bold" fill="#222" stroke="#222" stroke-width="0.1">10</text>
<text x="11.20" y="51.50" font-size="2.5" font-weight="bold" fill="#222" stroke="#222" stroke-width="0.08">1</text>
<line x1="16.80" y1="48.1" x2="16.80" y2="49.20" stroke="#555" stroke-width="0.6"/>
<text x="18.00" y="54.60" font-size="3.3" text-anchor="middle" font-weight="bold" fill="#222" stroke="#222" stroke-width="0.1">10</text>
<text x="19.70" y="51.50" font-size="2.5" font-weight="bold" fill="#222" stroke="#222" stroke-width="0.08">2</text>
<line x1="25.40" y1="48.1" x2="25.40" y2="49.20" stroke="#555" stroke-width="0.6"/>
<text x="26.60" y="54.60" font-size="3.3" text-anchor="middle" font-weight="bold" fill="#222" stroke="#222" stroke-width="0.1">10</text>
<text x="28.30" y="51.50" font-size="2.5" font-weight="bold" fill="#222" stroke="#222" stroke-width="0.08">3</text>
<line x1="34.10" y1="48.1" x2="34.10" y2="49.20" stroke="#555" stroke-width="0.6"/>
<text x="35.30" y="54.60" font-size="3.3" text-anchor="middle" font-weight="bold" fill="#222" stroke="#222" stroke-width="0.1">10</text>
<text x="37.00" y="51.50" font-size="2.5" font-weight="bold" fill="#222" stroke="#222" stroke-width="0.08">4</text>
<line x1="42.20" y1="48.1" x2="42.20" y2="49.20" stroke="#555" stroke-width="0.6"/>
<text x="43.40" y="54.60" font-size="3.3" text-anchor="middle" font-weight="bold" fill="#222" stroke="#222" stroke-width="0.1">10</text>
<text x="45.10" y="51.50" font-size="2.5" font-weight="bold" fill="#222" stroke="#222" stroke-width="0.08">5</text>
<path d="M0,48.10 L0.00,48.05 L0.40,48.05 L0.80,48.04 L1.21,48.03 L1.61,48.03 L2.01,48.02 L2.41,48.01 L2.82,47.99 L3.22,47.97 L3.62,47.95 L4.03,47.92 L4.43,47.88 L4.83,47.83 L5.23,47.77 L5.63,47.69 L6.04,47.60 L6.44,47.48 L6.84,47.35 L7.25,47.20 L7.65,47.04 L8.05,46.86 L8.45,46.68 L8.85,46.49 L9.26,46.32 L9.66,46.15 L10.06,45.99 L10.46,45.84 L10.87,45.70 L11.27,45.55 L11.67,45.37 L12.07,45.14 L12.48,44.84 L12.88,44.45 L13.28,43.98 L13.68,43.46 L14.09,42.92 L14.49,42.44 L14.89,42.06 L15.29,41.81 L15.70,41.69 L16.10,41.65 L16.50,41.60 L16.90,41.44 L17.31,41.10 L17.71,40.55 L18.11,39.81 L18.51,38.99 L18.92,38.19 L19.32,37.53 L19.72,37.07 L20.12,36.87 L20.53,36.82 L20.93,36.69 L21.33,36.27 L21.73,35.46 L22.14,34.26 L22.54,32.72 L22.94,30.88 L23.34,28.70 L23.75,26.07 L24.15,22.93 L24.55,19.36 L24.95,15.65 L25.36,12.26 L25.76,9.76 L26.16,8.66 L26.56,9.40 L26.97,12.34 L27.37,17.02 L27.77,22.66 L28.18,28.40 L28.58,33.58 L28.98,37.80 L29.38,40.94 L29.79,43.13 L30.19,44.58 L30.59,45.51 L30.99,46.10 L31.39,46.51 L31.80,46.81 L32.20,47.04 L32.60,47.23 L33.01,47.39 L33.41,47.53 L33.81,47.64 L34.21,47.74 L34.62,47.82 L35.02,47.88 L35.42,47.94 L35.82,47.98 L36.23,48.01 L36.63,48.03 L37.03,48.05 L37.43,48.07 L37.84,48.08 L38.24,48.08 L38.64,48.09 L39.04,48.09 L39.45,48.09 L39.85,48.10 L40.25,48.10 L40.65,48.10 L41.05,48.10 L41.46,48.10 L41.86,48.10 L42.26,48.10 L42.66,48.10 L43.07,48.10 L43.47,48.10 L43.87,48.10 L44.27,48.10 L44.68,48.10 L45.08,48.10 L45.48,48.10 L45.88,48.10 L46.29,48.10 L46.69,48.10 L47.09,48.10 L47.49,48.10 L47.90,48.10 L48.30,48.10 L48.30,48.10 Z" fill="#979797" stroke="#3a3a3a" stroke-width="0.6" stroke-linejoin="round"/>
<line x1="0" y1="28.38" x2="16.30" y2="28.38" stroke="#474747" stroke-width="0.8"/>
<line x1="16.30" y1="27.48" x2="16.30" y2="29.28" stroke="#505050" stroke-width="0.6"/>
<line x1="15.80" y1="30.30" x2="48.3" y2="30.30" stroke="#555" stroke-width="0.9"/>
<line x1="15.80" y1="29.30" x2="15.80" y2="31.30" stroke="#5a5a5a" stroke-width="0.6"/>
<text x="4.4" y="6.9" font-size="4.4" font-weight="bold" fill="#1f2ff5" stroke="#1f2ff5" stroke-width="0.2">(-)</text>
<text x="3.7" y="13.3" font-size="4.6" font-weight="bold" fill="#1f2ff5" stroke="#1f2ff5" stroke-width="0.2">10.2%</text>
<text x="44.90" y="6.9" font-size="4.4" text-anchor="end" font-weight="bold" fill="#1f2ff5" stroke="#1f2ff5" stroke-width="0.2">(+)</text>
<text x="45.30" y="13.3" font-size="4.6" text-anchor="end" font-weight="bold" fill="#1f2ff5" stroke="#1f2ff5" stroke-width="0.2">89.8%</text>
</g>
<text x="364.05" y="29.80" font-size="7.8" text-anchor="middle" font-weight="bold" fill="#000">24 h</text>
<g transform="translate(339.00,33.30)">
<rect x="0" y="0" width="48.3" height="48.2" fill="#fff" stroke="#9a9a9a" stroke-width="0.7"/>
<line x1="-1.2" y1="2.30" x2="0" y2="2.30" stroke="#444" stroke-width="0.6"/>
<text x="-1.8" y="3.55" font-size="3.5" text-anchor="end" font-weight="bold" fill="#111" stroke="#111" stroke-width="0.12">500</text>
<line x1="-0.7" y1="4.56" x2="0" y2="4.56" stroke="#777" stroke-width="0.4"/>
<line x1="-0.7" y1="6.83" x2="0" y2="6.83" stroke="#777" stroke-width="0.4"/>
<line x1="-0.7" y1="9.09" x2="0" y2="9.09" stroke="#777" stroke-width="0.4"/>
<line x1="-1.2" y1="11.36" x2="0" y2="11.36" stroke="#444" stroke-width="0.6"/>
<text x="-1.8" y="12.61" font-size="3.5" text-anchor="end" font-weight="bold" fill="#111" stroke="#111" stroke-width="0.12">400</text>
<line x1="-0.7" y1="13.62" x2="0" y2="13.62" stroke="#777" stroke-width="0.4"/>
<line x1="-0.7" y1="15.89" x2="0" y2="15.89" stroke="#777" stroke-width="0.4"/>
<line x1="-0.7" y1="18.16" x2="0" y2="18.16" stroke="#777" stroke-width="0.4"/>
<line x1="-1.2" y1="20.42" x2="0" y2="20.42" stroke="#444" stroke-width="0.6"/>
<text x="-1.8" y="21.67" font-size="3.5" text-anchor="end" font-weight="bold" fill="#111" stroke="#111" stroke-width="0.12">300</text>
<line x1="-0.7" y1="22.69" x2="0" y2="22.69" stroke="#777" stroke-width="0.4"/>
<line x1="-0.7" y1="24.95" x2="0" y2="24.95" stroke="#777" stroke-width="0.4"/>
<line x1="-0.7" y1="27.22" x2="0" y2="27.22" stroke="#777" stroke-width="0.4"/>
<line x1="-1.2" y1="29.48" x2="0" y2="29.48" stroke="#444" stroke-width="0.6"/>
<text x="-1.8" y="30.73" font-size="3.5" text-anchor="end" font-weight="bold" fill="#111" stroke="#111" stroke-width="0.12">200</text>
<line x1="-0.7" y1="31.75" x2="0" y2="31.75" stroke="#777" stroke-width="0.4"/>
<line x1="-0.7" y1="34.01" x2="0" y2="34.01" stroke="#777" stroke-width="0.4"/>
<line x1="-0.7" y1="36.27" x2="0" y2="36.27" stroke="#777" stroke-width="0.4"/>
<line x1="-1.2" y1="38.54" x2="0" y2="38.54" stroke="#444" stroke-width="0.6"/>
<text x="-1.8" y="39.79" font-size="3.5" text-anchor="end" font-weight="bold" fill="#111" stroke="#111" stroke-width="0.12">100</text>
<line x1="-0.7" y1="40.80" x2="0" y2="40.80" stroke="#777" stroke-width="0.4"/>
<line x1="-0.7" y1="43.07" x2="0" y2="43.07" stroke="#777" stroke-width="0.4"/>
<line x1="-0.7" y1="45.34" x2="0" y2="45.34" stroke="#777" stroke-width="0.4"/>
<line x1="-1.2" y1="47.60" x2="0" y2="47.60" stroke="#444" stroke-width="0.6"/>
<text x="-1.8" y="48.85" font-size="3.5" text-anchor="end" font-weight="bold" fill="#111" stroke="#111" stroke-width="0.12">0</text>
<line x1="2.00" y1="48.2" x2="2.00" y2="49.30" stroke="#555" stroke-width="0.6"/>
<text x="3.20" y="54.70" font-size="3.3" text-anchor="middle" font-weight="bold" fill="#222" stroke="#222" stroke-width="0.1">10</text>
<text x="4.90" y="51.60" font-size="2.5" font-weight="bold" fill="#222" stroke="#222" stroke-width="0.08">3</text>
<line x1="11.55" y1="48.2" x2="11.55" y2="49.30" stroke="#555" stroke-width="0.6"/>
<text x="12.75" y="54.70" font-size="3.3" text-anchor="middle" font-weight="bold" fill="#222" stroke="#222" stroke-width="0.1">10</text>
<text x="14.45" y="51.60" font-size="2.5" font-weight="bold" fill="#222" stroke="#222" stroke-width="0.08">4</text>
<line x1="21.10" y1="48.2" x2="21.10" y2="49.30" stroke="#555" stroke-width="0.6"/>
<text x="22.30" y="54.70" font-size="3.3" text-anchor="middle" font-weight="bold" fill="#222" stroke="#222" stroke-width="0.1">10</text>
<text x="24.00" y="51.60" font-size="2.5" font-weight="bold" fill="#222" stroke="#222" stroke-width="0.08">5</text>
<line x1="30.65" y1="48.2" x2="30.65" y2="49.30" stroke="#555" stroke-width="0.6"/>
<text x="31.85" y="54.70" font-size="3.3" text-anchor="middle" font-weight="bold" fill="#222" stroke="#222" stroke-width="0.1">10</text>
<text x="33.55" y="51.60" font-size="2.5" font-weight="bold" fill="#222" stroke="#222" stroke-width="0.08">6</text>
<line x1="40.20" y1="48.2" x2="40.20" y2="49.30" stroke="#555" stroke-width="0.6"/>
<text x="41.40" y="54.70" font-size="3.3" text-anchor="middle" font-weight="bold" fill="#222" stroke="#222" stroke-width="0.1">10</text>
<text x="43.10" y="51.60" font-size="2.5" font-weight="bold" fill="#222" stroke="#222" stroke-width="0.08">7</text>
<path d="M0,48.20 L0.00,48.20 L0.40,48.20 L0.80,48.20 L1.21,48.20 L1.61,48.20 L2.01,48.19 L2.41,48.19 L2.82,48.19 L3.22,48.18 L3.62,48.18 L4.03,48.17 L4.43,48.17 L4.83,48.16 L5.23,48.14 L5.63,48.13 L6.04,48.11 L6.44,48.10 L6.84,48.07 L7.25,48.05 L7.65,48.02 L8.05,47.98 L8.45,47.93 L8.85,47.87 L9.26,47.77 L9.66,47.63 L10.06,47.41 L10.46,47.09 L10.87,46.63 L11.27,46.02 L11.67,45.27 L12.07,44.42 L12.48,43.55 L12.88,42.77 L13.28,42.19 L13.68,41.90 L14.09,41.90 L14.49,42.04 L14.89,42.29 L15.29,42.63 L15.70,43.04 L16.10,43.48 L16.50,43.93 L16.90,44.35 L17.31,44.71 L17.71,45.01 L18.11,45.22 L18.51,45.32 L18.92,45.30 L19.32,45.12 L19.72,44.67 L20.12,43.79 L20.53,42.25 L20.93,39.72 L21.33,35.91 L21.73,30.66 L22.14,24.19 L22.54,17.13 L22.94,10.56 L23.34,5.74 L23.75,3.71 L24.15,4.52 L24.55,7.40 L24.95,11.89 L25.36,17.37 L25.76,23.16 L26.16,28.67 L26.56,33.48 L26.97,37.38 L27.37,40.36 L27.77,42.51 L28.18,44.00 L28.58,45.01 L28.98,45.69 L29.38,46.16 L29.79,46.51 L30.19,46.78 L30.59,47.01 L30.99,47.19 L31.39,47.36 L31.80,47.50 L32.20,47.62 L32.60,47.73 L33.01,47.82 L33.41,47.89 L33.81,47.96 L34.21,48.01 L34.62,48.05 L35.02,48.08 L35.42,48.11 L35.82,48.13 L36.23,48.15 L36.63,48.16 L37.03,48.17 L37.43,48.18 L37.84,48.19 L38.24,48.19 L38.64,48.19 L39.04,48.19 L39.45,48.20 L39.85,48.20 L40.25,48.20 L40.65,48.20 L41.05,48.20 L41.46,48.20 L41.86,48.20 L42.26,48.20 L42.66,48.20 L43.07,48.20 L43.47,48.20 L43.87,48.20 L44.27,48.20 L44.68,48.20 L45.08,48.20 L45.48,48.20 L45.88,48.20 L46.29,48.20 L46.69,48.20 L47.09,48.20 L47.49,48.20 L47.90,48.20 L48.30,48.20 L48.30,48.20 Z" fill="#979797" stroke="#3a3a3a" stroke-width="0.6" stroke-linejoin="round"/>
<line x1="0" y1="31.19" x2="22.30" y2="31.19" stroke="#474747" stroke-width="0.8"/>
<line x1="22.30" y1="30.29" x2="22.30" y2="32.09" stroke="#505050" stroke-width="0.6"/>
<line x1="21.80" y1="33.40" x2="48.3" y2="33.40" stroke="#555" stroke-width="0.9"/>
<line x1="21.80" y1="32.40" x2="21.80" y2="34.40" stroke="#5a5a5a" stroke-width="0.6"/>
<text x="4.4" y="6.9" font-size="4.4" font-weight="bold" fill="#1f2ff5" stroke="#1f2ff5" stroke-width="0.2">(-)</text>
<text x="3.7" y="13.3" font-size="4.6" font-weight="bold" fill="#1f2ff5" stroke="#1f2ff5" stroke-width="0.2">32.8%</text>
<text x="44.90" y="6.9" font-size="4.4" text-anchor="end" font-weight="bold" fill="#1f2ff5" stroke="#1f2ff5" stroke-width="0.2">(+)</text>
<text x="45.30" y="13.3" font-size="4.6" text-anchor="end" font-weight="bold" fill="#1f2ff5" stroke="#1f2ff5" stroke-width="0.2">67.2%</text>
</g>
<g transform="translate(339.00,91.20)">
<rect x="0" y="0" width="48.3" height="47.7" fill="#fff" stroke="#9a9a9a" stroke-width="0.7"/>
<line x1="-1.2" y1="8.80" x2="0" y2="8.80" stroke="#444" stroke-width="0.6"/>
<text x="-1.8" y="10.05" font-size="3.5" text-anchor="end" font-weight="bold" fill="#111" stroke="#111" stroke-width="0.12">400</text>
<line x1="-0.7" y1="11.19" x2="0" y2="11.19" stroke="#777" stroke-width="0.4"/>
<line x1="-0.7" y1="13.59" x2="0" y2="13.59" stroke="#777" stroke-width="0.4"/>
<line x1="-0.7" y1="15.98" x2="0" y2="15.98" stroke="#777" stroke-width="0.4"/>
<line x1="-1.2" y1="18.38" x2="0" y2="18.38" stroke="#444" stroke-width="0.6"/>
<text x="-1.8" y="19.62" font-size="3.5" text-anchor="end" font-weight="bold" fill="#111" stroke="#111" stroke-width="0.12">300</text>
<line x1="-0.7" y1="20.77" x2="0" y2="20.77" stroke="#777" stroke-width="0.4"/>
<line x1="-0.7" y1="23.16" x2="0" y2="23.16" stroke="#777" stroke-width="0.4"/>
<line x1="-0.7" y1="25.56" x2="0" y2="25.56" stroke="#777" stroke-width="0.4"/>
<line x1="-1.2" y1="27.95" x2="0" y2="27.95" stroke="#444" stroke-width="0.6"/>
<text x="-1.8" y="29.20" font-size="3.5" text-anchor="end" font-weight="bold" fill="#111" stroke="#111" stroke-width="0.12">200</text>
<line x1="-0.7" y1="30.34" x2="0" y2="30.34" stroke="#777" stroke-width="0.4"/>
<line x1="-0.7" y1="32.74" x2="0" y2="32.74" stroke="#777" stroke-width="0.4"/>
<line x1="-0.7" y1="35.13" x2="0" y2="35.13" stroke="#777" stroke-width="0.4"/>
<line x1="-1.2" y1="37.52" x2="0" y2="37.52" stroke="#444" stroke-width="0.6"/>
<text x="-1.8" y="38.77" font-size="3.5" text-anchor="end" font-weight="bold" fill="#111" stroke="#111" stroke-width="0.12">100</text>
<line x1="-0.7" y1="39.92" x2="0" y2="39.92" stroke="#777" stroke-width="0.4"/>
<line x1="-0.7" y1="42.31" x2="0" y2="42.31" stroke="#777" stroke-width="0.4"/>
<line x1="-0.7" y1="44.71" x2="0" y2="44.71" stroke="#777" stroke-width="0.4"/>
<line x1="-1.2" y1="47.10" x2="0" y2="47.10" stroke="#444" stroke-width="0.6"/>
<text x="-1.8" y="48.35" font-size="3.5" text-anchor="end" font-weight="bold" fill="#111" stroke="#111" stroke-width="0.12">0</text>
<line x1="2.00" y1="47.7" x2="2.00" y2="48.80" stroke="#555" stroke-width="0.6"/>
<text x="3.20" y="54.20" font-size="3.3" text-anchor="middle" font-weight="bold" fill="#222" stroke="#222" stroke-width="0.1">10</text>
<text x="4.90" y="51.10" font-size="2.5" font-weight="bold" fill="#222" stroke="#222" stroke-width="0.08">3</text>
<line x1="11.55" y1="47.7" x2="11.55" y2="48.80" stroke="#555" stroke-width="0.6"/>
<text x="12.75" y="54.20" font-size="3.3" text-anchor="middle" font-weight="bold" fill="#222" stroke="#222" stroke-width="0.1">10</text>
<text x="14.45" y="51.10" font-size="2.5" font-weight="bold" fill="#222" stroke="#222" stroke-width="0.08">4</text>
<line x1="21.10" y1="47.7" x2="21.10" y2="48.80" stroke="#555" stroke-width="0.6"/>
<text x="22.30" y="54.20" font-size="3.3" text-anchor="middle" font-weight="bold" fill="#222" stroke="#222" stroke-width="0.1">10</text>
<text x="24.00" y="51.10" font-size="2.5" font-weight="bold" fill="#222" stroke="#222" stroke-width="0.08">5</text>
<line x1="30.65" y1="47.7" x2="30.65" y2="48.80" stroke="#555" stroke-width="0.6"/>
<text x="31.85" y="54.20" font-size="3.3" text-anchor="middle" font-weight="bold" fill="#222" stroke="#222" stroke-width="0.1">10</text>
<text x="33.55" y="51.10" font-size="2.5" font-weight="bold" fill="#222" stroke="#222" stroke-width="0.08">6</text>
<line x1="40.20" y1="47.7" x2="40.20" y2="48.80" stroke="#555" stroke-width="0.6"/>
<text x="41.40" y="54.20" font-size="3.3" text-anchor="middle" font-weight="bold" fill="#222" stroke="#222" stroke-width="0.1">10</text>
<text x="43.10" y="51.10" font-size="2.5" font-weight="bold" fill="#222" stroke="#222" stroke-width="0.08">7</text>
<path d="M0,47.70 L0.00,47.69 L0.40,47.68 L0.80,47.68 L1.21,47.68 L1.61,47.68 L2.01,47.67 L2.41,47.67 L2.82,47.67 L3.22,47.66 L3.62,47.66 L4.03,47.65 L4.43,47.65 L4.83,47.64 L5.23,47.64 L5.63,47.63 L6.04,47.62 L6.44,47.60 L6.84,47.58 L7.25,47.56 L7.65,47.53 L8.05,47.49 L8.45,47.44 L8.85,47.37 L9.26,47.29 L9.66,47.20 L10.06,47.09 L10.46,46.96 L10.87,46.82 L11.27,46.67 L11.67,46.50 L12.07,46.33 L12.48,46.16 L12.88,45.98 L13.28,45.80 L13.68,45.62 L14.09,45.45 L14.49,45.27 L14.89,45.08 L15.29,44.85 L15.70,44.54 L16.10,44.05 L16.50,43.21 L16.90,41.78 L17.31,39.45 L17.71,35.92 L18.11,31.02 L18.51,24.93 L18.92,18.22 L19.32,11.92 L19.72,7.20 L20.12,5.11 L20.53,5.78 L20.93,8.45 L21.33,12.68 L21.73,17.89 L22.14,23.44 L22.54,28.74 L22.94,33.38 L23.34,37.17 L23.75,40.06 L24.15,42.16 L24.55,43.61 L24.95,44.60 L25.36,45.27 L25.76,45.73 L26.16,46.07 L26.56,46.33 L26.97,46.54 L27.37,46.72 L27.77,46.88 L28.18,47.02 L28.58,47.14 L28.98,47.24 L29.38,47.33 L29.79,47.40 L30.19,47.46 L30.59,47.51 L30.99,47.55 L31.39,47.59 L31.80,47.61 L32.20,47.63 L32.60,47.65 L33.01,47.66 L33.41,47.67 L33.81,47.68 L34.21,47.68 L34.62,47.69 L35.02,47.69 L35.42,47.69 L35.82,47.70 L36.23,47.70 L36.63,47.70 L37.03,47.70 L37.43,47.70 L37.84,47.70 L38.24,47.70 L38.64,47.70 L39.04,47.70 L39.45,47.70 L39.85,47.70 L40.25,47.70 L40.65,47.70 L41.05,47.70 L41.46,47.70 L41.86,47.70 L42.26,47.70 L42.66,47.70 L43.07,47.70 L43.47,47.70 L43.87,47.70 L44.27,47.70 L44.68,47.70 L45.08,47.70 L45.48,47.70 L45.88,47.70 L46.29,47.70 L46.69,47.70 L47.09,47.70 L47.49,47.70 L47.90,47.70 L48.30,47.70 L48.30,47.70 Z" fill="#979797" stroke="#3a3a3a" stroke-width="0.6" stroke-linejoin="round"/>
<line x1="0" y1="29.10" x2="18.30" y2="29.10" stroke="#474747" stroke-width="0.8"/>
<line x1="18.30" y1="28.20" x2="18.30" y2="30.00" stroke="#505050" stroke-width="0.6"/>
<line x1="17.80" y1="31.91" x2="48.3" y2="31.91" stroke="#555" stroke-width="0.9"/>
<line x1="17.80" y1="30.91" x2="17.80" y2="32.91" stroke="#5a5a5a" stroke-width="0.6"/>
<text x="4.4" y="6.9" font-size="4.4" font-weight="bold" fill="#1f2ff5" stroke="#1f2ff5" stroke-width="0.2">(-)</text>
<text x="3.7" y="13.3" font-size="4.6" font-weight="bold" fill="#1f2ff5" stroke="#1f2ff5" stroke-width="0.2">36.6%</text>
<text x="44.90" y="6.9" font-size="4.4" text-anchor="end" font-weight="bold" fill="#1f2ff5" stroke="#1f2ff5" stroke-width="0.2">(+)</text>
<text x="45.30" y="13.3" font-size="4.6" text-anchor="end" font-weight="bold" fill="#1f2ff5" stroke="#1f2ff5" stroke-width="0.2">63.4%</text>
</g>
<g transform="translate(339.00,149.10)">
<rect x="0" y="0" width="48.3" height="47.7" fill="#fff" stroke="#9a9a9a" stroke-width="0.7"/>
<line x1="-1.2" y1="8.80" x2="0" y2="8.80" stroke="#444" stroke-width="0.6"/>
<text x="-1.8" y="10.05" font-size="3.5" text-anchor="end" font-weight="bold" fill="#111" stroke="#111" stroke-width="0.12">400</text>
<line x1="-0.7" y1="11.19" x2="0" y2="11.19" stroke="#777" stroke-width="0.4"/>
<line x1="-0.7" y1="13.59" x2="0" y2="13.59" stroke="#777" stroke-width="0.4"/>
<line x1="-0.7" y1="15.98" x2="0" y2="15.98" stroke="#777" stroke-width="0.4"/>
<line x1="-1.2" y1="18.38" x2="0" y2="18.38" stroke="#444" stroke-width="0.6"/>
<text x="-1.8" y="19.62" font-size="3.5" text-anchor="end" font-weight="bold" fill="#111" stroke="#111" stroke-width="0.12">300</text>
<line x1="-0.7" y1="20.77" x2="0" y2="20.77" stroke="#777" stroke-width="0.4"/>
<line x1="-0.7" y1="23.16" x2="0" y2="23.16" stroke="#777" stroke-width="0.4"/>
<line x1="-0.7" y1="25.56" x2="0" y2="25.56" stroke="#777" stroke-width="0.4"/>
<line x1="-1.2" y1="27.95" x2="0" y2="27.95" stroke="#444" stroke-width="0.6"/>
<text x="-1.8" y="29.20" font-size="3.5" text-anchor="end" font-weight="bold" fill="#111" stroke="#111" stroke-width="0.12">200</text>
<line x1="-0.7" y1="30.34" x2="0" y2="30.34" stroke="#777" stroke-width="0.4"/>
<line x1="-0.7" y1="32.74" x2="0" y2="32.74" stroke="#777" stroke-width="0.4"/>
<line x1="-0.7" y1="35.13" x2="0" y2="35.13" stroke="#777" stroke-width="0.4"/>
<line x1="-1.2" y1="37.52" x2="0" y2="37.52" stroke="#444" stroke-width="0.6"/>
<text x="-1.8" y="38.77" font-size="3.5" text-anchor="end" font-weight="bold" fill="#111" stroke="#111" stroke-width="0.12">100</text>
<line x1="-0.7" y1="39.92" x2="0" y2="39.92" stroke="#777" stroke-width="0.4"/>
<line x1="-0.7" y1="42.31" x2="0" y2="42.31" stroke="#777" stroke-width="0.4"/>
<line x1="-0.7" y1="44.71" x2="0" y2="44.71" stroke="#777" stroke-width="0.4"/>
<line x1="-1.2" y1="47.10" x2="0" y2="47.10" stroke="#444" stroke-width="0.6"/>
<text x="-1.8" y="48.35" font-size="3.5" text-anchor="end" font-weight="bold" fill="#111" stroke="#111" stroke-width="0.12">0</text>
<line x1="2.00" y1="47.7" x2="2.00" y2="48.80" stroke="#555" stroke-width="0.6"/>
<text x="3.20" y="54.20" font-size="3.3" text-anchor="middle" font-weight="bold" fill="#222" stroke="#222" stroke-width="0.1">10</text>
<text x="4.90" y="51.10" font-size="2.5" font-weight="bold" fill="#222" stroke="#222" stroke-width="0.08">3</text>
<line x1="11.55" y1="47.7" x2="11.55" y2="48.80" stroke="#555" stroke-width="0.6"/>
<text x="12.75" y="54.20" font-size="3.3" text-anchor="middle" font-weight="bold" fill="#222" stroke="#222" stroke-width="0.1">10</text>
<text x="14.45" y="51.10" font-size="2.5" font-weight="bold" fill="#222" stroke="#222" stroke-width="0.08">4</text>
<line x1="21.10" y1="47.7" x2="21.10" y2="48.80" stroke="#555" stroke-width="0.6"/>
<text x="22.30" y="54.20" font-size="3.3" text-anchor="middle" font-weight="bold" fill="#222" stroke="#222" stroke-width="0.1">10</text>
<text x="24.00" y="51.10" font-size="2.5" font-weight="bold" fill="#222" stroke="#222" stroke-width="0.08">5</text>
<line x1="30.65" y1="47.7" x2="30.65" y2="48.80" stroke="#555" stroke-width="0.6"/>
<text x="31.85" y="54.20" font-size="3.3" text-anchor="middle" font-weight="bold" fill="#222" stroke="#222" stroke-width="0.1">10</text>
<text x="33.55" y="51.10" font-size="2.5" font-weight="bold" fill="#222" stroke="#222" stroke-width="0.08">6</text>
<line x1="40.20" y1="47.7" x2="40.20" y2="48.80" stroke="#555" stroke-width="0.6"/>
<text x="41.40" y="54.20" font-size="3.3" text-anchor="middle" font-weight="bold" fill="#222" stroke="#222" stroke-width="0.1">10</text>
<text x="43.10" y="51.10" font-size="2.5" font-weight="bold" fill="#222" stroke="#222" stroke-width="0.08">7</text>
<path d="M0,47.70 L0.00,47.70 L0.40,47.69 L0.80,47.69 L1.21,47.69 L1.61,47.69 L2.01,47.69 L2.41,47.69 L2.82,47.69 L3.22,47.68 L3.62,47.68 L4.03,47.68 L4.43,47.68 L4.83,47.67 L5.23,47.67 L5.63,47.66 L6.04,47.66 L6.44,47.66 L6.84,47.65 L7.25,47.64 L7.65,47.64 L8.05,47.63 L8.45,47.62 L8.85,47.61 L9.26,47.60 L9.66,47.58 L10.06,47.56 L10.46,47.54 L10.87,47.50 L11.27,47.46 L11.67,47.40 L12.07,47.33 L12.48,47.25 L12.88,47.14 L13.28,47.02 L13.68,46.88 L14.09,46.73 L14.49,46.56 L14.89,46.38 L15.29,46.20 L15.70,46.02 L16.10,45.85 L16.50,45.69 L16.90,45.55 L17.31,45.43 L17.71,45.33 L18.11,45.25 L18.51,45.18 L18.92,45.11 L19.32,45.05 L19.72,44.96 L20.12,44.82 L20.53,44.59 L20.93,44.19 L21.33,43.47 L21.73,42.26 L22.14,40.31 L22.54,37.33 L22.94,33.16 L23.34,27.78 L23.75,21.49 L24.15,14.96 L24.55,9.10 L24.95,4.93 L25.36,3.24 L25.76,4.11 L26.16,7.03 L26.56,11.55 L26.97,17.04 L27.37,22.83 L27.77,28.32 L28.18,33.11 L28.58,36.99 L28.98,39.93 L29.38,42.06 L29.79,43.54 L30.19,44.53 L30.59,45.21 L30.99,45.68 L31.39,46.02 L31.80,46.29 L32.20,46.51 L32.60,46.70 L33.01,46.86 L33.41,47.00 L33.81,47.12 L34.21,47.23 L34.62,47.32 L35.02,47.39 L35.42,47.46 L35.82,47.51 L36.23,47.55 L36.63,47.58 L37.03,47.61 L37.43,47.63 L37.84,47.65 L38.24,47.66 L38.64,47.67 L39.04,47.68 L39.45,47.69 L39.85,47.69 L40.25,47.69 L40.65,47.69 L41.05,47.70 L41.46,47.70 L41.86,47.70 L42.26,47.70 L42.66,47.70 L43.07,47.70 L43.47,47.70 L43.87,47.70 L44.27,47.70 L44.68,47.70 L45.08,47.70 L45.48,47.70 L45.88,47.70 L46.29,47.70 L46.69,47.70 L47.09,47.70 L47.49,47.70 L47.90,47.70 L48.30,47.70 L48.30,47.70 Z" fill="#979797" stroke="#3a3a3a" stroke-width="0.6" stroke-linejoin="round"/>
<line x1="0" y1="29.10" x2="23.20" y2="29.10" stroke="#474747" stroke-width="0.8"/>
<line x1="23.20" y1="28.20" x2="23.20" y2="30.00" stroke="#505050" stroke-width="0.6"/>
<line x1="22.70" y1="31.29" x2="48.3" y2="31.29" stroke="#555" stroke-width="0.9"/>
<line x1="22.70" y1="30.29" x2="22.70" y2="32.29" stroke="#5a5a5a" stroke-width="0.6"/>
<text x="4.4" y="6.9" font-size="4.4" font-weight="bold" fill="#1f2ff5" stroke="#1f2ff5" stroke-width="0.2">(-)</text>
<text x="3.7" y="13.3" font-size="4.6" font-weight="bold" fill="#1f2ff5" stroke="#1f2ff5" stroke-width="0.2">20.2%</text>
<text x="44.90" y="6.9" font-size="4.4" text-anchor="end" font-weight="bold" fill="#1f2ff5" stroke="#1f2ff5" stroke-width="0.2">(+)</text>
<text x="45.30" y="13.3" font-size="4.6" text-anchor="end" font-weight="bold" fill="#1f2ff5" stroke="#1f2ff5" stroke-width="0.2">79.8%</text>
</g>
<g transform="translate(339.00,206.40)">
<rect x="0" y="0" width="48.3" height="48.1" fill="#fff" stroke="#9a9a9a" stroke-width="0.7"/>
<line x1="-1.2" y1="12.00" x2="0" y2="12.00" stroke="#444" stroke-width="0.6"/>
<text x="-1.8" y="13.25" font-size="3.5" text-anchor="end" font-weight="bold" fill="#111" stroke="#111" stroke-width="0.12">30</text>
<line x1="-0.7" y1="14.96" x2="0" y2="14.96" stroke="#777" stroke-width="0.4"/>
<line x1="-0.7" y1="17.92" x2="0" y2="17.92" stroke="#777" stroke-width="0.4"/>
<line x1="-0.7" y1="20.88" x2="0" y2="20.88" stroke="#777" stroke-width="0.4"/>
<line x1="-1.2" y1="23.83" x2="0" y2="23.83" stroke="#444" stroke-width="0.6"/>
<text x="-1.8" y="25.08" font-size="3.5" text-anchor="end" font-weight="bold" fill="#111" stroke="#111" stroke-width="0.12">20</text>
<line x1="-0.7" y1="26.79" x2="0" y2="26.79" stroke="#777" stroke-width="0.4"/>
<line x1="-0.7" y1="29.75" x2="0" y2="29.75" stroke="#777" stroke-width="0.4"/>
<line x1="-0.7" y1="32.71" x2="0" y2="32.71" stroke="#777" stroke-width="0.4"/>
<line x1="-1.2" y1="35.67" x2="0" y2="35.67" stroke="#444" stroke-width="0.6"/>
<text x="-1.8" y="36.92" font-size="3.5" text-anchor="end" font-weight="bold" fill="#111" stroke="#111" stroke-width="0.12">10</text>
<line x1="-0.7" y1="38.63" x2="0" y2="38.63" stroke="#777" stroke-width="0.4"/>
<line x1="-0.7" y1="41.58" x2="0" y2="41.58" stroke="#777" stroke-width="0.4"/>
<line x1="-0.7" y1="44.54" x2="0" y2="44.54" stroke="#777" stroke-width="0.4"/>
<line x1="-1.2" y1="47.50" x2="0" y2="47.50" stroke="#444" stroke-width="0.6"/>
<text x="-1.8" y="48.75" font-size="3.5" text-anchor="end" font-weight="bold" fill="#111" stroke="#111" stroke-width="0.12">0</text>
<line x1="2.10" y1="48.1" x2="2.10" y2="49.20" stroke="#555" stroke-width="0.6"/>
<text x="3.30" y="54.60" font-size="3.3" text-anchor="middle" font-weight="bold" fill="#222" stroke="#222" stroke-width="0.1">10</text>
<text x="5.00" y="51.50" font-size="2.5" font-weight="bold" fill="#222" stroke="#222" stroke-width="0.08">0</text>
<line x1="8.30" y1="48.1" x2="8.30" y2="49.20" stroke="#555" stroke-width="0.6"/>
<text x="9.50" y="54.60" font-size="3.3" text-anchor="middle" font-weight="bold" fill="#222" stroke="#222" stroke-width="0.1">10</text>
<text x="11.20" y="51.50" font-size="2.5" font-weight="bold" fill="#222" stroke="#222" stroke-width="0.08">1</text>
<line x1="16.80" y1="48.1" x2="16.80" y2="49.20" stroke="#555" stroke-width="0.6"/>
<text x="18.00" y="54.60" font-size="3.3" text-anchor="middle" font-weight="bold" fill="#222" stroke="#222" stroke-width="0.1">10</text>
<text x="19.70" y="51.50" font-size="2.5" font-weight="bold" fill="#222" stroke="#222" stroke-width="0.08">2</text>
<line x1="25.40" y1="48.1" x2="25.40" y2="49.20" stroke="#555" stroke-width="0.6"/>
<text x="26.60" y="54.60" font-size="3.3" text-anchor="middle" font-weight="bold" fill="#222" stroke="#222" stroke-width="0.1">10</text>
<text x="28.30" y="51.50" font-size="2.5" font-weight="bold" fill="#222" stroke="#222" stroke-width="0.08">3</text>
<line x1="34.10" y1="48.1" x2="34.10" y2="49.20" stroke="#555" stroke-width="0.6"/>
<text x="35.30" y="54.60" font-size="3.3" text-anchor="middle" font-weight="bold" fill="#222" stroke="#222" stroke-width="0.1">10</text>
<text x="37.00" y="51.50" font-size="2.5" font-weight="bold" fill="#222" stroke="#222" stroke-width="0.08">4</text>
<line x1="42.20" y1="48.1" x2="42.20" y2="49.20" stroke="#555" stroke-width="0.6"/>
<text x="43.40" y="54.60" font-size="3.3" text-anchor="middle" font-weight="bold" fill="#222" stroke="#222" stroke-width="0.1">10</text>
<text x="45.10" y="51.50" font-size="2.5" font-weight="bold" fill="#222" stroke="#222" stroke-width="0.08">5</text>
<path d="M0,48.10 L0.00,48.08 L0.40,48.08 L0.80,48.08 L1.21,48.07 L1.61,48.07 L2.01,48.06 L2.41,48.05 L2.82,48.05 L3.22,48.04 L3.62,48.02 L4.03,48.01 L4.43,47.99 L4.83,47.97 L5.23,47.95 L5.63,47.91 L6.04,47.87 L6.44,47.81 L6.84,47.74 L7.25,47.65 L7.65,47.54 L8.05,47.40 L8.45,47.23 L8.85,47.03 L9.26,46.81 L9.66,46.55 L10.06,46.27 L10.46,45.95 L10.87,45.60 L11.27,45.21 L11.67,44.78 L12.07,44.30 L12.48,43.78 L12.88,43.23 L13.28,42.68 L13.68,42.13 L14.09,41.61 L14.49,41.12 L14.89,40.63 L15.29,40.13 L15.70,39.58 L16.10,38.96 L16.50,38.26 L16.90,37.52 L17.31,36.80 L17.71,36.15 L18.11,35.60 L18.51,35.17 L18.92,34.86 L19.32,34.60 L19.72,34.29 L20.12,33.89 L20.53,33.41 L20.93,32.85 L21.33,32.24 L21.73,31.56 L22.14,30.71 L22.54,29.46 L22.94,27.63 L23.34,25.13 L23.75,22.08 L24.15,18.74 L24.55,15.53 L24.95,12.92 L25.36,11.31 L25.76,10.98 L26.16,12.26 L26.56,15.12 L26.97,19.17 L27.37,23.86 L27.77,28.65 L28.18,33.09 L28.58,36.89 L28.98,39.91 L29.38,42.17 L29.79,43.79 L30.19,44.90 L30.59,45.65 L30.99,46.16 L31.39,46.52 L31.80,46.78 L32.20,47.00 L32.60,47.17 L33.01,47.32 L33.41,47.45 L33.81,47.56 L34.21,47.65 L34.62,47.74 L35.02,47.81 L35.42,47.87 L35.82,47.91 L36.23,47.95 L36.63,47.99 L37.03,48.01 L37.43,48.03 L37.84,48.05 L38.24,48.06 L38.64,48.07 L39.04,48.08 L39.45,48.08 L39.85,48.09 L40.25,48.09 L40.65,48.09 L41.05,48.10 L41.46,48.10 L41.86,48.10 L42.26,48.10 L42.66,48.10 L43.07,48.10 L43.47,48.10 L43.87,48.10 L44.27,48.10 L44.68,48.10 L45.08,48.10 L45.48,48.10 L45.88,48.10 L46.29,48.10 L46.69,48.10 L47.09,48.10 L47.49,48.10 L47.90,48.10 L48.30,48.10 L48.30,48.10 Z" fill="#979797" stroke="#3a3a3a" stroke-width="0.6" stroke-linejoin="round"/>
<line x1="0" y1="28.38" x2="17.40" y2="28.38" stroke="#474747" stroke-width="0.8"/>
<line x1="17.40" y1="27.48" x2="17.40" y2="29.28" stroke="#505050" stroke-width="0.6"/>
<line x1="16.90" y1="30.30" x2="48.3" y2="30.30" stroke="#555" stroke-width="0.9"/>
<line x1="16.90" y1="29.30" x2="16.90" y2="31.30" stroke="#5a5a5a" stroke-width="0.6"/>
<text x="4.4" y="6.9" font-size="4.4" font-weight="bold" fill="#1f2ff5" stroke="#1f2ff5" stroke-width="0.2">(-)</text>
<text x="3.7" y="13.3" font-size="4.6" font-weight="bold" fill="#1f2ff5" stroke="#1f2ff5" stroke-width="0.2">12.3%</text>
<text x="44.90" y="6.9" font-size="4.4" text-anchor="end" font-weight="bold" fill="#1f2ff5" stroke="#1f2ff5" stroke-width="0.2">(+)</text>
<text x="45.30" y="13.3" font-size="4.6" text-anchor="end" font-weight="bold" fill="#1f2ff5" stroke="#1f2ff5" stroke-width="0.2">87.7%</text>
</g>
<text x="394.90" y="57.40" font-size="6.0" text-anchor="middle" font-weight="bold" fill="#000" transform="rotate(-90 394.90 57.40)">HSC-3</text>
<text x="394.90" y="115.05" font-size="6.0" text-anchor="middle" font-weight="bold" fill="#000" transform="rotate(-90 394.90 115.05)">Ca9-22</text>
<text x="394.90" y="172.95" font-size="6.0" text-anchor="middle" font-weight="bold" fill="#000" transform="rotate(-90 394.90 172.95)">OC-2</text>
<text x="394.90" y="230.45" font-size="6.0" text-anchor="middle" font-weight="bold" fill="#000" transform="rotate(-90 394.90 230.45)">HGF-1</text>
<text x="210.30" y="144.80" font-size="7.6" text-anchor="middle" font-weight="bold" fill="#000" transform="rotate(-90 210.30 144.80)">Count</text>
<text x="305.85" y="270.40" font-size="7.7" text-anchor="middle" font-weight="bold" fill="#000">MitoMP intensity</text>
<text x="447.45" y="29.80" font-size="7.8" text-anchor="middle" font-weight="bold" fill="#000">Control</text>
<g transform="translate(422.40,33.30)">
<rect x="0" y="0" width="48.3" height="48.2" fill="#fff" stroke="#9a9a9a" stroke-width="0.7"/>
<line x1="-1.2" y1="6.90" x2="0" y2="6.90" stroke="#444" stroke-width="0.6"/>
<text x="-1.8" y="8.15" font-size="3.5" text-anchor="end" font-weight="bold" fill="#111" stroke="#111" stroke-width="0.12">200</text>
<line x1="-0.7" y1="9.44" x2="0" y2="9.44" stroke="#777" stroke-width="0.4"/>
<line x1="-0.7" y1="11.99" x2="0" y2="11.99" stroke="#777" stroke-width="0.4"/>
<line x1="-0.7" y1="14.53" x2="0" y2="14.53" stroke="#777" stroke-width="0.4"/>
<line x1="-1.2" y1="17.08" x2="0" y2="17.08" stroke="#444" stroke-width="0.6"/>
<text x="-1.8" y="18.33" font-size="3.5" text-anchor="end" font-weight="bold" fill="#111" stroke="#111" stroke-width="0.12">150</text>
<line x1="-0.7" y1="19.62" x2="0" y2="19.62" stroke="#777" stroke-width="0.4"/>
<line x1="-0.7" y1="22.16" x2="0" y2="22.16" stroke="#777" stroke-width="0.4"/>
<line x1="-0.7" y1="24.71" x2="0" y2="24.71" stroke="#777" stroke-width="0.4"/>
<line x1="-1.2" y1="27.25" x2="0" y2="27.25" stroke="#444" stroke-width="0.6"/>
<text x="-1.8" y="28.50" font-size="3.5" text-anchor="end" font-weight="bold" fill="#111" stroke="#111" stroke-width="0.12">100</text>
<line x1="-0.7" y1="29.79" x2="0" y2="29.79" stroke="#777" stroke-width="0.4"/>
<line x1="-0.7" y1="32.34" x2="0" y2="32.34" stroke="#777" stroke-width="0.4"/>
<line x1="-0.7" y1="34.88" x2="0" y2="34.88" stroke="#777" stroke-width="0.4"/>
<line x1="-1.2" y1="37.43" x2="0" y2="37.43" stroke="#444" stroke-width="0.6"/>
<text x="-1.8" y="38.68" font-size="3.5" text-anchor="end" font-weight="bold" fill="#111" stroke="#111" stroke-width="0.12">50</text>
<line x1="-0.7" y1="39.97" x2="0" y2="39.97" stroke="#777" stroke-width="0.4"/>
<line x1="-0.7" y1="42.51" x2="0" y2="42.51" stroke="#777" stroke-width="0.4"/>
<line x1="-0.7" y1="45.06" x2="0" y2="45.06" stroke="#777" stroke-width="0.4"/>
<line x1="-1.2" y1="47.60" x2="0" y2="47.60" stroke="#444" stroke-width="0.6"/>
<text x="-1.8" y="48.85" font-size="3.5" text-anchor="end" font-weight="bold" fill="#111" stroke="#111" stroke-width="0.12">0</text>
<line x1="1.40" y1="48.2" x2="1.40" y2="49.30" stroke="#555" stroke-width="0.6"/>
<text x="2.60" y="54.70" font-size="3.3" text-anchor="middle" font-weight="bold" fill="#222" stroke="#222" stroke-width="0.1">10</text>
<text x="4.30" y="51.60" font-size="2.5" font-weight="bold" fill="#222" stroke="#222" stroke-width="0.08">0</text>
<line x1="8.80" y1="48.2" x2="8.80" y2="49.30" stroke="#555" stroke-width="0.6"/>
<text x="10.00" y="54.70" font-size="3.3" text-anchor="middle" font-weight="bold" fill="#222" stroke="#222" stroke-width="0.1">10</text>
<text x="11.70" y="51.60" font-size="2.5" font-weight="bold" fill="#222" stroke="#222" stroke-width="0.08">1</text>
<line x1="17.70" y1="48.2" x2="17.70" y2="49.30" stroke="#555" stroke-width="0.6"/>
<text x="18.90" y="54.70" font-size="3.3" text-anchor="middle" font-weight="bold" fill="#222" stroke="#222" stroke-width="0.1">10</text>
<text x="20.60" y="51.60" font-size="2.5" font-weight="bold" fill="#222" stroke="#222" stroke-width="0.08">2</text>
<line x1="26.60" y1="48.2" x2="26.60" y2="49.30" stroke="#555" stroke-width="0.6"/>
<text x="27.80" y="54.70" font-size="3.3" text-anchor="middle" font-weight="bold" fill="#222" stroke="#222" stroke-width="0.1">10</text>
<text x="29.50" y="51.60" font-size="2.5" font-weight="bold" fill="#222" stroke="#222" stroke-width="0.08">3</text>
<line x1="35.20" y1="48.2" x2="35.20" y2="49.30" stroke="#555" stroke-width="0.6"/>
<text x="36.40" y="54.70" font-size="3.3" text-anchor="middle" font-weight="bold" fill="#222" stroke="#222" stroke-width="0.1">10</text>
<text x="38.10" y="51.60" font-size="2.5" font-weight="bold" fill="#222" stroke="#222" stroke-width="0.08">4</text>
<line x1="43.60" y1="48.2" x2="43.60" y2="49.30" stroke="#555" stroke-width="0.6"/>
<text x="44.80" y="54.70" font-size="3.3" text-anchor="middle" font-weight="bold" fill="#222" stroke="#222" stroke-width="0.1">10</text>
<text x="46.50" y="51.60" font-size="2.5" font-weight="bold" fill="#222" stroke="#222" stroke-width="0.08">5</text>
<path d="M0,48.20 L0.00,48.20 L0.40,48.20 L0.80,48.20 L1.21,48.20 L1.61,48.20 L2.01,48.20 L2.41,48.20 L2.82,48.20 L3.22,48.20 L3.62,48.20 L4.03,48.20 L4.43,48.20 L4.83,48.20 L5.23,48.20 L5.63,48.20 L6.04,48.20 L6.44,48.20 L6.84,48.20 L7.25,48.20 L7.65,48.20 L8.05,48.20 L8.45,48.20 L8.85,48.20 L9.26,48.20 L9.66,48.20 L10.06,48.20 L10.46,48.20 L10.87,48.20 L11.27,48.20 L11.67,48.20 L12.07,48.20 L12.48,48.20 L12.88,48.20 L13.28,48.20 L13.68,48.19 L14.09,48.19 L14.49,48.19 L14.89,48.18 L15.29,48.18 L15.70,48.17 L16.10,48.15 L16.50,48.13 L16.90,48.11 L17.31,48.08 L17.71,48.04 L18.11,47.99 L18.51,47.92 L18.92,47.84 L19.32,47.74 L19.72,47.63 L20.12,47.49 L20.53,47.32 L20.93,47.13 L21.33,46.90 L21.73,46.61 L22.14,46.23 L22.54,45.69 L22.94,44.85 L23.34,43.54 L23.75,41.51 L24.15,38.51 L24.55,34.37 L24.95,29.07 L25.36,22.93 L25.76,16.57 L26.16,10.91 L26.56,6.90 L26.97,5.31 L27.37,6.32 L27.77,9.54 L28.18,14.42 L28.58,20.22 L28.98,26.14 L29.38,31.55 L29.79,36.07 L30.19,39.56 L30.59,42.09 L30.99,43.82 L31.39,44.96 L31.80,45.72 L32.20,46.22 L32.60,46.58 L33.01,46.86 L33.41,47.08 L33.81,47.27 L34.21,47.43 L34.62,47.57 L35.02,47.69 L35.42,47.79 L35.82,47.87 L36.23,47.94 L36.63,48.00 L37.03,48.05 L37.43,48.08 L37.84,48.11 L38.24,48.13 L38.64,48.15 L39.04,48.16 L39.45,48.17 L39.85,48.18 L40.25,48.19 L40.65,48.19 L41.05,48.19 L41.46,48.20 L41.86,48.20 L42.26,48.20 L42.66,48.20 L43.07,48.20 L43.47,48.20 L43.87,48.20 L44.27,48.20 L44.68,48.20 L45.08,48.20 L45.48,48.20 L45.88,48.20 L46.29,48.20 L46.69,48.20 L47.09,48.20 L47.49,48.20 L47.90,48.20 L48.30,48.20 L48.30,48.20 Z" fill="#979797" stroke="#3a3a3a" stroke-width="0.6" stroke-linejoin="round"/>
<line x1="0" y1="29.88" x2="23.60" y2="29.88" stroke="#474747" stroke-width="0.8"/>
<line x1="23.60" y1="28.98" x2="23.60" y2="30.78" stroke="#505050" stroke-width="0.6"/>
<line x1="23.10" y1="32.29" x2="48.3" y2="32.29" stroke="#555" stroke-width="0.9"/>
<line x1="23.10" y1="31.29" x2="23.10" y2="33.29" stroke="#5a5a5a" stroke-width="0.6"/>
<text x="4.4" y="6.9" font-size="4.4" font-weight="bold" fill="#1f2ff5" stroke="#1f2ff5" stroke-width="0.2">(-)</text>
<text x="3.7" y="13.3" font-size="4.6" font-weight="bold" fill="#1f2ff5" stroke="#1f2ff5" stroke-width="0.2">5.00%</text>
<text x="44.90" y="6.9" font-size="4.4" text-anchor="end" font-weight="bold" fill="#1f2ff5" stroke="#1f2ff5" stroke-width="0.2">(+)</text>
<text x="45.30" y="13.3" font-size="4.6" text-anchor="end" font-weight="bold" fill="#1f2ff5" stroke="#1f2ff5" stroke-width="0.2">95.0%</text>
</g>
<g transform="translate(422.40,91.20)">
<rect x="0" y="0" width="48.3" height="47.7" fill="#fff" stroke="#9a9a9a" stroke-width="0.7"/>
<line x1="-1.2" y1="1.60" x2="0" y2="1.60" stroke="#444" stroke-width="0.6"/>
<text x="-1.8" y="2.85" font-size="3.5" text-anchor="end" font-weight="bold" fill="#111" stroke="#111" stroke-width="0.12">250</text>
<line x1="-0.7" y1="3.88" x2="0" y2="3.88" stroke="#777" stroke-width="0.4"/>
<line x1="-0.7" y1="6.15" x2="0" y2="6.15" stroke="#777" stroke-width="0.4"/>
<line x1="-0.7" y1="8.42" x2="0" y2="8.42" stroke="#777" stroke-width="0.4"/>
<line x1="-1.2" y1="10.70" x2="0" y2="10.70" stroke="#444" stroke-width="0.6"/>
<text x="-1.8" y="11.95" font-size="3.5" text-anchor="end" font-weight="bold" fill="#111" stroke="#111" stroke-width="0.12">200</text>
<line x1="-0.7" y1="12.97" x2="0" y2="12.97" stroke="#777" stroke-width="0.4"/>
<line x1="-0.7" y1="15.25" x2="0" y2="15.25" stroke="#777" stroke-width="0.4"/>
<line x1="-0.7" y1="17.52" x2="0" y2="17.52" stroke="#777" stroke-width="0.4"/>
<line x1="-1.2" y1="19.80" x2="0" y2="19.80" stroke="#444" stroke-width="0.6"/>
<text x="-1.8" y="21.05" font-size="3.5" text-anchor="end" font-weight="bold" fill="#111" stroke="#111" stroke-width="0.12">150</text>
<line x1="-0.7" y1="22.07" x2="0" y2="22.07" stroke="#777" stroke-width="0.4"/>
<line x1="-0.7" y1="24.35" x2="0" y2="24.35" stroke="#777" stroke-width="0.4"/>
<line x1="-0.7" y1="26.62" x2="0" y2="26.62" stroke="#777" stroke-width="0.4"/>
<line x1="-1.2" y1="28.90" x2="0" y2="28.90" stroke="#444" stroke-width="0.6"/>
<text x="-1.8" y="30.15" font-size="3.5" text-anchor="end" font-weight="bold" fill="#111" stroke="#111" stroke-width="0.12">100</text>
<line x1="-0.7" y1="31.17" x2="0" y2="31.17" stroke="#777" stroke-width="0.4"/>
<line x1="-0.7" y1="33.45" x2="0" y2="33.45" stroke="#777" stroke-width="0.4"/>
<line x1="-0.7" y1="35.72" x2="0" y2="35.72" stroke="#777" stroke-width="0.4"/>
<line x1="-1.2" y1="38.00" x2="0" y2="38.00" stroke="#444" stroke-width="0.6"/>
<text x="-1.8" y="39.25" font-size="3.5" text-anchor="end" font-weight="bold" fill="#111" stroke="#111" stroke-width="0.12">50</text>
<line x1="-0.7" y1="40.27" x2="0" y2="40.27" stroke="#777" stroke-width="0.4"/>
<line x1="-0.7" y1="42.55" x2="0" y2="42.55" stroke="#777" stroke-width="0.4"/>
<line x1="-0.7" y1="44.83" x2="0" y2="44.83" stroke="#777" stroke-width="0.4"/>
<line x1="-1.2" y1="47.10" x2="0" y2="47.10" stroke="#444" stroke-width="0.6"/>
<text x="-1.8" y="48.35" font-size="3.5" text-anchor="end" font-weight="bold" fill="#111" stroke="#111" stroke-width="0.12">0</text>
<line x1="1.40" y1="47.7" x2="1.40" y2="48.80" stroke="#555" stroke-width="0.6"/>
<text x="2.60" y="54.20" font-size="3.3" text-anchor="middle" font-weight="bold" fill="#222" stroke="#222" stroke-width="0.1">10</text>
<text x="4.30" y="51.10" font-size="2.5" font-weight="bold" fill="#222" stroke="#222" stroke-width="0.08">0</text>
<line x1="8.80" y1="47.7" x2="8.80" y2="48.80" stroke="#555" stroke-width="0.6"/>
<text x="10.00" y="54.20" font-size="3.3" text-anchor="middle" font-weight="bold" fill="#222" stroke="#222" stroke-width="0.1">10</text>
<text x="11.70" y="51.10" font-size="2.5" font-weight="bold" fill="#222" stroke="#222" stroke-width="0.08">1</text>
<line x1="17.70" y1="47.7" x2="17.70" y2="48.80" stroke="#555" stroke-width="0.6"/>
<text x="18.90" y="54.20" font-size="3.3" text-anchor="middle" font-weight="bold" fill="#222" stroke="#222" stroke-width="0.1">10</text>
<text x="20.60" y="51.10" font-size="2.5" font-weight="bold" fill="#222" stroke="#222" stroke-width="0.08">2</text>
<line x1="26.60" y1="47.7" x2="26.60" y2="48.80" stroke="#555" stroke-width="0.6"/>
<text x="27.80" y="54.20" font-size="3.3" text-anchor="middle" font-weight="bold" fill="#222" stroke="#222" stroke-width="0.1">10</text>
<text x="29.50" y="51.10" font-size="2.5" font-weight="bold" fill="#222" stroke="#222" stroke-width="0.08">3</text>
<line x1="35.20" y1="47.7" x2="35.20" y2="48.80" stroke="#555" stroke-width="0.6"/>
<text x="36.40" y="54.20" font-size="3.3" text-anchor="middle" font-weight="bold" fill="#222" stroke="#222" stroke-width="0.1">10</text>
<text x="38.10" y="51.10" font-size="2.5" font-weight="bold" fill="#222" stroke="#222" stroke-width="0.08">4</text>
<line x1="43.60" y1="47.7" x2="43.60" y2="48.80" stroke="#555" stroke-width="0.6"/>
<text x="44.80" y="54.20" font-size="3.3" text-anchor="middle" font-weight="bold" fill="#222" stroke="#222" stroke-width="0.1">10</text>
<text x="46.50" y="51.10" font-size="2.5" font-weight="bold" fill="#222" stroke="#222" stroke-width="0.08">5</text>
<path d="M0,47.70 L0.00,47.68 L0.40,47.68 L0.80,47.68 L1.21,47.67 L1.61,47.67 L2.01,47.67 L2.41,47.67 L2.82,47.66 L3.22,47.66 L3.62,47.66 L4.03,47.65 L4.43,47.64 L4.83,47.64 L5.23,47.63 L5.63,47.62 L6.04,47.60 L6.44,47.58 L6.84,47.56 L7.25,47.54 L7.65,47.51 L8.05,47.47 L8.45,47.43 L8.85,47.38 L9.26,47.33 L9.66,47.27 L10.06,47.21 L10.46,47.14 L10.87,47.07 L11.27,47.01 L11.67,46.95 L12.07,46.89 L12.48,46.84 L12.88,46.80 L13.28,46.77 L13.68,46.75 L14.09,46.75 L14.49,46.76 L14.89,46.78 L15.29,46.81 L15.70,46.86 L16.10,46.91 L16.50,46.97 L16.90,47.03 L17.31,47.10 L17.71,47.16 L18.11,47.22 L18.51,47.27 L18.92,47.31 L19.32,47.35 L19.72,47.37 L20.12,47.38 L20.53,47.37 L20.93,47.35 L21.33,47.31 L21.73,47.24 L22.14,47.15 L22.54,47.04 L22.94,46.90 L23.34,46.72 L23.75,46.51 L24.15,46.26 L24.55,45.92 L24.95,45.45 L25.36,44.72 L25.76,43.54 L26.16,41.64 L26.56,38.69 L26.97,34.43 L27.37,28.81 L27.77,22.15 L28.18,15.24 L28.58,9.22 L28.98,5.30 L29.38,4.34 L29.79,6.28 L30.19,10.59 L30.59,16.47 L30.99,22.92 L31.39,29.06 L31.80,34.28 L32.20,38.33 L32.60,41.23 L33.01,43.18 L33.41,44.43 L33.81,45.23 L34.21,45.76 L34.62,46.13 L35.02,46.41 L35.42,46.64 L35.82,46.83 L36.23,46.99 L36.63,47.13 L37.03,47.25 L37.43,47.35 L37.84,47.43 L38.24,47.49 L38.64,47.54 L39.04,47.58 L39.45,47.61 L39.85,47.64 L40.25,47.65 L40.65,47.67 L41.05,47.68 L41.46,47.68 L41.86,47.69 L42.26,47.69 L42.66,47.69 L43.07,47.70 L43.47,47.70 L43.87,47.70 L44.27,47.70 L44.68,47.70 L45.08,47.70 L45.48,47.70 L45.88,47.70 L46.29,47.70 L46.69,47.70 L47.09,47.70 L47.49,47.70 L47.90,47.70 L48.30,47.70 L48.30,47.70 Z" fill="#979797" stroke="#3a3a3a" stroke-width="0.6" stroke-linejoin="round"/>
<line x1="0" y1="24.09" x2="26.00" y2="24.09" stroke="#474747" stroke-width="0.8"/>
<line x1="26.00" y1="23.19" x2="26.00" y2="24.99" stroke="#505050" stroke-width="0.6"/>
<line x1="25.50" y1="27.43" x2="48.3" y2="27.43" stroke="#555" stroke-width="0.9"/>
<line x1="25.50" y1="26.43" x2="25.50" y2="28.43" stroke="#5a5a5a" stroke-width="0.6"/>
<text x="4.4" y="6.9" font-size="4.4" font-weight="bold" fill="#1f2ff5" stroke="#1f2ff5" stroke-width="0.2">(-)</text>
<text x="3.7" y="13.3" font-size="4.6" font-weight="bold" fill="#1f2ff5" stroke="#1f2ff5" stroke-width="0.2">5.00%</text>
<text x="44.90" y="6.9" font-size="4.4" text-anchor="end" font-weight="bold" fill="#1f2ff5" stroke="#1f2ff5" stroke-width="0.2">(+)</text>
<text x="45.30" y="13.3" font-size="4.6" text-anchor="end" font-weight="bold" fill="#1f2ff5" stroke="#1f2ff5" stroke-width="0.2">95.0%</text>
</g>
<g transform="translate(422.40,149.10)">
<rect x="0" y="0" width="48.3" height="47.7" fill="#fff" stroke="#9a9a9a" stroke-width="0.7"/>
<line x1="-1.2" y1="2.50" x2="0" y2="2.50" stroke="#444" stroke-width="0.6"/>
<text x="-1.8" y="3.75" font-size="3.5" text-anchor="end" font-weight="bold" fill="#111" stroke="#111" stroke-width="0.12">200</text>
<line x1="-0.7" y1="5.29" x2="0" y2="5.29" stroke="#777" stroke-width="0.4"/>
<line x1="-0.7" y1="8.07" x2="0" y2="8.07" stroke="#777" stroke-width="0.4"/>
<line x1="-0.7" y1="10.86" x2="0" y2="10.86" stroke="#777" stroke-width="0.4"/>
<line x1="-1.2" y1="13.65" x2="0" y2="13.65" stroke="#444" stroke-width="0.6"/>
<text x="-1.8" y="14.90" font-size="3.5" text-anchor="end" font-weight="bold" fill="#111" stroke="#111" stroke-width="0.12">150</text>
<line x1="-0.7" y1="16.44" x2="0" y2="16.44" stroke="#777" stroke-width="0.4"/>
<line x1="-0.7" y1="19.23" x2="0" y2="19.23" stroke="#777" stroke-width="0.4"/>
<line x1="-0.7" y1="22.01" x2="0" y2="22.01" stroke="#777" stroke-width="0.4"/>
<line x1="-1.2" y1="24.80" x2="0" y2="24.80" stroke="#444" stroke-width="0.6"/>
<text x="-1.8" y="26.05" font-size="3.5" text-anchor="end" font-weight="bold" fill="#111" stroke="#111" stroke-width="0.12">100</text>
<line x1="-0.7" y1="27.59" x2="0" y2="27.59" stroke="#777" stroke-width="0.4"/>
<line x1="-0.7" y1="30.38" x2="0" y2="30.38" stroke="#777" stroke-width="0.4"/>
<line x1="-0.7" y1="33.16" x2="0" y2="33.16" stroke="#777" stroke-width="0.4"/>
<line x1="-1.2" y1="35.95" x2="0" y2="35.95" stroke="#444" stroke-width="0.6"/>
<text x="-1.8" y="37.20" font-size="3.5" text-anchor="end" font-weight="bold" fill="#111" stroke="#111" stroke-width="0.12">50</text>
<line x1="-0.7" y1="38.74" x2="0" y2="38.74" stroke="#777" stroke-width="0.4"/>
<line x1="-0.7" y1="41.53" x2="0" y2="41.53" stroke="#777" stroke-width="0.4"/>
<line x1="-0.7" y1="44.31" x2="0" y2="44.31" stroke="#777" stroke-width="0.4"/>
<line x1="-1.2" y1="47.10" x2="0" y2="47.10" stroke="#444" stroke-width="0.6"/>
<text x="-1.8" y="48.35" font-size="3.5" text-anchor="end" font-weight="bold" fill="#111" stroke="#111" stroke-width="0.12">0</text>
<line x1="1.40" y1="47.7" x2="1.40" y2="48.80" stroke="#555" stroke-width="0.6"/>
<text x="2.60" y="54.20" font-size="3.3" text-anchor="middle" font-weight="bold" fill="#222" stroke="#222" stroke-width="0.1">10</text>
<text x="4.30" y="51.10" font-size="2.5" font-weight="bold" fill="#222" stroke="#222" stroke-width="0.08">0</text>
<line x1="8.80" y1="47.7" x2="8.80" y2="48.80" stroke="#555" stroke-width="0.6"/>
<text x="10.00" y="54.20" font-size="3.3" text-anchor="middle" font-weight="bold" fill="#222" stroke="#222" stroke-width="0.1">10</text>
<text x="11.70" y="51.10" font-size="2.5" font-weight="bold" fill="#222" stroke="#222" stroke-width="0.08">1</text>
<line x1="17.70" y1="47.7" x2="17.70" y2="48.80" stroke="#555" stroke-width="0.6"/>
<text x="18.90" y="54.20" font-size="3.3" text-anchor="middle" font-weight="bold" fill="#222" stroke="#222" stroke-width="0.1">10</text>
<text x="20.60" y="51.10" font-size="2.5" font-weight="bold" fill="#222" stroke="#222" stroke-width="0.08">2</text>
<line x1="26.60" y1="47.7" x2="26.60" y2="48.80" stroke="#555" stroke-width="0.6"/>
<text x="27.80" y="54.20" font-size="3.3" text-anchor="middle" font-weight="bold" fill="#222" stroke="#222" stroke-width="0.1">10</text>
<text x="29.50" y="51.10" font-size="2.5" font-weight="bold" fill="#222" stroke="#222" stroke-width="0.08">3</text>
<line x1="35.20" y1="47.7" x2="35.20" y2="48.80" stroke="#555" stroke-width="0.6"/>
<text x="36.40" y="54.20" font-size="3.3" text-anchor="middle" font-weight="bold" fill="#222" stroke="#222" stroke-width="0.1">10</text>
<text x="38.10" y="51.10" font-size="2.5" font-weight="bold" fill="#222" stroke="#222" stroke-width="0.08">4</text>
<line x1="43.60" y1="47.7" x2="43.60" y2="48.80" stroke="#555" stroke-width="0.6"/>
<text x="44.80" y="54.20" font-size="3.3" text-anchor="middle" font-weight="bold" fill="#222" stroke="#222" stroke-width="0.1">10</text>
<text x="46.50" y="51.10" font-size="2.5" font-weight="bold" fill="#222" stroke="#222" stroke-width="0.08">5</text>
<path d="M0,47.70 L0.00,47.70 L0.40,47.70 L0.80,47.70 L1.21,47.70 L1.61,47.70 L2.01,47.70 L2.41,47.70 L2.82,47.70 L3.22,47.70 L3.62,47.70 L4.03,47.70 L4.43,47.70 L4.83,47.70 L5.23,47.70 L5.63,47.70 L6.04,47.70 L6.44,47.70 L6.84,47.70 L7.25,47.70 L7.65,47.70 L8.05,47.70 L8.45,47.70 L8.85,47.70 L9.26,47.70 L9.66,47.70 L10.06,47.70 L10.46,47.70 L10.87,47.70 L11.27,47.70 L11.67,47.70 L12.07,47.70 L12.48,47.70 L12.88,47.70 L13.28,47.70 L13.68,47.70 L14.09,47.70 L14.49,47.70 L14.89,47.70 L15.29,47.69 L15.70,47.69 L16.10,47.68 L16.50,47.67 L16.90,47.66 L17.31,47.65 L17.71,47.63 L18.11,47.60 L18.51,47.56 L18.92,47.51 L19.32,47.44 L19.72,47.36 L20.12,47.26 L20.53,47.13 L20.93,46.98 L21.33,46.80 L21.73,46.59 L22.14,46.33 L22.54,45.99 L22.94,45.53 L23.34,44.81 L23.75,43.66 L24.15,41.81 L24.55,38.93 L24.95,34.75 L25.36,29.23 L25.76,22.66 L26.16,15.82 L26.56,9.82 L26.97,5.86 L27.37,4.81 L27.77,6.41 L28.18,10.12 L28.58,15.32 L28.98,21.22 L29.38,27.07 L29.79,32.29 L30.19,36.55 L30.59,39.79 L30.99,42.09 L31.39,43.65 L31.80,44.68 L32.20,45.36 L32.60,45.82 L33.01,46.16 L33.41,46.42 L33.81,46.63 L34.21,46.81 L34.62,46.97 L35.02,47.10 L35.42,47.21 L35.82,47.31 L36.23,47.39 L36.63,47.46 L37.03,47.51 L37.43,47.56 L37.84,47.59 L38.24,47.62 L38.64,47.64 L39.04,47.66 L39.45,47.67 L39.85,47.68 L40.25,47.68 L40.65,47.69 L41.05,47.69 L41.46,47.69 L41.86,47.70 L42.26,47.70 L42.66,47.70 L43.07,47.70 L43.47,47.70 L43.87,47.70 L44.27,47.70 L44.68,47.70 L45.08,47.70 L45.48,47.70 L45.88,47.70 L46.29,47.70 L46.69,47.70 L47.09,47.70 L47.49,47.70 L47.90,47.70 L48.30,47.70 L48.30,47.70 Z" fill="#979797" stroke="#3a3a3a" stroke-width="0.6" stroke-linejoin="round"/>
<line x1="0" y1="31.96" x2="22.20" y2="31.96" stroke="#474747" stroke-width="0.8"/>
<line x1="22.20" y1="31.06" x2="22.20" y2="32.86" stroke="#505050" stroke-width="0.6"/>
<line x1="21.70" y1="33.87" x2="48.3" y2="33.87" stroke="#555" stroke-width="0.9"/>
<line x1="21.70" y1="32.87" x2="21.70" y2="34.87" stroke="#5a5a5a" stroke-width="0.6"/>
<text x="4.4" y="6.9" font-size="4.4" font-weight="bold" fill="#1f2ff5" stroke="#1f2ff5" stroke-width="0.2">(-)</text>
<text x="3.7" y="13.3" font-size="4.6" font-weight="bold" fill="#1f2ff5" stroke="#1f2ff5" stroke-width="0.2">5.00%</text>
<text x="44.90" y="6.9" font-size="4.4" text-anchor="end" font-weight="bold" fill="#1f2ff5" stroke="#1f2ff5" stroke-width="0.2">(+)</text>
<text x="45.30" y="13.3" font-size="4.6" text-anchor="end" font-weight="bold" fill="#1f2ff5" stroke="#1f2ff5" stroke-width="0.2">95.0%</text>
</g>
<g transform="translate(422.40,206.40)">
<rect x="0" y="0" width="48.3" height="48.1" fill="#fff" stroke="#9a9a9a" stroke-width="0.7"/>
<line x1="-1.2" y1="6.10" x2="0" y2="6.10" stroke="#444" stroke-width="0.6"/>
<text x="-1.8" y="7.35" font-size="3.5" text-anchor="end" font-weight="bold" fill="#111" stroke="#111" stroke-width="0.12">40</text>
<line x1="-0.7" y1="8.69" x2="0" y2="8.69" stroke="#777" stroke-width="0.4"/>
<line x1="-0.7" y1="11.27" x2="0" y2="11.27" stroke="#777" stroke-width="0.4"/>
<line x1="-0.7" y1="13.86" x2="0" y2="13.86" stroke="#777" stroke-width="0.4"/>
<line x1="-1.2" y1="16.45" x2="0" y2="16.45" stroke="#444" stroke-width="0.6"/>
<text x="-1.8" y="17.70" font-size="3.5" text-anchor="end" font-weight="bold" fill="#111" stroke="#111" stroke-width="0.12">30</text>
<line x1="-0.7" y1="19.04" x2="0" y2="19.04" stroke="#777" stroke-width="0.4"/>
<line x1="-0.7" y1="21.62" x2="0" y2="21.62" stroke="#777" stroke-width="0.4"/>
<line x1="-0.7" y1="24.21" x2="0" y2="24.21" stroke="#777" stroke-width="0.4"/>
<line x1="-1.2" y1="26.80" x2="0" y2="26.80" stroke="#444" stroke-width="0.6"/>
<text x="-1.8" y="28.05" font-size="3.5" text-anchor="end" font-weight="bold" fill="#111" stroke="#111" stroke-width="0.12">20</text>
<line x1="-0.7" y1="29.39" x2="0" y2="29.39" stroke="#777" stroke-width="0.4"/>
<line x1="-0.7" y1="31.97" x2="0" y2="31.97" stroke="#777" stroke-width="0.4"/>
<line x1="-0.7" y1="34.56" x2="0" y2="34.56" stroke="#777" stroke-width="0.4"/>
<line x1="-1.2" y1="37.15" x2="0" y2="37.15" stroke="#444" stroke-width="0.6"/>
<text x="-1.8" y="38.40" font-size="3.5" text-anchor="end" font-weight="bold" fill="#111" stroke="#111" stroke-width="0.12">10</text>
<line x1="-0.7" y1="39.74" x2="0" y2="39.74" stroke="#777" stroke-width="0.4"/>
<line x1="-0.7" y1="42.32" x2="0" y2="42.32" stroke="#777" stroke-width="0.4"/>
<line x1="-0.7" y1="44.91" x2="0" y2="44.91" stroke="#777" stroke-width="0.4"/>
<line x1="-1.2" y1="47.50" x2="0" y2="47.50" stroke="#444" stroke-width="0.6"/>
<text x="-1.8" y="48.75" font-size="3.5" text-anchor="end" font-weight="bold" fill="#111" stroke="#111" stroke-width="0.12">0</text>
<line x1="1.40" y1="48.1" x2="1.40" y2="49.20" stroke="#555" stroke-width="0.6"/>
<text x="2.60" y="54.60" font-size="3.3" text-anchor="middle" font-weight="bold" fill="#222" stroke="#222" stroke-width="0.1">10</text>
<text x="4.30" y="51.50" font-size="2.5" font-weight="bold" fill="#222" stroke="#222" stroke-width="0.08">0</text>
<line x1="8.80" y1="48.1" x2="8.80" y2="49.20" stroke="#555" stroke-width="0.6"/>
<text x="10.00" y="54.60" font-size="3.3" text-anchor="middle" font-weight="bold" fill="#222" stroke="#222" stroke-width="0.1">10</text>
<text x="11.70" y="51.50" font-size="2.5" font-weight="bold" fill="#222" stroke="#222" stroke-width="0.08">1</text>
<line x1="17.70" y1="48.1" x2="17.70" y2="49.20" stroke="#555" stroke-width="0.6"/>
<text x="18.90" y="54.60" font-size="3.3" text-anchor="middle" font-weight="bold" fill="#222" stroke="#222" stroke-width="0.1">10</text>
<text x="20.60" y="51.50" font-size="2.5" font-weight="bold" fill="#222" stroke="#222" stroke-width="0.08">2</text>
<line x1="26.60" y1="48.1" x2="26.60" y2="49.20" stroke="#555" stroke-width="0.6"/>
<text x="27.80" y="54.60" font-size="3.3" text-anchor="middle" font-weight="bold" fill="#222" stroke="#222" stroke-width="0.1">10</text>
<text x="29.50" y="51.50" font-size="2.5" font-weight="bold" fill="#222" stroke="#222" stroke-width="0.08">3</text>
<line x1="35.20" y1="48.1" x2="35.20" y2="49.20" stroke="#555" stroke-width="0.6"/>
<text x="36.40" y="54.60" font-size="3.3" text-anchor="middle" font-weight="bold" fill="#222" stroke="#222" stroke-width="0.1">10</text>
<text x="38.10" y="51.50" font-size="2.5" font-weight="bold" fill="#222" stroke="#222" stroke-width="0.08">4</text>
<line x1="43.60" y1="48.1" x2="43.60" y2="49.20" stroke="#555" stroke-width="0.6"/>
<text x="44.80" y="54.60" font-size="3.3" text-anchor="middle" font-weight="bold" fill="#222" stroke="#222" stroke-width="0.1">10</text>
<text x="46.50" y="51.50" font-size="2.5" font-weight="bold" fill="#222" stroke="#222" stroke-width="0.08">5</text>
<path d="M0,48.10 L0.00,48.09 L0.40,48.09 L0.80,48.09 L1.21,48.08 L1.61,48.08 L2.01,48.08 L2.41,48.07 L2.82,48.07 L3.22,48.06 L3.62,48.06 L4.03,48.05 L4.43,48.05 L4.83,48.04 L5.23,48.03 L5.63,48.02 L6.04,48.01 L6.44,48.00 L6.84,47.99 L7.25,47.97 L7.65,47.95 L8.05,47.93 L8.45,47.91 L8.85,47.88 L9.26,47.85 L9.66,47.81 L10.06,47.76 L10.46,47.70 L10.87,47.63 L11.27,47.54 L11.67,47.43 L12.07,47.29 L12.48,47.14 L12.88,46.95 L13.28,46.74 L13.68,46.51 L14.09,46.25 L14.49,45.97 L14.89,45.68 L15.29,45.39 L15.70,45.09 L16.10,44.80 L16.50,44.50 L16.90,44.22 L17.31,43.92 L17.71,43.62 L18.11,43.28 L18.51,42.91 L18.92,42.48 L19.32,41.98 L19.72,41.41 L20.12,40.77 L20.53,40.06 L20.93,39.32 L21.33,38.57 L21.73,37.85 L22.14,37.21 L22.54,36.67 L22.94,36.26 L23.34,36.01 L23.75,35.95 L24.15,36.15 L24.55,36.49 L24.95,36.80 L25.36,36.89 L25.76,36.55 L26.16,35.60 L26.56,33.93 L26.97,31.50 L27.37,28.39 L27.77,24.80 L28.18,21.03 L28.58,17.49 L28.98,14.58 L29.38,12.67 L29.79,12.01 L30.19,13.14 L30.59,16.32 L30.99,20.94 L31.39,26.23 L31.80,31.42 L32.20,35.95 L32.60,39.54 L33.01,42.16 L33.41,43.95 L33.81,45.12 L34.21,45.87 L34.62,46.36 L35.02,46.70 L35.42,46.95 L35.82,47.15 L36.23,47.32 L36.63,47.47 L37.03,47.59 L37.43,47.70 L37.84,47.78 L38.24,47.85 L38.64,47.91 L39.04,47.96 L39.45,47.99 L39.85,48.02 L40.25,48.04 L40.65,48.06 L41.05,48.07 L41.46,48.08 L41.86,48.08 L42.26,48.09 L42.66,48.09 L43.07,48.10 L43.47,48.10 L43.87,48.10 L44.27,48.10 L44.68,48.10 L45.08,48.10 L45.48,48.10 L45.88,48.10 L46.29,48.10 L46.69,48.10 L47.09,48.10 L47.49,48.10 L47.90,48.10 L48.30,48.10 L48.30,48.10 Z" fill="#979797" stroke="#3a3a3a" stroke-width="0.6" stroke-linejoin="round"/>
<line x1="0" y1="27.42" x2="17.60" y2="27.42" stroke="#474747" stroke-width="0.8"/>
<line x1="17.60" y1="26.52" x2="17.60" y2="28.32" stroke="#505050" stroke-width="0.6"/>
<line x1="17.10" y1="29.82" x2="48.3" y2="29.82" stroke="#555" stroke-width="0.9"/>
<line x1="17.10" y1="28.82" x2="17.10" y2="30.82" stroke="#5a5a5a" stroke-width="0.6"/>
<text x="4.4" y="6.9" font-size="4.4" font-weight="bold" fill="#1f2ff5" stroke="#1f2ff5" stroke-width="0.2">(-)</text>
<text x="3.7" y="13.3" font-size="4.6" font-weight="bold" fill="#1f2ff5" stroke="#1f2ff5" stroke-width="0.2">5.00%</text>
<text x="44.90" y="6.9" font-size="4.4" text-anchor="end" font-weight="bold" fill="#1f2ff5" stroke="#1f2ff5" stroke-width="0.2">(+)</text>
<text x="45.30" y="13.3" font-size="4.6" text-anchor="end" font-weight="bold" fill="#1f2ff5" stroke="#1f2ff5" stroke-width="0.2">95.0%</text>
</g>
<text x="505.25" y="29.80" font-size="7.8" text-anchor="middle" font-weight="bold" fill="#000">72 h</text>
<g transform="translate(480.20,33.30)">
<rect x="0" y="0" width="48.3" height="48.2" fill="#fff" stroke="#9a9a9a" stroke-width="0.7"/>
<line x1="-1.2" y1="12.30" x2="0" y2="12.30" stroke="#444" stroke-width="0.6"/>
<text x="-1.8" y="13.55" font-size="3.5" text-anchor="end" font-weight="bold" fill="#111" stroke="#111" stroke-width="0.12">150</text>
<line x1="-0.7" y1="15.24" x2="0" y2="15.24" stroke="#777" stroke-width="0.4"/>
<line x1="-0.7" y1="18.18" x2="0" y2="18.18" stroke="#777" stroke-width="0.4"/>
<line x1="-0.7" y1="21.12" x2="0" y2="21.12" stroke="#777" stroke-width="0.4"/>
<line x1="-1.2" y1="24.07" x2="0" y2="24.07" stroke="#444" stroke-width="0.6"/>
<text x="-1.8" y="25.32" font-size="3.5" text-anchor="end" font-weight="bold" fill="#111" stroke="#111" stroke-width="0.12">100</text>
<line x1="-0.7" y1="27.01" x2="0" y2="27.01" stroke="#777" stroke-width="0.4"/>
<line x1="-0.7" y1="29.95" x2="0" y2="29.95" stroke="#777" stroke-width="0.4"/>
<line x1="-0.7" y1="32.89" x2="0" y2="32.89" stroke="#777" stroke-width="0.4"/>
<line x1="-1.2" y1="35.83" x2="0" y2="35.83" stroke="#444" stroke-width="0.6"/>
<text x="-1.8" y="37.08" font-size="3.5" text-anchor="end" font-weight="bold" fill="#111" stroke="#111" stroke-width="0.12">50</text>
<line x1="-0.7" y1="38.77" x2="0" y2="38.77" stroke="#777" stroke-width="0.4"/>
<line x1="-0.7" y1="41.72" x2="0" y2="41.72" stroke="#777" stroke-width="0.4"/>
<line x1="-0.7" y1="44.66" x2="0" y2="44.66" stroke="#777" stroke-width="0.4"/>
<line x1="-1.2" y1="47.60" x2="0" y2="47.60" stroke="#444" stroke-width="0.6"/>
<text x="-1.8" y="48.85" font-size="3.5" text-anchor="end" font-weight="bold" fill="#111" stroke="#111" stroke-width="0.12">0</text>
<line x1="1.40" y1="48.2" x2="1.40" y2="49.30" stroke="#555" stroke-width="0.6"/>
<text x="2.60" y="54.70" font-size="3.3" text-anchor="middle" font-weight="bold" fill="#222" stroke="#222" stroke-width="0.1">10</text>
<text x="4.30" y="51.60" font-size="2.5" font-weight="bold" fill="#222" stroke="#222" stroke-width="0.08">0</text>
<line x1="8.80" y1="48.2" x2="8.80" y2="49.30" stroke="#555" stroke-width="0.6"/>
<text x="10.00" y="54.70" font-size="3.3" text-anchor="middle" font-weight="bold" fill="#222" stroke="#222" stroke-width="0.1">10</text>
<text x="11.70" y="51.60" font-size="2.5" font-weight="bold" fill="#222" stroke="#222" stroke-width="0.08">1</text>
<line x1="17.70" y1="48.2" x2="17.70" y2="49.30" stroke="#555" stroke-width="0.6"/>
<text x="18.90" y="54.70" font-size="3.3" text-anchor="middle" font-weight="bold" fill="#222" stroke="#222" stroke-width="0.1">10</text>
<text x="20.60" y="51.60" font-size="2.5" font-weight="bold" fill="#222" stroke="#222" stroke-width="0.08">2</text>
<line x1="26.60" y1="48.2" x2="26.60" y2="49.30" stroke="#555" stroke-width="0.6"/>
<text x="27.80" y="54.70" font-size="3.3" text-anchor="middle" font-weight="bold" fill="#222" stroke="#222" stroke-width="0.1">10</text>
<text x="29.50" y="51.60" font-size="2.5" font-weight="bold" fill="#222" stroke="#222" stroke-width="0.08">3</text>
<line x1="35.20" y1="48.2" x2="35.20" y2="49.30" stroke="#555" stroke-width="0.6"/>
<text x="36.40" y="54.70" font-size="3.3" text-anchor="middle" font-weight="bold" fill="#222" stroke="#222" stroke-width="0.1">10</text>
<text x="38.10" y="51.60" font-size="2.5" font-weight="bold" fill="#222" stroke="#222" stroke-width="0.08">4</text>
<line x1="43.60" y1="48.2" x2="43.60" y2="49.30" stroke="#555" stroke-width="0.6"/>
<text x="44.80" y="54.70" font-size="3.3" text-anchor="middle" font-weight="bold" fill="#222" stroke="#222" stroke-width="0.1">10</text>
<text x="46.50" y="51.60" font-size="2.5" font-weight="bold" fill="#222" stroke="#222" stroke-width="0.08">5</text>
<path d="M0,48.20 L0.00,48.20 L0.40,48.20 L0.80,48.20 L1.21,48.19 L1.61,48.19 L2.01,48.19 L2.41,48.19 L2.82,48.18 L3.22,48.18 L3.62,48.17 L4.03,48.16 L4.43,48.15 L4.83,48.14 L5.23,48.12 L5.63,48.10 L6.04,48.08 L6.44,48.05 L6.84,48.02 L7.25,47.98 L7.65,47.94 L8.05,47.89 L8.45,47.83 L8.85,47.76 L9.26,47.69 L9.66,47.60 L10.06,47.48 L10.46,47.34 L10.87,47.14 L11.27,46.85 L11.67,46.43 L12.07,45.83 L12.48,44.98 L12.88,43.84 L13.28,42.38 L13.68,40.60 L14.09,38.58 L14.49,36.45 L14.89,34.38 L15.29,32.62 L15.70,31.36 L16.10,30.76 L16.50,30.91 L16.90,31.76 L17.31,33.20 L17.71,35.03 L18.11,37.02 L18.51,38.96 L18.92,40.68 L19.32,42.08 L19.72,43.10 L20.12,43.72 L20.53,43.91 L20.93,43.57 L21.33,42.50 L21.73,40.39 L22.14,36.87 L22.54,31.72 L22.94,25.11 L23.34,17.77 L23.75,11.01 L24.15,6.37 L24.55,5.03 L24.95,6.58 L25.36,10.25 L25.76,15.43 L26.16,21.35 L26.56,27.23 L26.97,32.50 L27.37,36.83 L27.77,40.12 L28.18,42.47 L28.58,44.07 L28.98,45.12 L29.38,45.82 L29.79,46.29 L30.19,46.64 L30.59,46.90 L30.99,47.12 L31.39,47.30 L31.80,47.46 L32.20,47.59 L32.60,47.71 L33.01,47.81 L33.41,47.89 L33.81,47.96 L34.21,48.01 L34.62,48.05 L35.02,48.09 L35.42,48.12 L35.82,48.14 L36.23,48.15 L36.63,48.17 L37.03,48.18 L37.43,48.18 L37.84,48.19 L38.24,48.19 L38.64,48.19 L39.04,48.20 L39.45,48.20 L39.85,48.20 L40.25,48.20 L40.65,48.20 L41.05,48.20 L41.46,48.20 L41.86,48.20 L42.26,48.20 L42.66,48.20 L43.07,48.20 L43.47,48.20 L43.87,48.20 L44.27,48.20 L44.68,48.20 L45.08,48.20 L45.48,48.20 L45.88,48.20 L46.29,48.20 L46.69,48.20 L47.09,48.20 L47.49,48.20 L47.90,48.20 L48.30,48.20 L48.30,48.20 Z" fill="#979797" stroke="#3a3a3a" stroke-width="0.6" stroke-linejoin="round"/>
<line x1="0" y1="29.88" x2="23.30" y2="29.88" stroke="#474747" stroke-width="0.8"/>
<line x1="23.30" y1="28.98" x2="23.30" y2="30.78" stroke="#505050" stroke-width="0.6"/>
<line x1="22.80" y1="32.29" x2="48.3" y2="32.29" stroke="#555" stroke-width="0.9"/>
<line x1="22.80" y1="31.29" x2="22.80" y2="33.29" stroke="#5a5a5a" stroke-width="0.6"/>
<text x="4.4" y="6.9" font-size="4.4" font-weight="bold" fill="#1f2ff5" stroke="#1f2ff5" stroke-width="0.2">(-)</text>
<text x="3.7" y="13.3" font-size="4.6" font-weight="bold" fill="#1f2ff5" stroke="#1f2ff5" stroke-width="0.2">57.6%</text>
<text x="44.90" y="6.9" font-size="4.4" text-anchor="end" font-weight="bold" fill="#1f2ff5" stroke="#1f2ff5" stroke-width="0.2">(+)</text>
<text x="45.30" y="13.3" font-size="4.6" text-anchor="end" font-weight="bold" fill="#1f2ff5" stroke="#1f2ff5" stroke-width="0.2">42.4%</text>
</g>
<g transform="translate(480.20,91.20)">
<rect x="0" y="0" width="48.3" height="47.7" fill="#fff" stroke="#9a9a9a" stroke-width="0.7"/>
<line x1="-1.2" y1="2.40" x2="0" y2="2.40" stroke="#444" stroke-width="0.6"/>
<text x="-1.8" y="3.65" font-size="3.5" text-anchor="end" font-weight="bold" fill="#111" stroke="#111" stroke-width="0.12">120</text>
<line x1="-0.7" y1="5.19" x2="0" y2="5.19" stroke="#777" stroke-width="0.4"/>
<line x1="-0.7" y1="7.99" x2="0" y2="7.99" stroke="#777" stroke-width="0.4"/>
<line x1="-0.7" y1="10.78" x2="0" y2="10.78" stroke="#777" stroke-width="0.4"/>
<line x1="-1.2" y1="13.58" x2="0" y2="13.58" stroke="#444" stroke-width="0.6"/>
<text x="-1.8" y="14.83" font-size="3.5" text-anchor="end" font-weight="bold" fill="#111" stroke="#111" stroke-width="0.12">90</text>
<line x1="-0.7" y1="16.37" x2="0" y2="16.37" stroke="#777" stroke-width="0.4"/>
<line x1="-0.7" y1="19.16" x2="0" y2="19.16" stroke="#777" stroke-width="0.4"/>
<line x1="-0.7" y1="21.96" x2="0" y2="21.96" stroke="#777" stroke-width="0.4"/>
<line x1="-1.2" y1="24.75" x2="0" y2="24.75" stroke="#444" stroke-width="0.6"/>
<text x="-1.8" y="26.00" font-size="3.5" text-anchor="end" font-weight="bold" fill="#111" stroke="#111" stroke-width="0.12">60</text>
<line x1="-0.7" y1="27.54" x2="0" y2="27.54" stroke="#777" stroke-width="0.4"/>
<line x1="-0.7" y1="30.34" x2="0" y2="30.34" stroke="#777" stroke-width="0.4"/>
<line x1="-0.7" y1="33.13" x2="0" y2="33.13" stroke="#777" stroke-width="0.4"/>
<line x1="-1.2" y1="35.93" x2="0" y2="35.93" stroke="#444" stroke-width="0.6"/>
<text x="-1.8" y="37.18" font-size="3.5" text-anchor="end" font-weight="bold" fill="#111" stroke="#111" stroke-width="0.12">30</text>
<line x1="-0.7" y1="38.72" x2="0" y2="38.72" stroke="#777" stroke-width="0.4"/>
<line x1="-0.7" y1="41.51" x2="0" y2="41.51" stroke="#777" stroke-width="0.4"/>
<line x1="-0.7" y1="44.31" x2="0" y2="44.31" stroke="#777" stroke-width="0.4"/>
<line x1="-1.2" y1="47.10" x2="0" y2="47.10" stroke="#444" stroke-width="0.6"/>
<text x="-1.8" y="48.35" font-size="3.5" text-anchor="end" font-weight="bold" fill="#111" stroke="#111" stroke-width="0.12">0</text>
<line x1="1.40" y1="47.7" x2="1.40" y2="48.80" stroke="#555" stroke-width="0.6"/>
<text x="2.60" y="54.20" font-size="3.3" text-anchor="middle" font-weight="bold" fill="#222" stroke="#222" stroke-width="0.1">10</text>
<text x="4.30" y="51.10" font-size="2.5" font-weight="bold" fill="#222" stroke="#222" stroke-width="0.08">0</text>
<line x1="8.80" y1="47.7" x2="8.80" y2="48.80" stroke="#555" stroke-width="0.6"/>
<text x="10.00" y="54.20" font-size="3.3" text-anchor="middle" font-weight="bold" fill="#222" stroke="#222" stroke-width="0.1">10</text>
<text x="11.70" y="51.10" font-size="2.5" font-weight="bold" fill="#222" stroke="#222" stroke-width="0.08">1</text>
<line x1="17.70" y1="47.7" x2="17.70" y2="48.80" stroke="#555" stroke-width="0.6"/>
<text x="18.90" y="54.20" font-size="3.3" text-anchor="middle" font-weight="bold" fill="#222" stroke="#222" stroke-width="0.1">10</text>
<text x="20.60" y="51.10" font-size="2.5" font-weight="bold" fill="#222" stroke="#222" stroke-width="0.08">2</text>
<line x1="26.60" y1="47.7" x2="26.60" y2="48.80" stroke="#555" stroke-width="0.6"/>
<text x="27.80" y="54.20" font-size="3.3" text-anchor="middle" font-weight="bold" fill="#222" stroke="#222" stroke-width="0.1">10</text>
<text x="29.50" y="51.10" font-size="2.5" font-weight="bold" fill="#222" stroke="#222" stroke-width="0.08">3</text>
<line x1="35.20" y1="47.7" x2="35.20" y2="48.80" stroke="#555" stroke-width="0.6"/>
<text x="36.40" y="54.20" font-size="3.3" text-anchor="middle" font-weight="bold" fill="#222" stroke="#222" stroke-width="0.1">10</text>
<text x="38.10" y="51.10" font-size="2.5" font-weight="bold" fill="#222" stroke="#222" stroke-width="0.08">4</text>
<line x1="43.60" y1="47.7" x2="43.60" y2="48.80" stroke="#555" stroke-width="0.6"/>
<text x="44.80" y="54.20" font-size="3.3" text-anchor="middle" font-weight="bold" fill="#222" stroke="#222" stroke-width="0.1">10</text>
<text x="46.50" y="51.10" font-size="2.5" font-weight="bold" fill="#222" stroke="#222" stroke-width="0.08">5</text>
<path d="M0,47.70 L0.00,47.67 L0.40,47.67 L0.80,47.66 L1.21,47.65 L1.61,47.63 L2.01,47.62 L2.41,47.60 L2.82,47.58 L3.22,47.55 L3.62,47.52 L4.03,47.48 L4.43,47.44 L4.83,47.39 L5.23,47.33 L5.63,47.26 L6.04,47.18 L6.44,47.07 L6.84,46.92 L7.25,46.71 L7.65,46.42 L8.05,46.00 L8.45,45.41 L8.85,44.61 L9.26,43.57 L9.66,42.30 L10.06,40.81 L10.46,39.19 L10.87,37.56 L11.27,36.06 L11.67,34.80 L12.07,33.87 L12.48,33.29 L12.88,33.05 L13.28,32.97 L13.68,32.75 L14.09,32.14 L14.49,31.04 L14.89,29.55 L15.29,27.99 L15.70,26.76 L16.10,26.23 L16.50,26.58 L16.90,27.66 L17.31,29.27 L17.71,31.10 L18.11,32.80 L18.51,34.15 L18.92,35.03 L19.32,35.50 L19.72,35.69 L20.12,35.75 L20.53,35.75 L20.93,35.67 L21.33,35.33 L21.73,34.45 L22.14,32.74 L22.54,29.97 L22.94,26.10 L23.34,21.35 L23.75,16.25 L24.15,11.51 L24.55,7.93 L24.95,6.19 L25.36,6.54 L25.76,8.63 L26.16,12.16 L26.56,16.70 L26.97,21.72 L27.37,26.74 L27.77,31.34 L28.18,35.29 L28.58,38.46 L28.98,40.89 L29.38,42.65 L29.79,43.90 L30.19,44.77 L30.59,45.36 L30.99,45.79 L31.39,46.10 L31.80,46.35 L32.20,46.55 L32.60,46.72 L33.01,46.87 L33.41,47.00 L33.81,47.12 L34.21,47.22 L34.62,47.30 L35.02,47.37 L35.42,47.44 L35.82,47.49 L36.23,47.53 L36.63,47.57 L37.03,47.59 L37.43,47.62 L37.84,47.64 L38.24,47.65 L38.64,47.66 L39.04,47.67 L39.45,47.68 L39.85,47.68 L40.25,47.69 L40.65,47.69 L41.05,47.69 L41.46,47.70 L41.86,47.70 L42.26,47.70 L42.66,47.70 L43.07,47.70 L43.47,47.70 L43.87,47.70 L44.27,47.70 L44.68,47.70 L45.08,47.70 L45.48,47.70 L45.88,47.70 L46.29,47.70 L46.69,47.70 L47.09,47.70 L47.49,47.70 L47.90,47.70 L48.30,47.70 L48.30,47.70 Z" fill="#979797" stroke="#3a3a3a" stroke-width="0.6" stroke-linejoin="round"/>
<line x1="0" y1="24.57" x2="26.00" y2="24.57" stroke="#474747" stroke-width="0.8"/>
<line x1="26.00" y1="23.67" x2="26.00" y2="25.47" stroke="#505050" stroke-width="0.6"/>
<line x1="25.50" y1="27.43" x2="48.3" y2="27.43" stroke="#555" stroke-width="0.9"/>
<line x1="25.50" y1="26.43" x2="25.50" y2="28.43" stroke="#5a5a5a" stroke-width="0.6"/>
<text x="4.4" y="6.9" font-size="4.4" font-weight="bold" fill="#1f2ff5" stroke="#1f2ff5" stroke-width="0.2">(-)</text>
<text x="3.7" y="13.3" font-size="4.6" font-weight="bold" fill="#1f2ff5" stroke="#1f2ff5" stroke-width="0.2">77.4%</text>
<text x="44.90" y="6.9" font-size="4.4" text-anchor="end" font-weight="bold" fill="#1f2ff5" stroke="#1f2ff5" stroke-width="0.2">(+)</text>
<text x="45.30" y="13.3" font-size="4.6" text-anchor="end" font-weight="bold" fill="#1f2ff5" stroke="#1f2ff5" stroke-width="0.2">22.6%</text>
</g>
<g transform="translate(480.20,149.10)">
<rect x="0" y="0" width="48.3" height="47.7" fill="#fff" stroke="#9a9a9a" stroke-width="0.7"/>
<line x1="-1.2" y1="7.10" x2="0" y2="7.10" stroke="#444" stroke-width="0.6"/>
<text x="-1.8" y="8.35" font-size="3.5" text-anchor="end" font-weight="bold" fill="#111" stroke="#111" stroke-width="0.12">120</text>
<line x1="-0.7" y1="9.60" x2="0" y2="9.60" stroke="#777" stroke-width="0.4"/>
<line x1="-0.7" y1="12.10" x2="0" y2="12.10" stroke="#777" stroke-width="0.4"/>
<line x1="-0.7" y1="14.60" x2="0" y2="14.60" stroke="#777" stroke-width="0.4"/>
<line x1="-1.2" y1="17.10" x2="0" y2="17.10" stroke="#444" stroke-width="0.6"/>
<text x="-1.8" y="18.35" font-size="3.5" text-anchor="end" font-weight="bold" fill="#111" stroke="#111" stroke-width="0.12">90</text>
<line x1="-0.7" y1="19.60" x2="0" y2="19.60" stroke="#777" stroke-width="0.4"/>
<line x1="-0.7" y1="22.10" x2="0" y2="22.10" stroke="#777" stroke-width="0.4"/>
<line x1="-0.7" y1="24.60" x2="0" y2="24.60" stroke="#777" stroke-width="0.4"/>
<line x1="-1.2" y1="27.10" x2="0" y2="27.10" stroke="#444" stroke-width="0.6"/>
<text x="-1.8" y="28.35" font-size="3.5" text-anchor="end" font-weight="bold" fill="#111" stroke="#111" stroke-width="0.12">60</text>
<line x1="-0.7" y1="29.60" x2="0" y2="29.60" stroke="#777" stroke-width="0.4"/>
<line x1="-0.7" y1="32.10" x2="0" y2="32.10" stroke="#777" stroke-width="0.4"/>
<line x1="-0.7" y1="34.60" x2="0" y2="34.60" stroke="#777" stroke-width="0.4"/>
<line x1="-1.2" y1="37.10" x2="0" y2="37.10" stroke="#444" stroke-width="0.6"/>
<text x="-1.8" y="38.35" font-size="3.5" text-anchor="end" font-weight="bold" fill="#111" stroke="#111" stroke-width="0.12">30</text>
<line x1="-0.7" y1="39.60" x2="0" y2="39.60" stroke="#777" stroke-width="0.4"/>
<line x1="-0.7" y1="42.10" x2="0" y2="42.10" stroke="#777" stroke-width="0.4"/>
<line x1="-0.7" y1="44.60" x2="0" y2="44.60" stroke="#777" stroke-width="0.4"/>
<line x1="-1.2" y1="47.10" x2="0" y2="47.10" stroke="#444" stroke-width="0.6"/>
<text x="-1.8" y="48.35" font-size="3.5" text-anchor="end" font-weight="bold" fill="#111" stroke="#111" stroke-width="0.12">0</text>
<line x1="1.40" y1="47.7" x2="1.40" y2="48.80" stroke="#555" stroke-width="0.6"/>
<text x="2.60" y="54.20" font-size="3.3" text-anchor="middle" font-weight="bold" fill="#222" stroke="#222" stroke-width="0.1">10</text>
<text x="4.30" y="51.10" font-size="2.5" font-weight="bold" fill="#222" stroke="#222" stroke-width="0.08">0</text>
<line x1="8.80" y1="47.7" x2="8.80" y2="48.80" stroke="#555" stroke-width="0.6"/>
<text x="10.00" y="54.20" font-size="3.3" text-anchor="middle" font-weight="bold" fill="#222" stroke="#222" stroke-width="0.1">10</text>
<text x="11.70" y="51.10" font-size="2.5" font-weight="bold" fill="#222" stroke="#222" stroke-width="0.08">1</text>
<line x1="17.70" y1="47.7" x2="17.70" y2="48.80" stroke="#555" stroke-width="0.6"/>
<text x="18.90" y="54.20" font-size="3.3" text-anchor="middle" font-weight="bold" fill="#222" stroke="#222" stroke-width="0.1">10</text>
<text x="20.60" y="51.10" font-size="2.5" font-weight="bold" fill="#222" stroke="#222" stroke-width="0.08">2</text>
<line x1="26.60" y1="47.7" x2="26.60" y2="48.80" stroke="#555" stroke-width="0.6"/>
<text x="27.80" y="54.20" font-size="3.3" text-anchor="middle" font-weight="bold" fill="#222" stroke="#222" stroke-width="0.1">10</text>
<text x="29.50" y="51.10" font-size="2.5" font-weight="bold" fill="#222" stroke="#222" stroke-width="0.08">3</text>
<line x1="35.20" y1="47.7" x2="35.20" y2="48.80" stroke="#555" stroke-width="0.6"/>
<text x="36.40" y="54.20" font-size="3.3" text-anchor="middle" font-weight="bold" fill="#222" stroke="#222" stroke-width="0.1">10</text>
<text x="38.10" y="51.10" font-size="2.5" font-weight="bold" fill="#222" stroke="#222" stroke-width="0.08">4</text>
<line x1="43.60" y1="47.7" x2="43.60" y2="48.80" stroke="#555" stroke-width="0.6"/>
<text x="44.80" y="54.20" font-size="3.3" text-anchor="middle" font-weight="bold" fill="#222" stroke="#222" stroke-width="0.1">10</text>
<text x="46.50" y="51.10" font-size="2.5" font-weight="bold" fill="#222" stroke="#222" stroke-width="0.08">5</text>
<path d="M0,47.70 L0.00,47.65 L0.40,47.64 L0.80,47.63 L1.21,47.61 L1.61,47.60 L2.01,47.58 L2.41,47.55 L2.82,47.53 L3.22,47.50 L3.62,47.47 L4.03,47.43 L4.43,47.39 L4.83,47.34 L5.23,47.28 L5.63,47.21 L6.04,47.11 L6.44,46.97 L6.84,46.79 L7.25,46.53 L7.65,46.17 L8.05,45.69 L8.45,45.06 L8.85,44.26 L9.26,43.31 L9.66,42.21 L10.06,41.02 L10.46,39.81 L10.87,38.67 L11.27,37.68 L11.67,36.92 L12.07,36.44 L12.48,36.29 L12.88,36.55 L13.28,36.97 L13.68,37.19 L14.09,36.91 L14.49,36.01 L14.89,34.66 L15.29,33.26 L15.70,32.38 L16.10,32.42 L16.50,33.43 L16.90,35.21 L17.31,37.46 L17.71,39.78 L18.11,41.86 L18.51,43.51 L18.92,44.68 L19.32,45.44 L19.72,45.89 L20.12,46.12 L20.53,46.22 L20.93,46.23 L21.33,46.19 L21.73,46.10 L22.14,45.95 L22.54,45.75 L22.94,45.45 L23.34,45.01 L23.75,44.37 L24.15,43.40 L24.55,42.00 L24.95,40.01 L25.36,37.32 L25.76,33.84 L26.16,29.59 L26.56,24.74 L26.97,19.60 L27.37,14.62 L27.77,10.34 L28.18,7.26 L28.58,5.81 L28.98,6.12 L29.38,8.03 L29.79,11.28 L30.19,15.52 L30.59,20.28 L30.99,25.13 L31.39,29.70 L31.80,33.72 L32.20,37.06 L32.60,39.70 L33.01,41.70 L33.41,43.16 L33.81,44.20 L34.21,44.93 L34.62,45.45 L35.02,45.83 L35.42,46.12 L35.82,46.35 L36.23,46.54 L36.63,46.70 L37.03,46.84 L37.43,46.97 L37.84,47.08 L38.24,47.18 L38.64,47.27 L39.04,47.34 L39.45,47.40 L39.85,47.46 L40.25,47.50 L40.65,47.54 L41.05,47.57 L41.46,47.60 L41.86,47.62 L42.26,47.64 L42.66,47.65 L43.07,47.66 L43.47,47.67 L43.87,47.68 L44.27,47.68 L44.68,47.69 L45.08,47.69 L45.48,47.69 L45.88,47.70 L46.29,47.70 L46.69,47.70 L47.09,47.70 L47.49,47.70 L47.90,47.70 L48.30,47.70 L48.30,47.70 Z" fill="#979797" stroke="#3a3a3a" stroke-width="0.6" stroke-linejoin="round"/>
<line x1="0" y1="32.10" x2="23.00" y2="32.10" stroke="#474747" stroke-width="0.8"/>
<line x1="23.00" y1="31.20" x2="23.00" y2="33.00" stroke="#505050" stroke-width="0.6"/>
<line x1="22.50" y1="34.34" x2="48.3" y2="34.34" stroke="#555" stroke-width="0.9"/>
<line x1="22.50" y1="33.34" x2="22.50" y2="35.34" stroke="#5a5a5a" stroke-width="0.6"/>
<text x="4.4" y="6.9" font-size="4.4" font-weight="bold" fill="#1f2ff5" stroke="#1f2ff5" stroke-width="0.2">(-)</text>
<text x="3.7" y="13.3" font-size="4.6" font-weight="bold" fill="#1f2ff5" stroke="#1f2ff5" stroke-width="0.2">36.4%</text>
<text x="44.90" y="6.9" font-size="4.4" text-anchor="end" font-weight="bold" fill="#1f2ff5" stroke="#1f2ff5" stroke-width="0.2">(+)</text>
<text x="45.30" y="13.3" font-size="4.6" text-anchor="end" font-weight="bold" fill="#1f2ff5" stroke="#1f2ff5" stroke-width="0.2">63.6%</text>
</g>
<g transform="translate(480.20,206.40)">
<rect x="0" y="0" width="48.3" height="48.1" fill="#fff" stroke="#9a9a9a" stroke-width="0.7"/>
<line x1="-1.2" y1="4.80" x2="0" y2="4.80" stroke="#444" stroke-width="0.6"/>
<text x="-1.8" y="6.05" font-size="3.5" text-anchor="end" font-weight="bold" fill="#111" stroke="#111" stroke-width="0.12">25</text>
<line x1="-0.7" y1="6.94" x2="0" y2="6.94" stroke="#777" stroke-width="0.4"/>
<line x1="-0.7" y1="9.07" x2="0" y2="9.07" stroke="#777" stroke-width="0.4"/>
<line x1="-0.7" y1="11.21" x2="0" y2="11.21" stroke="#777" stroke-width="0.4"/>
<line x1="-1.2" y1="13.34" x2="0" y2="13.34" stroke="#444" stroke-width="0.6"/>
<text x="-1.8" y="14.59" font-size="3.5" text-anchor="end" font-weight="bold" fill="#111" stroke="#111" stroke-width="0.12">20</text>
<line x1="-0.7" y1="15.47" x2="0" y2="15.47" stroke="#777" stroke-width="0.4"/>
<line x1="-0.7" y1="17.61" x2="0" y2="17.61" stroke="#777" stroke-width="0.4"/>
<line x1="-0.7" y1="19.75" x2="0" y2="19.75" stroke="#777" stroke-width="0.4"/>
<line x1="-1.2" y1="21.88" x2="0" y2="21.88" stroke="#444" stroke-width="0.6"/>
<text x="-1.8" y="23.13" font-size="3.5" text-anchor="end" font-weight="bold" fill="#111" stroke="#111" stroke-width="0.12">15</text>
<line x1="-0.7" y1="24.02" x2="0" y2="24.02" stroke="#777" stroke-width="0.4"/>
<line x1="-0.7" y1="26.15" x2="0" y2="26.15" stroke="#777" stroke-width="0.4"/>
<line x1="-0.7" y1="28.29" x2="0" y2="28.29" stroke="#777" stroke-width="0.4"/>
<line x1="-1.2" y1="30.42" x2="0" y2="30.42" stroke="#444" stroke-width="0.6"/>
<text x="-1.8" y="31.67" font-size="3.5" text-anchor="end" font-weight="bold" fill="#111" stroke="#111" stroke-width="0.12">10</text>
<line x1="-0.7" y1="32.56" x2="0" y2="32.56" stroke="#777" stroke-width="0.4"/>
<line x1="-0.7" y1="34.69" x2="0" y2="34.69" stroke="#777" stroke-width="0.4"/>
<line x1="-0.7" y1="36.83" x2="0" y2="36.83" stroke="#777" stroke-width="0.4"/>
<line x1="-1.2" y1="38.96" x2="0" y2="38.96" stroke="#444" stroke-width="0.6"/>
<text x="-1.8" y="40.21" font-size="3.5" text-anchor="end" font-weight="bold" fill="#111" stroke="#111" stroke-width="0.12">5</text>
<line x1="-0.7" y1="41.09" x2="0" y2="41.09" stroke="#777" stroke-width="0.4"/>
<line x1="-0.7" y1="43.23" x2="0" y2="43.23" stroke="#777" stroke-width="0.4"/>
<line x1="-0.7" y1="45.37" x2="0" y2="45.37" stroke="#777" stroke-width="0.4"/>
<line x1="-1.2" y1="47.50" x2="0" y2="47.50" stroke="#444" stroke-width="0.6"/>
<text x="-1.8" y="48.75" font-size="3.5" text-anchor="end" font-weight="bold" fill="#111" stroke="#111" stroke-width="0.12">0</text>
<line x1="1.40" y1="48.1" x2="1.40" y2="49.20" stroke="#555" stroke-width="0.6"/>
<text x="2.60" y="54.60" font-size="3.3" text-anchor="middle" font-weight="bold" fill="#222" stroke="#222" stroke-width="0.1">10</text>
<text x="4.30" y="51.50" font-size="2.5" font-weight="bold" fill="#222" stroke="#222" stroke-width="0.08">0</text>
<line x1="8.80" y1="48.1" x2="8.80" y2="49.20" stroke="#555" stroke-width="0.6"/>
<text x="10.00" y="54.60" font-size="3.3" text-anchor="middle" font-weight="bold" fill="#222" stroke="#222" stroke-width="0.1">10</text>
<text x="11.70" y="51.50" font-size="2.5" font-weight="bold" fill="#222" stroke="#222" stroke-width="0.08">1</text>
<line x1="17.70" y1="48.1" x2="17.70" y2="49.20" stroke="#555" stroke-width="0.6"/>
<text x="18.90" y="54.60" font-size="3.3" text-anchor="middle" font-weight="bold" fill="#222" stroke="#222" stroke-width="0.1">10</text>
<text x="20.60" y="51.50" font-size="2.5" font-weight="bold" fill="#222" stroke="#222" stroke-width="0.08">2</text>
<line x1="26.60" y1="48.1" x2="26.60" y2="49.20" stroke="#555" stroke-width="0.6"/>
<text x="27.80" y="54.60" font-size="3.3" text-anchor="middle" font-weight="bold" fill="#222" stroke="#222" stroke-width="0.1">10</text>
<text x="29.50" y="51.50" font-size="2.5" font-weight="bold" fill="#222" stroke="#222" stroke-width="0.08">3</text>
<line x1="35.20" y1="48.1" x2="35.20" y2="49.20" stroke="#555" stroke-width="0.6"/>
<text x="36.40" y="54.60" font-size="3.3" text-anchor="middle" font-weight="bold" fill="#222" stroke="#222" stroke-width="0.1">10</text>
<text x="38.10" y="51.50" font-size="2.5" font-weight="bold" fill="#222" stroke="#222" stroke-width="0.08">4</text>
<line x1="43.60" y1="48.1" x2="43.60" y2="49.20" stroke="#555" stroke-width="0.6"/>
<text x="44.80" y="54.60" font-size="3.3" text-anchor="middle" font-weight="bold" fill="#222" stroke="#222" stroke-width="0.1">10</text>
<text x="46.50" y="51.50" font-size="2.5" font-weight="bold" fill="#222" stroke="#222" stroke-width="0.08">5</text>
<path d="M0,48.10 L0.00,48.09 L0.40,48.08 L0.80,48.08 L1.21,48.08 L1.61,48.07 L2.01,48.07 L2.41,48.06 L2.82,48.06 L3.22,48.05 L3.62,48.04 L4.03,48.04 L4.43,48.02 L4.83,48.01 L5.23,47.99 L5.63,47.97 L6.04,47.94 L6.44,47.90 L6.84,47.84 L7.25,47.77 L7.65,47.67 L8.05,47.54 L8.45,47.39 L8.85,47.20 L9.26,46.98 L9.66,46.74 L10.06,46.48 L10.46,46.21 L10.87,45.94 L11.27,45.68 L11.67,45.40 L12.07,45.09 L12.48,44.69 L12.88,44.17 L13.28,43.46 L13.68,42.55 L14.09,41.45 L14.49,40.24 L14.89,39.03 L15.29,37.90 L15.70,36.86 L16.10,35.76 L16.50,34.28 L16.90,32.05 L17.31,28.80 L17.71,24.62 L18.11,20.05 L18.51,16.02 L18.92,13.48 L19.32,13.00 L19.72,14.26 L20.12,16.71 L20.53,19.58 L20.93,22.16 L21.33,23.99 L21.73,24.99 L22.14,25.36 L22.54,25.42 L22.94,25.42 L23.34,25.43 L23.75,25.33 L24.15,24.88 L24.55,23.88 L24.95,22.29 L25.36,20.33 L25.76,18.47 L26.16,17.30 L26.56,17.33 L26.97,18.75 L27.37,21.36 L27.77,24.90 L28.18,28.92 L28.58,32.95 L28.98,36.61 L29.38,39.66 L29.79,42.03 L30.19,43.74 L30.59,44.94 L30.99,45.74 L31.39,46.28 L31.80,46.64 L32.20,46.91 L32.60,47.12 L33.01,47.29 L33.41,47.43 L33.81,47.55 L34.21,47.65 L34.62,47.74 L35.02,47.81 L35.42,47.87 L35.82,47.92 L36.23,47.96 L36.63,47.99 L37.03,48.02 L37.43,48.04 L37.84,48.05 L38.24,48.07 L38.64,48.08 L39.04,48.08 L39.45,48.09 L39.85,48.09 L40.25,48.09 L40.65,48.10 L41.05,48.10 L41.46,48.10 L41.86,48.10 L42.26,48.10 L42.66,48.10 L43.07,48.10 L43.47,48.10 L43.87,48.10 L44.27,48.10 L44.68,48.10 L45.08,48.10 L45.48,48.10 L45.88,48.10 L46.29,48.10 L46.69,48.10 L47.09,48.10 L47.49,48.10 L47.90,48.10 L48.30,48.10 L48.30,48.10 Z" fill="#979797" stroke="#3a3a3a" stroke-width="0.6" stroke-linejoin="round"/>
<line x1="0" y1="27.42" x2="17.60" y2="27.42" stroke="#474747" stroke-width="0.8"/>
<line x1="17.60" y1="26.52" x2="17.60" y2="28.32" stroke="#505050" stroke-width="0.6"/>
<line x1="17.10" y1="29.82" x2="48.3" y2="29.82" stroke="#555" stroke-width="0.9"/>
<line x1="17.10" y1="28.82" x2="17.10" y2="30.82" stroke="#5a5a5a" stroke-width="0.6"/>
<text x="4.4" y="6.9" font-size="4.4" font-weight="bold" fill="#1f2ff5" stroke="#1f2ff5" stroke-width="0.2">(-)</text>
<text x="3.7" y="13.3" font-size="4.6" font-weight="bold" fill="#1f2ff5" stroke="#1f2ff5" stroke-width="0.2">16.4%</text>
<text x="44.90" y="6.9" font-size="4.4" text-anchor="end" font-weight="bold" fill="#1f2ff5" stroke="#1f2ff5" stroke-width="0.2">(+)</text>
<text x="45.30" y="13.3" font-size="4.6" text-anchor="end" font-weight="bold" fill="#1f2ff5" stroke="#1f2ff5" stroke-width="0.2">83.6%</text>
</g>
<text x="536.80" y="57.40" font-size="6.0" text-anchor="middle" font-weight="bold" fill="#000" transform="rotate(-90 536.80 57.40)">HSC-3</text>
<text x="536.80" y="115.05" font-size="6.0" text-anchor="middle" font-weight="bold" fill="#000" transform="rotate(-90 536.80 115.05)">Ca9-22</text>
<text x="536.80" y="172.95" font-size="6.0" text-anchor="middle" font-weight="bold" fill="#000" transform="rotate(-90 536.80 172.95)">OC-2</text>
<text x="536.80" y="230.45" font-size="6.0" text-anchor="middle" font-weight="bold" fill="#000" transform="rotate(-90 536.80 230.45)">HGF-1</text>
<text x="409.30" y="144.80" font-size="7.6" text-anchor="middle" font-weight="bold" fill="#000" transform="rotate(-90 409.30 144.80)">Count</text>
<text x="475.95" y="270.40" font-size="7.7" text-anchor="middle" font-weight="bold" fill="#000">MitoMP intensity</text>
<text x="6.00" y="291.00" font-size="14.8" text-anchor="start" font-weight="bold" fill="#000">B</text>
<text x="203.70" y="291.10" font-size="14.8" text-anchor="start" font-weight="bold" fill="#000">D</text>
<rect x="37.6" y="296.2" width="135.9" height="97.80000000000001" fill="none" stroke="#222" stroke-width="0.9"/>
<line x1="36.2" y1="394.00" x2="37.6" y2="394.00" stroke="#222" stroke-width="0.8"/>
<text x="33.00" y="396.30" font-size="6.6" text-anchor="end" font-weight="bold" fill="#111">0</text>
<line x1="36.2" y1="374.44" x2="37.6" y2="374.44" stroke="#222" stroke-width="0.8"/>
<text x="33.00" y="376.74" font-size="6.6" text-anchor="end" font-weight="bold" fill="#111">20</text>
<line x1="36.2" y1="354.88" x2="37.6" y2="354.88" stroke="#222" stroke-width="0.8"/>
<text x="33.00" y="357.18" font-size="6.6" text-anchor="end" font-weight="bold" fill="#111">40</text>
<line x1="36.2" y1="335.32" x2="37.6" y2="335.32" stroke="#222" stroke-width="0.8"/>
<text x="33.00" y="337.62" font-size="6.6" text-anchor="end" font-weight="bold" fill="#111">60</text>
<line x1="36.2" y1="315.76" x2="37.6" y2="315.76" stroke="#222" stroke-width="0.8"/>
<text x="33.00" y="318.06" font-size="6.6" text-anchor="end" font-weight="bold" fill="#111">80</text>
<text x="20.40" y="345.00" font-size="9.3" text-anchor="middle" font-weight="bold" fill="#000" transform="rotate(-90 20.40 345.00)">MitoMP (-) (%)</text>
<line x1="51.30" y1="389.11" x2="51.30" y2="388.52" stroke="#000" stroke-width="0.7"/>
<line x1="49.70" y1="388.52" x2="52.90" y2="388.52" stroke="#000" stroke-width="0.7"/>
<rect x="47.80" y="389.11" width="7.0" height="4.89" fill="#000" stroke="#000" stroke-width="0.7"/>
<text x="51.30" y="386.12" font-size="7.4" text-anchor="middle" font-weight="bold" fill="#000">c</text>
<line x1="59.60" y1="382.26" x2="59.60" y2="380.11" stroke="#000" stroke-width="0.7"/>
<line x1="58.00" y1="380.11" x2="61.20" y2="380.11" stroke="#000" stroke-width="0.7"/>
<rect x="56.10" y="382.26" width="7.0" height="11.74" fill="#dcdcdc" stroke="#000" stroke-width="0.7"/>
<text x="59.60" y="377.71" font-size="7.4" text-anchor="middle" font-weight="bold" fill="#000">b</text>
<line x1="67.70" y1="364.17" x2="67.70" y2="361.04" stroke="#000" stroke-width="0.7"/>
<line x1="66.10" y1="361.04" x2="69.30" y2="361.04" stroke="#000" stroke-width="0.7"/>
<rect x="64.20" y="364.17" width="7.0" height="29.83" fill="#8a8a8a" stroke="#000" stroke-width="0.7"/>
<text x="67.70" y="358.64" font-size="7.4" text-anchor="middle" font-weight="bold" fill="#000">a</text>
<line x1="82.30" y1="387.64" x2="82.30" y2="387.06" stroke="#000" stroke-width="0.7"/>
<line x1="80.70" y1="387.06" x2="83.90" y2="387.06" stroke="#000" stroke-width="0.7"/>
<rect x="78.80" y="387.64" width="7.0" height="6.36" fill="#000" stroke="#000" stroke-width="0.7"/>
<text x="82.30" y="384.66" font-size="7.4" text-anchor="middle" font-weight="bold" fill="#000">c</text>
<line x1="90.60" y1="379.82" x2="90.60" y2="377.67" stroke="#000" stroke-width="0.7"/>
<line x1="89.00" y1="377.67" x2="92.20" y2="377.67" stroke="#000" stroke-width="0.7"/>
<rect x="87.10" y="379.82" width="7.0" height="14.18" fill="#dcdcdc" stroke="#000" stroke-width="0.7"/>
<text x="90.60" y="375.27" font-size="7.4" text-anchor="middle" font-weight="bold" fill="#000">b</text>
<line x1="98.70" y1="358.79" x2="98.70" y2="357.03" stroke="#000" stroke-width="0.7"/>
<line x1="97.10" y1="357.03" x2="100.30" y2="357.03" stroke="#000" stroke-width="0.7"/>
<rect x="95.20" y="358.79" width="7.0" height="35.21" fill="#8a8a8a" stroke="#000" stroke-width="0.7"/>
<text x="98.70" y="354.63" font-size="7.4" text-anchor="middle" font-weight="bold" fill="#000">a</text>
<line x1="113.30" y1="389.79" x2="113.30" y2="389.40" stroke="#000" stroke-width="0.7"/>
<line x1="111.70" y1="389.40" x2="114.90" y2="389.40" stroke="#000" stroke-width="0.7"/>
<rect x="109.80" y="389.79" width="7.0" height="4.21" fill="#000" stroke="#000" stroke-width="0.7"/>
<text x="113.30" y="387.00" font-size="7.4" text-anchor="middle" font-weight="bold" fill="#000">c</text>
<line x1="121.60" y1="384.61" x2="121.60" y2="383.83" stroke="#000" stroke-width="0.7"/>
<line x1="120.00" y1="383.83" x2="123.20" y2="383.83" stroke="#000" stroke-width="0.7"/>
<rect x="118.10" y="384.61" width="7.0" height="9.39" fill="#dcdcdc" stroke="#000" stroke-width="0.7"/>
<text x="121.60" y="381.43" font-size="7.4" text-anchor="middle" font-weight="bold" fill="#000">b</text>
<line x1="129.70" y1="370.53" x2="129.70" y2="367.79" stroke="#000" stroke-width="0.7"/>
<line x1="128.10" y1="367.79" x2="131.30" y2="367.79" stroke="#000" stroke-width="0.7"/>
<rect x="126.20" y="370.53" width="7.0" height="23.47" fill="#8a8a8a" stroke="#000" stroke-width="0.7"/>
<text x="129.70" y="365.39" font-size="7.4" text-anchor="middle" font-weight="bold" fill="#000">a</text>
<line x1="144.30" y1="389.60" x2="144.30" y2="389.21" stroke="#000" stroke-width="0.7"/>
<line x1="142.70" y1="389.21" x2="145.90" y2="389.21" stroke="#000" stroke-width="0.7"/>
<rect x="140.80" y="389.60" width="7.0" height="4.40" fill="#000" stroke="#000" stroke-width="0.7"/>
<text x="144.30" y="386.81" font-size="7.4" text-anchor="middle" font-weight="bold" fill="#000">c</text>
<line x1="152.60" y1="386.67" x2="152.60" y2="386.08" stroke="#000" stroke-width="0.7"/>
<line x1="151.00" y1="386.08" x2="154.20" y2="386.08" stroke="#000" stroke-width="0.7"/>
<rect x="149.10" y="386.67" width="7.0" height="7.33" fill="#dcdcdc" stroke="#000" stroke-width="0.7"/>
<text x="152.60" y="383.68" font-size="7.4" text-anchor="middle" font-weight="bold" fill="#000">b</text>
<line x1="160.70" y1="381.77" x2="160.70" y2="380.99" stroke="#000" stroke-width="0.7"/>
<line x1="159.10" y1="380.99" x2="162.30" y2="380.99" stroke="#000" stroke-width="0.7"/>
<rect x="157.20" y="381.77" width="7.0" height="12.23" fill="#8a8a8a" stroke="#000" stroke-width="0.7"/>
<text x="160.70" y="378.59" font-size="7.4" text-anchor="middle" font-weight="bold" fill="#000">a</text>
<text x="59.50" y="404.9" font-size="7.6" text-anchor="middle" font-weight="bold" fill="#000">HSC-3</text>
<text x="90.50" y="404.9" font-size="7.6" text-anchor="middle" font-weight="bold" fill="#000">Ca9-22</text>
<text x="121.50" y="404.9" font-size="7.6" text-anchor="middle" font-weight="bold" fill="#000">OC-2</text>
<text x="152.50" y="404.9" font-size="7.6" text-anchor="middle" font-weight="bold" fill="#000">HGF-1</text>
<rect x="129.30" y="300.70" width="12.6" height="3.0" fill="#000" stroke="#000" stroke-width="0.6"/>
<text x="144.80" y="304.20" font-size="5.6" font-weight="normal" fill="#000" stroke="#000" stroke-width="0.15">Control</text>
<rect x="129.30" y="307.30" width="12.6" height="3.0" fill="#dcdcdc" stroke="#000" stroke-width="0.6"/>
<text x="144.80" y="310.80" font-size="5.6" font-weight="normal" fill="#000" stroke="#000" stroke-width="0.15">POMx 50</text>
<rect x="129.30" y="314.10" width="12.6" height="3.0" fill="#8a8a8a" stroke="#000" stroke-width="0.6"/>
<text x="144.80" y="317.60" font-size="5.6" font-weight="normal" fill="#000" stroke="#000" stroke-width="0.15">POMx 100</text>
<text x="43.00" y="308.80" font-size="8.0" text-anchor="start" font-weight="bold" fill="#000">24 h</text>
<rect x="236.4" y="296.4" width="135.6" height="97.60000000000002" fill="none" stroke="#222" stroke-width="0.9"/>
<line x1="235.0" y1="394.00" x2="236.4" y2="394.00" stroke="#222" stroke-width="0.8"/>
<text x="231.20" y="396.30" font-size="6.6" text-anchor="end" font-weight="bold" fill="#111">0</text>
<line x1="235.0" y1="374.48" x2="236.4" y2="374.48" stroke="#222" stroke-width="0.8"/>
<text x="231.20" y="376.78" font-size="6.6" text-anchor="end" font-weight="bold" fill="#111">20</text>
<line x1="235.0" y1="354.96" x2="236.4" y2="354.96" stroke="#222" stroke-width="0.8"/>
<text x="231.20" y="357.26" font-size="6.6" text-anchor="end" font-weight="bold" fill="#111">40</text>
<line x1="235.0" y1="335.44" x2="236.4" y2="335.44" stroke="#222" stroke-width="0.8"/>
<text x="231.20" y="337.74" font-size="6.6" text-anchor="end" font-weight="bold" fill="#111">60</text>
<line x1="235.0" y1="315.92" x2="236.4" y2="315.92" stroke="#222" stroke-width="0.8"/>
<text x="231.20" y="318.22" font-size="6.6" text-anchor="end" font-weight="bold" fill="#111">80</text>
<text x="219.20" y="344.40" font-size="9.3" text-anchor="middle" font-weight="bold" fill="#000" transform="rotate(-90 219.20 344.40)">MitoMP (-) (%)</text>
<line x1="249.10" y1="389.12" x2="249.10" y2="388.53" stroke="#000" stroke-width="0.7"/>
<line x1="247.50" y1="388.53" x2="250.70" y2="388.53" stroke="#000" stroke-width="0.7"/>
<rect x="245.60" y="389.12" width="7.0" height="4.88" fill="#000" stroke="#000" stroke-width="0.7"/>
<text x="249.10" y="386.13" font-size="7.4" text-anchor="middle" font-weight="bold" fill="#000">b</text>
<line x1="257.80" y1="369.60" x2="257.80" y2="361.79" stroke="#000" stroke-width="0.7"/>
<line x1="256.20" y1="361.79" x2="259.40" y2="361.79" stroke="#000" stroke-width="0.7"/>
<rect x="254.30" y="369.60" width="7.0" height="24.40" fill="#dcdcdc" stroke="#000" stroke-width="0.7"/>
<text x="257.80" y="359.39" font-size="7.4" text-anchor="middle" font-weight="bold" fill="#000">a</text>
<line x1="266.10" y1="363.74" x2="266.10" y2="359.84" stroke="#000" stroke-width="0.7"/>
<line x1="264.50" y1="359.84" x2="267.70" y2="359.84" stroke="#000" stroke-width="0.7"/>
<rect x="262.60" y="363.74" width="7.0" height="30.26" fill="#8a8a8a" stroke="#000" stroke-width="0.7"/>
<text x="266.10" y="357.44" font-size="7.4" text-anchor="middle" font-weight="bold" fill="#000">a</text>
<line x1="280.10" y1="389.12" x2="280.10" y2="388.53" stroke="#000" stroke-width="0.7"/>
<line x1="278.50" y1="388.53" x2="281.70" y2="388.53" stroke="#000" stroke-width="0.7"/>
<rect x="276.60" y="389.12" width="7.0" height="4.88" fill="#000" stroke="#000" stroke-width="0.7"/>
<text x="280.10" y="386.13" font-size="7.4" text-anchor="middle" font-weight="bold" fill="#000">c</text>
<line x1="288.80" y1="366.67" x2="288.80" y2="365.31" stroke="#000" stroke-width="0.7"/>
<line x1="287.20" y1="365.31" x2="290.40" y2="365.31" stroke="#000" stroke-width="0.7"/>
<rect x="285.30" y="366.67" width="7.0" height="27.33" fill="#dcdcdc" stroke="#000" stroke-width="0.7"/>
<text x="288.80" y="362.91" font-size="7.4" text-anchor="middle" font-weight="bold" fill="#000">b</text>
<line x1="297.10" y1="358.86" x2="297.10" y2="357.69" stroke="#000" stroke-width="0.7"/>
<line x1="295.50" y1="357.69" x2="298.70" y2="357.69" stroke="#000" stroke-width="0.7"/>
<rect x="293.60" y="358.86" width="7.0" height="35.14" fill="#8a8a8a" stroke="#000" stroke-width="0.7"/>
<text x="297.10" y="355.29" font-size="7.4" text-anchor="middle" font-weight="bold" fill="#000">a</text>
<line x1="311.10" y1="389.61" x2="311.10" y2="389.22" stroke="#000" stroke-width="0.7"/>
<line x1="309.50" y1="389.22" x2="312.70" y2="389.22" stroke="#000" stroke-width="0.7"/>
<rect x="307.60" y="389.61" width="7.0" height="4.39" fill="#000" stroke="#000" stroke-width="0.7"/>
<text x="311.10" y="386.82" font-size="7.4" text-anchor="middle" font-weight="bold" fill="#000">b</text>
<line x1="319.80" y1="370.58" x2="319.80" y2="367.65" stroke="#000" stroke-width="0.7"/>
<line x1="318.20" y1="367.65" x2="321.40" y2="367.65" stroke="#000" stroke-width="0.7"/>
<rect x="316.30" y="370.58" width="7.0" height="23.42" fill="#dcdcdc" stroke="#000" stroke-width="0.7"/>
<text x="319.80" y="365.25" font-size="7.4" text-anchor="middle" font-weight="bold" fill="#000">a</text>
<line x1="328.10" y1="370.09" x2="328.10" y2="368.53" stroke="#000" stroke-width="0.7"/>
<line x1="326.50" y1="368.53" x2="329.70" y2="368.53" stroke="#000" stroke-width="0.7"/>
<rect x="324.60" y="370.09" width="7.0" height="23.91" fill="#8a8a8a" stroke="#000" stroke-width="0.7"/>
<text x="328.10" y="366.13" font-size="7.4" text-anchor="middle" font-weight="bold" fill="#000">a</text>
<line x1="342.10" y1="389.61" x2="342.10" y2="389.22" stroke="#000" stroke-width="0.7"/>
<line x1="340.50" y1="389.22" x2="343.70" y2="389.22" stroke="#000" stroke-width="0.7"/>
<rect x="338.60" y="389.61" width="7.0" height="4.39" fill="#000" stroke="#000" stroke-width="0.7"/>
<text x="342.10" y="386.82" font-size="7.4" text-anchor="middle" font-weight="bold" fill="#000">b</text>
<line x1="350.80" y1="384.24" x2="350.80" y2="383.07" stroke="#000" stroke-width="0.7"/>
<line x1="349.20" y1="383.07" x2="352.40" y2="383.07" stroke="#000" stroke-width="0.7"/>
<rect x="347.30" y="384.24" width="7.0" height="9.76" fill="#dcdcdc" stroke="#000" stroke-width="0.7"/>
<text x="350.80" y="380.67" font-size="7.4" text-anchor="middle" font-weight="bold" fill="#000">a</text>
<line x1="359.10" y1="381.80" x2="359.10" y2="381.02" stroke="#000" stroke-width="0.7"/>
<line x1="357.50" y1="381.02" x2="360.70" y2="381.02" stroke="#000" stroke-width="0.7"/>
<rect x="355.60" y="381.80" width="7.0" height="12.20" fill="#8a8a8a" stroke="#000" stroke-width="0.7"/>
<text x="359.10" y="378.62" font-size="7.4" text-anchor="middle" font-weight="bold" fill="#000">a</text>
<text x="257.60" y="404.9" font-size="7.6" text-anchor="middle" font-weight="bold" fill="#000">HSC-3</text>
<text x="288.60" y="404.9" font-size="7.6" text-anchor="middle" font-weight="bold" fill="#000">Ca9-22</text>
<text x="319.60" y="404.9" font-size="7.6" text-anchor="middle" font-weight="bold" fill="#000">OC-2</text>
<text x="350.60" y="404.9" font-size="7.6" text-anchor="middle" font-weight="bold" fill="#000">HGF-1</text>
<rect x="335.70" y="300.40" width="12.6" height="3.0" fill="#000" stroke="#000" stroke-width="0.6"/>
<text x="351.20" y="303.90" font-size="5.6" font-weight="normal" fill="#000" stroke="#000" stroke-width="0.15">Control</text>
<rect x="335.70" y="306.80" width="12.6" height="3.0" fill="#dcdcdc" stroke="#000" stroke-width="0.6"/>
<text x="351.20" y="310.30" font-size="5.6" font-weight="normal" fill="#000" stroke="#000" stroke-width="0.15">12 h</text>
<rect x="335.70" y="313.50" width="12.6" height="3.0" fill="#8a8a8a" stroke="#000" stroke-width="0.6"/>
<text x="351.20" y="317.00" font-size="5.6" font-weight="normal" fill="#000" stroke="#000" stroke-width="0.15">24 h</text>
<rect x="407.4" y="296.2" width="136.10000000000002" height="97.60000000000002" fill="none" stroke="#222" stroke-width="0.9"/>
<line x1="406.0" y1="393.80" x2="407.4" y2="393.80" stroke="#222" stroke-width="0.8"/>
<text x="403.60" y="396.10" font-size="6.6" text-anchor="end" font-weight="bold" fill="#111">0</text>
<line x1="406.0" y1="374.28" x2="407.4" y2="374.28" stroke="#222" stroke-width="0.8"/>
<text x="403.60" y="376.58" font-size="6.6" text-anchor="end" font-weight="bold" fill="#111">20</text>
<line x1="406.0" y1="354.76" x2="407.4" y2="354.76" stroke="#222" stroke-width="0.8"/>
<text x="403.60" y="357.06" font-size="6.6" text-anchor="end" font-weight="bold" fill="#111">40</text>
<line x1="406.0" y1="335.24" x2="407.4" y2="335.24" stroke="#222" stroke-width="0.8"/>
<text x="403.60" y="337.54" font-size="6.6" text-anchor="end" font-weight="bold" fill="#111">60</text>
<line x1="406.0" y1="315.72" x2="407.4" y2="315.72" stroke="#222" stroke-width="0.8"/>
<text x="403.60" y="318.02" font-size="6.6" text-anchor="end" font-weight="bold" fill="#111">80</text>
<text x="390.20" y="344.20" font-size="9.4" text-anchor="middle" font-weight="bold" fill="#000" transform="rotate(-90 390.20 344.20)">MitoMP (-) (%)</text>
<line x1="422.90" y1="388.92" x2="422.90" y2="388.43" stroke="#000" stroke-width="0.7"/>
<line x1="421.30" y1="388.43" x2="424.50" y2="388.43" stroke="#000" stroke-width="0.7"/>
<rect x="417.90" y="388.92" width="10.0" height="4.88" fill="#000" stroke="#000" stroke-width="0.7"/>
<text x="422.90" y="386.03" font-size="7.4" text-anchor="middle" font-weight="bold" fill="#000">b</text>
<line x1="436.20" y1="336.70" x2="436.20" y2="335.14" stroke="#000" stroke-width="0.7"/>
<line x1="434.60" y1="335.14" x2="437.80" y2="335.14" stroke="#000" stroke-width="0.7"/>
<rect x="431.20" y="336.70" width="10.0" height="57.10" fill="#dcdcdc" stroke="#000" stroke-width="0.7"/>
<text x="436.20" y="332.74" font-size="7.4" text-anchor="middle" font-weight="bold" fill="#000">a</text>
<line x1="453.70" y1="388.92" x2="453.70" y2="388.43" stroke="#000" stroke-width="0.7"/>
<line x1="452.10" y1="388.43" x2="455.30" y2="388.43" stroke="#000" stroke-width="0.7"/>
<rect x="448.70" y="388.92" width="10.0" height="4.88" fill="#000" stroke="#000" stroke-width="0.7"/>
<text x="453.70" y="386.03" font-size="7.4" text-anchor="middle" font-weight="bold" fill="#000">b</text>
<line x1="467.00" y1="316.70" x2="467.00" y2="314.74" stroke="#000" stroke-width="0.7"/>
<line x1="465.40" y1="314.74" x2="468.60" y2="314.74" stroke="#000" stroke-width="0.7"/>
<rect x="462.00" y="316.70" width="10.0" height="77.10" fill="#dcdcdc" stroke="#000" stroke-width="0.7"/>
<text x="467.00" y="312.34" font-size="7.4" text-anchor="middle" font-weight="bold" fill="#000">a</text>
<line x1="484.50" y1="388.92" x2="484.50" y2="388.43" stroke="#000" stroke-width="0.7"/>
<line x1="482.90" y1="388.43" x2="486.10" y2="388.43" stroke="#000" stroke-width="0.7"/>
<rect x="479.50" y="388.92" width="10.0" height="4.88" fill="#000" stroke="#000" stroke-width="0.7"/>
<text x="484.50" y="386.03" font-size="7.4" text-anchor="middle" font-weight="bold" fill="#000">b</text>
<line x1="497.80" y1="357.20" x2="497.80" y2="354.66" stroke="#000" stroke-width="0.7"/>
<line x1="496.20" y1="354.66" x2="499.40" y2="354.66" stroke="#000" stroke-width="0.7"/>
<rect x="492.80" y="357.20" width="10.0" height="36.60" fill="#dcdcdc" stroke="#000" stroke-width="0.7"/>
<text x="497.80" y="352.26" font-size="7.4" text-anchor="middle" font-weight="bold" fill="#000">a</text>
<line x1="515.30" y1="388.92" x2="515.30" y2="388.43" stroke="#000" stroke-width="0.7"/>
<line x1="513.70" y1="388.43" x2="516.90" y2="388.43" stroke="#000" stroke-width="0.7"/>
<rect x="510.30" y="388.92" width="10.0" height="4.88" fill="#000" stroke="#000" stroke-width="0.7"/>
<text x="515.30" y="386.03" font-size="7.4" text-anchor="middle" font-weight="bold" fill="#000">b</text>
<line x1="528.60" y1="376.72" x2="528.60" y2="375.55" stroke="#000" stroke-width="0.7"/>
<line x1="527.00" y1="375.55" x2="530.20" y2="375.55" stroke="#000" stroke-width="0.7"/>
<rect x="523.60" y="376.72" width="10.0" height="17.08" fill="#dcdcdc" stroke="#000" stroke-width="0.7"/>
<text x="528.60" y="373.15" font-size="7.4" text-anchor="middle" font-weight="bold" fill="#000">a</text>
<text x="429.55" y="404.9" font-size="7.6" text-anchor="middle" font-weight="bold" fill="#000">HSC-3</text>
<text x="460.35" y="404.9" font-size="7.6" text-anchor="middle" font-weight="bold" fill="#000">Ca9-22</text>
<text x="491.15" y="404.9" font-size="7.6" text-anchor="middle" font-weight="bold" fill="#000">OC-2</text>
<text x="521.95" y="404.9" font-size="7.6" text-anchor="middle" font-weight="bold" fill="#000">HGF-1</text>
<rect x="504.70" y="300.90" width="12.6" height="3.0" fill="#000" stroke="#000" stroke-width="0.6"/>
<text x="520.20" y="304.40" font-size="5.6" font-weight="normal" fill="#000" stroke="#000" stroke-width="0.15">Control</text>
<rect x="504.70" y="307.90" width="12.6" height="3.0" fill="#dcdcdc" stroke="#000" stroke-width="0.6"/>
<text x="520.20" y="311.40" font-size="5.6" font-weight="normal" fill="#000" stroke="#000" stroke-width="0.15">72 h</text>
</svg>
</body></html>
